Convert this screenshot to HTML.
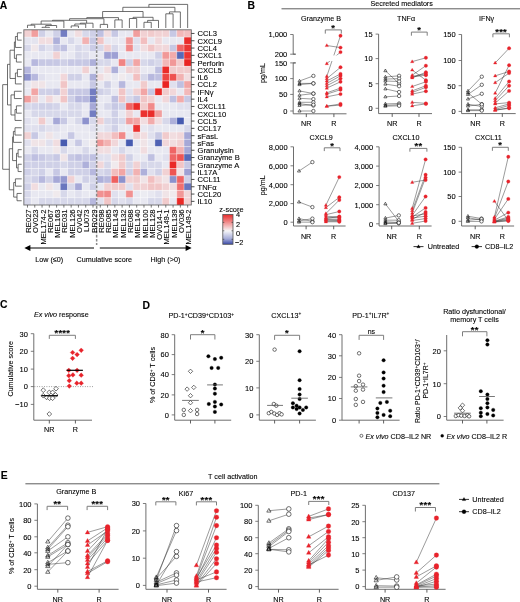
<!DOCTYPE html>
<html><head><meta charset="utf-8"><style>
html,body{margin:0;padding:0;background:#fff;}
svg{display:block;font-family:'Liberation Sans', Arial, Helvetica, sans-serif;}
text{stroke:#000;stroke-width:0.1px;}
</style></head><body>
<svg width="520" height="602" viewBox="0 0 520 602">
<rect width="520" height="602" fill="#fff"/>
<rect x="23.85" y="29.8" width="7.28" height="7.3" fill="#f1d1d3"/>
<rect x="31.13" y="29.8" width="7.28" height="7.3" fill="#f19e9e"/>
<rect x="38.41" y="29.8" width="7.28" height="7.3" fill="#cfd0e7"/>
<rect x="45.69" y="29.8" width="7.28" height="7.3" fill="#e8e8f1"/>
<rect x="52.97" y="29.8" width="7.28" height="7.3" fill="#cfd0e7"/>
<rect x="60.25" y="29.8" width="7.28" height="7.3" fill="#737dc2"/>
<rect x="67.53" y="29.8" width="7.28" height="7.3" fill="#e8e8f1"/>
<rect x="74.81" y="29.8" width="7.28" height="7.3" fill="#f1dde0"/>
<rect x="82.09" y="29.8" width="7.28" height="7.3" fill="#d7d8ea"/>
<rect x="89.37" y="29.8" width="7.28" height="7.3" fill="#cfd0e7"/>
<rect x="96.65" y="29.8" width="7.28" height="7.3" fill="#bfc0e1"/>
<rect x="103.93" y="29.8" width="7.28" height="7.3" fill="#f1dde0"/>
<rect x="111.21" y="29.8" width="7.28" height="7.3" fill="#c7c8e4"/>
<rect x="118.49" y="29.8" width="7.28" height="7.3" fill="#e8e8f1"/>
<rect x="125.77" y="29.8" width="7.28" height="7.3" fill="#e8e8f1"/>
<rect x="133.05" y="29.8" width="7.28" height="7.3" fill="#f19e9e"/>
<rect x="140.33" y="29.8" width="7.28" height="7.3" fill="#f1d1d3"/>
<rect x="147.61" y="29.8" width="7.28" height="7.3" fill="#f1cbcc"/>
<rect x="154.89" y="29.8" width="7.28" height="7.3" fill="#f1d1d3"/>
<rect x="162.17" y="29.8" width="7.28" height="7.3" fill="#f1d1d3"/>
<rect x="169.45" y="29.8" width="7.28" height="7.3" fill="#c7c8e4"/>
<rect x="176.73" y="29.8" width="7.28" height="7.3" fill="#f2b8b9"/>
<rect x="184.01" y="29.8" width="7.28" height="7.3" fill="#f2bebf"/>
<rect x="23.85" y="37.1" width="7.28" height="7.3" fill="#e4e4ef"/>
<rect x="31.13" y="37.1" width="7.28" height="7.3" fill="#e4e4ef"/>
<rect x="38.41" y="37.1" width="7.28" height="7.3" fill="#f1dde0"/>
<rect x="45.69" y="37.1" width="7.28" height="7.3" fill="#f1dde0"/>
<rect x="52.97" y="37.1" width="7.28" height="7.3" fill="#aeb0da"/>
<rect x="60.25" y="37.1" width="7.28" height="7.3" fill="#e8e8f1"/>
<rect x="67.53" y="37.1" width="7.28" height="7.3" fill="#d7d8ea"/>
<rect x="74.81" y="37.1" width="7.28" height="7.3" fill="#e8e8f1"/>
<rect x="82.09" y="37.1" width="7.28" height="7.3" fill="#f2b2b2"/>
<rect x="89.37" y="37.1" width="7.28" height="7.3" fill="#c7c8e4"/>
<rect x="96.65" y="37.1" width="7.28" height="7.3" fill="#f1c5c6"/>
<rect x="103.93" y="37.1" width="7.28" height="7.3" fill="#e8e8f1"/>
<rect x="111.21" y="37.1" width="7.28" height="7.3" fill="#e8e8f1"/>
<rect x="118.49" y="37.1" width="7.28" height="7.3" fill="#e8e8f1"/>
<rect x="125.77" y="37.1" width="7.28" height="7.3" fill="#f19898"/>
<rect x="133.05" y="37.1" width="7.28" height="7.3" fill="#e0e0ee"/>
<rect x="140.33" y="37.1" width="7.28" height="7.3" fill="#f2bebf"/>
<rect x="147.61" y="37.1" width="7.28" height="7.3" fill="#e8e8f1"/>
<rect x="154.89" y="37.1" width="7.28" height="7.3" fill="#f1d7da"/>
<rect x="162.17" y="37.1" width="7.28" height="7.3" fill="#e8e8f1"/>
<rect x="169.45" y="37.1" width="7.28" height="7.3" fill="#e8e8f1"/>
<rect x="176.73" y="37.1" width="7.28" height="7.3" fill="#e8e8f1"/>
<rect x="184.01" y="37.1" width="7.28" height="7.3" fill="#ea2c2a"/>
<rect x="23.85" y="44.4" width="7.28" height="7.3" fill="#d7d8ea"/>
<rect x="31.13" y="44.4" width="7.28" height="7.3" fill="#f0e7ea"/>
<rect x="38.41" y="44.4" width="7.28" height="7.3" fill="#d3d4e9"/>
<rect x="45.69" y="44.4" width="7.28" height="7.3" fill="#e0e0ee"/>
<rect x="52.97" y="44.4" width="7.28" height="7.3" fill="#c7c8e4"/>
<rect x="60.25" y="44.4" width="7.28" height="7.3" fill="#bfc0e1"/>
<rect x="67.53" y="44.4" width="7.28" height="7.3" fill="#e8e8f1"/>
<rect x="74.81" y="44.4" width="7.28" height="7.3" fill="#d7d8ea"/>
<rect x="82.09" y="44.4" width="7.28" height="7.3" fill="#e0e0ee"/>
<rect x="89.37" y="44.4" width="7.28" height="7.3" fill="#cbcce6"/>
<rect x="96.65" y="44.4" width="7.28" height="7.3" fill="#d7d8ea"/>
<rect x="103.93" y="44.4" width="7.28" height="7.3" fill="#f1d1d3"/>
<rect x="111.21" y="44.4" width="7.28" height="7.3" fill="#d7d8ea"/>
<rect x="118.49" y="44.4" width="7.28" height="7.3" fill="#e8e8f1"/>
<rect x="125.77" y="44.4" width="7.28" height="7.3" fill="#f18a8a"/>
<rect x="133.05" y="44.4" width="7.28" height="7.3" fill="#e0e0ee"/>
<rect x="140.33" y="44.4" width="7.28" height="7.3" fill="#f1dde0"/>
<rect x="147.61" y="44.4" width="7.28" height="7.3" fill="#f1c5c6"/>
<rect x="154.89" y="44.4" width="7.28" height="7.3" fill="#f1d7da"/>
<rect x="162.17" y="44.4" width="7.28" height="7.3" fill="#f1d7da"/>
<rect x="169.45" y="44.4" width="7.28" height="7.3" fill="#c7c8e4"/>
<rect x="176.73" y="44.4" width="7.28" height="7.3" fill="#ef6565"/>
<rect x="184.01" y="44.4" width="7.28" height="7.3" fill="#eb3432"/>
<rect x="23.85" y="51.7" width="7.28" height="7.3" fill="#e8e8f1"/>
<rect x="31.13" y="51.7" width="7.28" height="7.3" fill="#e8e8f1"/>
<rect x="38.41" y="51.7" width="7.28" height="7.3" fill="#e8e8f1"/>
<rect x="45.69" y="51.7" width="7.28" height="7.3" fill="#e8e8f1"/>
<rect x="52.97" y="51.7" width="7.28" height="7.3" fill="#f1d1d3"/>
<rect x="60.25" y="51.7" width="7.28" height="7.3" fill="#e8e8f1"/>
<rect x="67.53" y="51.7" width="7.28" height="7.3" fill="#e8e8f1"/>
<rect x="74.81" y="51.7" width="7.28" height="7.3" fill="#d7d8ea"/>
<rect x="82.09" y="51.7" width="7.28" height="7.3" fill="#dcdcec"/>
<rect x="89.37" y="51.7" width="7.28" height="7.3" fill="#e8e8f1"/>
<rect x="96.65" y="51.7" width="7.28" height="7.3" fill="#e8e8f1"/>
<rect x="103.93" y="51.7" width="7.28" height="7.3" fill="#9ea0d4"/>
<rect x="111.21" y="51.7" width="7.28" height="7.3" fill="#9ea0d4"/>
<rect x="118.49" y="51.7" width="7.28" height="7.3" fill="#e8e8f1"/>
<rect x="125.77" y="51.7" width="7.28" height="7.3" fill="#e8e8f1"/>
<rect x="133.05" y="51.7" width="7.28" height="7.3" fill="#e8e8f1"/>
<rect x="140.33" y="51.7" width="7.28" height="7.3" fill="#e8e8f1"/>
<rect x="147.61" y="51.7" width="7.28" height="7.3" fill="#e8e8f1"/>
<rect x="154.89" y="51.7" width="7.28" height="7.3" fill="#cfd0e7"/>
<rect x="162.17" y="51.7" width="7.28" height="7.3" fill="#f19898"/>
<rect x="169.45" y="51.7" width="7.28" height="7.3" fill="#f2abab"/>
<rect x="176.73" y="51.7" width="7.28" height="7.3" fill="#5869b7"/>
<rect x="184.01" y="51.7" width="7.28" height="7.3" fill="#eb3432"/>
<rect x="23.85" y="59" width="7.28" height="7.3" fill="#e8e8f1"/>
<rect x="31.13" y="59" width="7.28" height="7.3" fill="#b7b8de"/>
<rect x="38.41" y="59" width="7.28" height="7.3" fill="#c7c8e4"/>
<rect x="45.69" y="59" width="7.28" height="7.3" fill="#c7c8e4"/>
<rect x="52.97" y="59" width="7.28" height="7.3" fill="#c7c8e4"/>
<rect x="60.25" y="59" width="7.28" height="7.3" fill="#cfd0e7"/>
<rect x="67.53" y="59" width="7.28" height="7.3" fill="#c7c8e4"/>
<rect x="74.81" y="59" width="7.28" height="7.3" fill="#c7c8e4"/>
<rect x="82.09" y="59" width="7.28" height="7.3" fill="#c7c8e4"/>
<rect x="89.37" y="59" width="7.28" height="7.3" fill="#aeb0da"/>
<rect x="96.65" y="59" width="7.28" height="7.3" fill="#d7d8ea"/>
<rect x="103.93" y="59" width="7.28" height="7.3" fill="#d7d8ea"/>
<rect x="111.21" y="59" width="7.28" height="7.3" fill="#e8e8f1"/>
<rect x="118.49" y="59" width="7.28" height="7.3" fill="#f18484"/>
<rect x="125.77" y="59" width="7.28" height="7.3" fill="#cfd0e7"/>
<rect x="133.05" y="59" width="7.28" height="7.3" fill="#f2a5a5"/>
<rect x="140.33" y="59" width="7.28" height="7.3" fill="#d7d8ea"/>
<rect x="147.61" y="59" width="7.28" height="7.3" fill="#cfd0e7"/>
<rect x="154.89" y="59" width="7.28" height="7.3" fill="#d7d8ea"/>
<rect x="162.17" y="59" width="7.28" height="7.3" fill="#f2b8b9"/>
<rect x="169.45" y="59" width="7.28" height="7.3" fill="#f19898"/>
<rect x="176.73" y="59" width="7.28" height="7.3" fill="#f1cbcc"/>
<rect x="184.01" y="59" width="7.28" height="7.3" fill="#e92422"/>
<rect x="23.85" y="66.3" width="7.28" height="7.3" fill="#b7b8de"/>
<rect x="31.13" y="66.3" width="7.28" height="7.3" fill="#e8e8f1"/>
<rect x="38.41" y="66.3" width="7.28" height="7.3" fill="#e8e8f1"/>
<rect x="45.69" y="66.3" width="7.28" height="7.3" fill="#e8e8f1"/>
<rect x="52.97" y="66.3" width="7.28" height="7.3" fill="#e8e8f1"/>
<rect x="60.25" y="66.3" width="7.28" height="7.3" fill="#e8e8f1"/>
<rect x="67.53" y="66.3" width="7.28" height="7.3" fill="#e8e8f1"/>
<rect x="74.81" y="66.3" width="7.28" height="7.3" fill="#e8e8f1"/>
<rect x="82.09" y="66.3" width="7.28" height="7.3" fill="#f1d1d3"/>
<rect x="89.37" y="66.3" width="7.28" height="7.3" fill="#e8e8f1"/>
<rect x="96.65" y="66.3" width="7.28" height="7.3" fill="#e8e8f1"/>
<rect x="103.93" y="66.3" width="7.28" height="7.3" fill="#f1dde0"/>
<rect x="111.21" y="66.3" width="7.28" height="7.3" fill="#aeb0da"/>
<rect x="118.49" y="66.3" width="7.28" height="7.3" fill="#e8e8f1"/>
<rect x="125.77" y="66.3" width="7.28" height="7.3" fill="#f1d1d3"/>
<rect x="133.05" y="66.3" width="7.28" height="7.3" fill="#f1d1d3"/>
<rect x="140.33" y="66.3" width="7.28" height="7.3" fill="#e8e8f1"/>
<rect x="147.61" y="66.3" width="7.28" height="7.3" fill="#e8e8f1"/>
<rect x="154.89" y="66.3" width="7.28" height="7.3" fill="#bfc0e1"/>
<rect x="162.17" y="66.3" width="7.28" height="7.3" fill="#ea2c2a"/>
<rect x="169.45" y="66.3" width="7.28" height="7.3" fill="#f1cbcc"/>
<rect x="176.73" y="66.3" width="7.28" height="7.3" fill="#f1cbcc"/>
<rect x="184.01" y="66.3" width="7.28" height="7.3" fill="#f1cbcc"/>
<rect x="23.85" y="73.6" width="7.28" height="7.3" fill="#8d92cd"/>
<rect x="31.13" y="73.6" width="7.28" height="7.3" fill="#b7b8de"/>
<rect x="38.41" y="73.6" width="7.28" height="7.3" fill="#e0e0ee"/>
<rect x="45.69" y="73.6" width="7.28" height="7.3" fill="#e8e8f1"/>
<rect x="52.97" y="73.6" width="7.28" height="7.3" fill="#e8e8f1"/>
<rect x="60.25" y="73.6" width="7.28" height="7.3" fill="#f1d7da"/>
<rect x="67.53" y="73.6" width="7.28" height="7.3" fill="#cfd0e7"/>
<rect x="74.81" y="73.6" width="7.28" height="7.3" fill="#cfd0e7"/>
<rect x="82.09" y="73.6" width="7.28" height="7.3" fill="#e8e8f1"/>
<rect x="89.37" y="73.6" width="7.28" height="7.3" fill="#aeb0da"/>
<rect x="96.65" y="73.6" width="7.28" height="7.3" fill="#f1dde0"/>
<rect x="103.93" y="73.6" width="7.28" height="7.3" fill="#f0eaed"/>
<rect x="111.21" y="73.6" width="7.28" height="7.3" fill="#e8e8f1"/>
<rect x="118.49" y="73.6" width="7.28" height="7.3" fill="#f0eaed"/>
<rect x="125.77" y="73.6" width="7.28" height="7.3" fill="#e8e8f1"/>
<rect x="133.05" y="73.6" width="7.28" height="7.3" fill="#f2bebf"/>
<rect x="140.33" y="73.6" width="7.28" height="7.3" fill="#d7d8ea"/>
<rect x="147.61" y="73.6" width="7.28" height="7.3" fill="#b7b8de"/>
<rect x="154.89" y="73.6" width="7.28" height="7.3" fill="#bfc0e1"/>
<rect x="162.17" y="73.6" width="7.28" height="7.3" fill="#ed4543"/>
<rect x="169.45" y="73.6" width="7.28" height="7.3" fill="#ee504e"/>
<rect x="176.73" y="73.6" width="7.28" height="7.3" fill="#f2b2b2"/>
<rect x="184.01" y="73.6" width="7.28" height="7.3" fill="#f1dde0"/>
<rect x="23.85" y="80.9" width="7.28" height="7.3" fill="#e8e8f1"/>
<rect x="31.13" y="80.9" width="7.28" height="7.3" fill="#f0e4e7"/>
<rect x="38.41" y="80.9" width="7.28" height="7.3" fill="#f0e4e7"/>
<rect x="45.69" y="80.9" width="7.28" height="7.3" fill="#e8e8f1"/>
<rect x="52.97" y="80.9" width="7.28" height="7.3" fill="#e8e8f1"/>
<rect x="60.25" y="80.9" width="7.28" height="7.3" fill="#f1c5c6"/>
<rect x="67.53" y="80.9" width="7.28" height="7.3" fill="#e8e8f1"/>
<rect x="74.81" y="80.9" width="7.28" height="7.3" fill="#e8e8f1"/>
<rect x="82.09" y="80.9" width="7.28" height="7.3" fill="#e8e8f1"/>
<rect x="89.37" y="80.9" width="7.28" height="7.3" fill="#c7c8e4"/>
<rect x="96.65" y="80.9" width="7.28" height="7.3" fill="#e8e8f1"/>
<rect x="103.93" y="80.9" width="7.28" height="7.3" fill="#cfd0e7"/>
<rect x="111.21" y="80.9" width="7.28" height="7.3" fill="#e8e8f1"/>
<rect x="118.49" y="80.9" width="7.28" height="7.3" fill="#b7b8de"/>
<rect x="125.77" y="80.9" width="7.28" height="7.3" fill="#e8e8f1"/>
<rect x="133.05" y="80.9" width="7.28" height="7.3" fill="#e8e8f1"/>
<rect x="140.33" y="80.9" width="7.28" height="7.3" fill="#f1cbcc"/>
<rect x="147.61" y="80.9" width="7.28" height="7.3" fill="#e8e8f1"/>
<rect x="154.89" y="80.9" width="7.28" height="7.3" fill="#e8e8f1"/>
<rect x="162.17" y="80.9" width="7.28" height="7.3" fill="#e92422"/>
<rect x="169.45" y="80.9" width="7.28" height="7.3" fill="#e0e0ee"/>
<rect x="176.73" y="80.9" width="7.28" height="7.3" fill="#bfc0e1"/>
<rect x="184.01" y="80.9" width="7.28" height="7.3" fill="#f2a5a5"/>
<rect x="23.85" y="88.2" width="7.28" height="7.3" fill="#e8e8f1"/>
<rect x="31.13" y="88.2" width="7.28" height="7.3" fill="#f2a5a5"/>
<rect x="38.41" y="88.2" width="7.28" height="7.3" fill="#cfd0e7"/>
<rect x="45.69" y="88.2" width="7.28" height="7.3" fill="#cfd0e7"/>
<rect x="52.97" y="88.2" width="7.28" height="7.3" fill="#c7c8e4"/>
<rect x="60.25" y="88.2" width="7.28" height="7.3" fill="#f1d1d3"/>
<rect x="67.53" y="88.2" width="7.28" height="7.3" fill="#c7c8e4"/>
<rect x="74.81" y="88.2" width="7.28" height="7.3" fill="#c7c8e4"/>
<rect x="82.09" y="88.2" width="7.28" height="7.3" fill="#c7c8e4"/>
<rect x="89.37" y="88.2" width="7.28" height="7.3" fill="#737dc2"/>
<rect x="96.65" y="88.2" width="7.28" height="7.3" fill="#cfd0e7"/>
<rect x="103.93" y="88.2" width="7.28" height="7.3" fill="#d7d8ea"/>
<rect x="111.21" y="88.2" width="7.28" height="7.3" fill="#e8e8f1"/>
<rect x="118.49" y="88.2" width="7.28" height="7.3" fill="#f1c5c6"/>
<rect x="125.77" y="88.2" width="7.28" height="7.3" fill="#e0e0ee"/>
<rect x="133.05" y="88.2" width="7.28" height="7.3" fill="#f1d1d3"/>
<rect x="140.33" y="88.2" width="7.28" height="7.3" fill="#f2a5a5"/>
<rect x="147.61" y="88.2" width="7.28" height="7.3" fill="#c7c8e4"/>
<rect x="154.89" y="88.2" width="7.28" height="7.3" fill="#ea2c2a"/>
<rect x="162.17" y="88.2" width="7.28" height="7.3" fill="#f1cbcc"/>
<rect x="169.45" y="88.2" width="7.28" height="7.3" fill="#f1d7da"/>
<rect x="176.73" y="88.2" width="7.28" height="7.3" fill="#e8e8f1"/>
<rect x="184.01" y="88.2" width="7.28" height="7.3" fill="#f2b8b9"/>
<rect x="23.85" y="95.5" width="7.28" height="7.3" fill="#f19e9e"/>
<rect x="31.13" y="95.5" width="7.28" height="7.3" fill="#f1cbcc"/>
<rect x="38.41" y="95.5" width="7.28" height="7.3" fill="#e8e8f1"/>
<rect x="45.69" y="95.5" width="7.28" height="7.3" fill="#f1d7da"/>
<rect x="52.97" y="95.5" width="7.28" height="7.3" fill="#f0eaed"/>
<rect x="60.25" y="95.5" width="7.28" height="7.3" fill="#f1c5c6"/>
<rect x="67.53" y="95.5" width="7.28" height="7.3" fill="#cfd0e7"/>
<rect x="74.81" y="95.5" width="7.28" height="7.3" fill="#b7b8de"/>
<rect x="82.09" y="95.5" width="7.28" height="7.3" fill="#b7b8de"/>
<rect x="89.37" y="95.5" width="7.28" height="7.3" fill="#737dc2"/>
<rect x="96.65" y="95.5" width="7.28" height="7.3" fill="#e8e8f1"/>
<rect x="103.93" y="95.5" width="7.28" height="7.3" fill="#e8e8f1"/>
<rect x="111.21" y="95.5" width="7.28" height="7.3" fill="#bfc0e1"/>
<rect x="118.49" y="95.5" width="7.28" height="7.3" fill="#f1c5c6"/>
<rect x="125.77" y="95.5" width="7.28" height="7.3" fill="#d7d8ea"/>
<rect x="133.05" y="95.5" width="7.28" height="7.3" fill="#c7c8e4"/>
<rect x="140.33" y="95.5" width="7.28" height="7.3" fill="#f1c5c6"/>
<rect x="147.61" y="95.5" width="7.28" height="7.3" fill="#f1d1d3"/>
<rect x="154.89" y="95.5" width="7.28" height="7.3" fill="#e8e8f1"/>
<rect x="162.17" y="95.5" width="7.28" height="7.3" fill="#f1d7da"/>
<rect x="169.45" y="95.5" width="7.28" height="7.3" fill="#bfc0e1"/>
<rect x="176.73" y="95.5" width="7.28" height="7.3" fill="#f2abab"/>
<rect x="184.01" y="95.5" width="7.28" height="7.3" fill="#c7c8e4"/>
<rect x="23.85" y="102.8" width="7.28" height="7.3" fill="#d7d8ea"/>
<rect x="31.13" y="102.8" width="7.28" height="7.3" fill="#d3d4e9"/>
<rect x="38.41" y="102.8" width="7.28" height="7.3" fill="#cfd0e7"/>
<rect x="45.69" y="102.8" width="7.28" height="7.3" fill="#cfd0e7"/>
<rect x="52.97" y="102.8" width="7.28" height="7.3" fill="#d3d4e9"/>
<rect x="60.25" y="102.8" width="7.28" height="7.3" fill="#e8e8f1"/>
<rect x="67.53" y="102.8" width="7.28" height="7.3" fill="#d7d8ea"/>
<rect x="74.81" y="102.8" width="7.28" height="7.3" fill="#d7d8ea"/>
<rect x="82.09" y="102.8" width="7.28" height="7.3" fill="#e8e8f1"/>
<rect x="89.37" y="102.8" width="7.28" height="7.3" fill="#a6a8d7"/>
<rect x="96.65" y="102.8" width="7.28" height="7.3" fill="#e8e8f1"/>
<rect x="103.93" y="102.8" width="7.28" height="7.3" fill="#d7d8ea"/>
<rect x="111.21" y="102.8" width="7.28" height="7.3" fill="#c7c8e4"/>
<rect x="118.49" y="102.8" width="7.28" height="7.3" fill="#cfd0e7"/>
<rect x="125.77" y="102.8" width="7.28" height="7.3" fill="#ef6565"/>
<rect x="133.05" y="102.8" width="7.28" height="7.3" fill="#ea2c2a"/>
<rect x="140.33" y="102.8" width="7.28" height="7.3" fill="#f1cbcc"/>
<rect x="147.61" y="102.8" width="7.28" height="7.3" fill="#f18a8a"/>
<rect x="154.89" y="102.8" width="7.28" height="7.3" fill="#e8e8f1"/>
<rect x="162.17" y="102.8" width="7.28" height="7.3" fill="#e8e8f1"/>
<rect x="169.45" y="102.8" width="7.28" height="7.3" fill="#e8e8f1"/>
<rect x="176.73" y="102.8" width="7.28" height="7.3" fill="#e0e0ee"/>
<rect x="184.01" y="102.8" width="7.28" height="7.3" fill="#e0e0ee"/>
<rect x="23.85" y="110.1" width="7.28" height="7.3" fill="#e8e8f1"/>
<rect x="31.13" y="110.1" width="7.28" height="7.3" fill="#d7d8ea"/>
<rect x="38.41" y="110.1" width="7.28" height="7.3" fill="#d7d8ea"/>
<rect x="45.69" y="110.1" width="7.28" height="7.3" fill="#d7d8ea"/>
<rect x="52.97" y="110.1" width="7.28" height="7.3" fill="#d7d8ea"/>
<rect x="60.25" y="110.1" width="7.28" height="7.3" fill="#d7d8ea"/>
<rect x="67.53" y="110.1" width="7.28" height="7.3" fill="#d7d8ea"/>
<rect x="74.81" y="110.1" width="7.28" height="7.3" fill="#d7d8ea"/>
<rect x="82.09" y="110.1" width="7.28" height="7.3" fill="#e8e8f1"/>
<rect x="89.37" y="110.1" width="7.28" height="7.3" fill="#737dc2"/>
<rect x="96.65" y="110.1" width="7.28" height="7.3" fill="#e8e8f1"/>
<rect x="103.93" y="110.1" width="7.28" height="7.3" fill="#e8e8f1"/>
<rect x="111.21" y="110.1" width="7.28" height="7.3" fill="#cfd0e7"/>
<rect x="118.49" y="110.1" width="7.28" height="7.3" fill="#e8e8f1"/>
<rect x="125.77" y="110.1" width="7.28" height="7.3" fill="#f1d1d3"/>
<rect x="133.05" y="110.1" width="7.28" height="7.3" fill="#e8e8f1"/>
<rect x="140.33" y="110.1" width="7.28" height="7.3" fill="#eb3230"/>
<rect x="147.61" y="110.1" width="7.28" height="7.3" fill="#ea2c2a"/>
<rect x="154.89" y="110.1" width="7.28" height="7.3" fill="#f19e9e"/>
<rect x="162.17" y="110.1" width="7.28" height="7.3" fill="#e8e8f1"/>
<rect x="169.45" y="110.1" width="7.28" height="7.3" fill="#e8e8f1"/>
<rect x="176.73" y="110.1" width="7.28" height="7.3" fill="#e8e8f1"/>
<rect x="184.01" y="110.1" width="7.28" height="7.3" fill="#e8e8f1"/>
<rect x="23.85" y="117.4" width="7.28" height="7.3" fill="#e0e0ee"/>
<rect x="31.13" y="117.4" width="7.28" height="7.3" fill="#e8e8f1"/>
<rect x="38.41" y="117.4" width="7.28" height="7.3" fill="#f1cbcc"/>
<rect x="45.69" y="117.4" width="7.28" height="7.3" fill="#e8e8f1"/>
<rect x="52.97" y="117.4" width="7.28" height="7.3" fill="#a6a8d7"/>
<rect x="60.25" y="117.4" width="7.28" height="7.3" fill="#c7c8e4"/>
<rect x="67.53" y="117.4" width="7.28" height="7.3" fill="#e8e8f1"/>
<rect x="74.81" y="117.4" width="7.28" height="7.3" fill="#d7d8ea"/>
<rect x="82.09" y="117.4" width="7.28" height="7.3" fill="#8d92cd"/>
<rect x="89.37" y="117.4" width="7.28" height="7.3" fill="#d7d8ea"/>
<rect x="96.65" y="117.4" width="7.28" height="7.3" fill="#f1d1d3"/>
<rect x="103.93" y="117.4" width="7.28" height="7.3" fill="#d7d8ea"/>
<rect x="111.21" y="117.4" width="7.28" height="7.3" fill="#cfd0e7"/>
<rect x="118.49" y="117.4" width="7.28" height="7.3" fill="#d7d8ea"/>
<rect x="125.77" y="117.4" width="7.28" height="7.3" fill="#f19e9e"/>
<rect x="133.05" y="117.4" width="7.28" height="7.3" fill="#f2a5a5"/>
<rect x="140.33" y="117.4" width="7.28" height="7.3" fill="#f1dde0"/>
<rect x="147.61" y="117.4" width="7.28" height="7.3" fill="#f2abab"/>
<rect x="154.89" y="117.4" width="7.28" height="7.3" fill="#f1dde0"/>
<rect x="162.17" y="117.4" width="7.28" height="7.3" fill="#d7d8ea"/>
<rect x="169.45" y="117.4" width="7.28" height="7.3" fill="#aeb0da"/>
<rect x="176.73" y="117.4" width="7.28" height="7.3" fill="#475bb0"/>
<rect x="184.01" y="117.4" width="7.28" height="7.3" fill="#e8e8f1"/>
<rect x="23.85" y="124.7" width="7.28" height="7.3" fill="#e0e0ee"/>
<rect x="31.13" y="124.7" width="7.28" height="7.3" fill="#e0e0ee"/>
<rect x="38.41" y="124.7" width="7.28" height="7.3" fill="#d7d8ea"/>
<rect x="45.69" y="124.7" width="7.28" height="7.3" fill="#e0e0ee"/>
<rect x="52.97" y="124.7" width="7.28" height="7.3" fill="#e0e0ee"/>
<rect x="60.25" y="124.7" width="7.28" height="7.3" fill="#e8e8f1"/>
<rect x="67.53" y="124.7" width="7.28" height="7.3" fill="#e8e8f1"/>
<rect x="74.81" y="124.7" width="7.28" height="7.3" fill="#e8e8f1"/>
<rect x="82.09" y="124.7" width="7.28" height="7.3" fill="#e8e8f1"/>
<rect x="89.37" y="124.7" width="7.28" height="7.3" fill="#e0e0ee"/>
<rect x="96.65" y="124.7" width="7.28" height="7.3" fill="#e8e8f1"/>
<rect x="103.93" y="124.7" width="7.28" height="7.3" fill="#e0e0ee"/>
<rect x="111.21" y="124.7" width="7.28" height="7.3" fill="#cfd0e7"/>
<rect x="118.49" y="124.7" width="7.28" height="7.3" fill="#e8e8f1"/>
<rect x="125.77" y="124.7" width="7.28" height="7.3" fill="#e8e8f1"/>
<rect x="133.05" y="124.7" width="7.28" height="7.3" fill="#eb3230"/>
<rect x="140.33" y="124.7" width="7.28" height="7.3" fill="#e8e8f1"/>
<rect x="147.61" y="124.7" width="7.28" height="7.3" fill="#e0e0ee"/>
<rect x="154.89" y="124.7" width="7.28" height="7.3" fill="#e8e8f1"/>
<rect x="162.17" y="124.7" width="7.28" height="7.3" fill="#e8e8f1"/>
<rect x="169.45" y="124.7" width="7.28" height="7.3" fill="#e8e8f1"/>
<rect x="176.73" y="124.7" width="7.28" height="7.3" fill="#e8e8f1"/>
<rect x="184.01" y="124.7" width="7.28" height="7.3" fill="#d7d8ea"/>
<rect x="23.85" y="132" width="7.28" height="7.3" fill="#f1d1d3"/>
<rect x="31.13" y="132" width="7.28" height="7.3" fill="#c7c8e4"/>
<rect x="38.41" y="132" width="7.28" height="7.3" fill="#e8e8f1"/>
<rect x="45.69" y="132" width="7.28" height="7.3" fill="#f0e4e7"/>
<rect x="52.97" y="132" width="7.28" height="7.3" fill="#e8e8f1"/>
<rect x="60.25" y="132" width="7.28" height="7.3" fill="#e8e8f1"/>
<rect x="67.53" y="132" width="7.28" height="7.3" fill="#c7c8e4"/>
<rect x="74.81" y="132" width="7.28" height="7.3" fill="#e8e8f1"/>
<rect x="82.09" y="132" width="7.28" height="7.3" fill="#e8e8f1"/>
<rect x="89.37" y="132" width="7.28" height="7.3" fill="#e8e8f1"/>
<rect x="96.65" y="132" width="7.28" height="7.3" fill="#f1d7da"/>
<rect x="103.93" y="132" width="7.28" height="7.3" fill="#f1d7da"/>
<rect x="111.21" y="132" width="7.28" height="7.3" fill="#f2bebf"/>
<rect x="118.49" y="132" width="7.28" height="7.3" fill="#f18a8a"/>
<rect x="125.77" y="132" width="7.28" height="7.3" fill="#e8e8f1"/>
<rect x="133.05" y="132" width="7.28" height="7.3" fill="#f1d1d3"/>
<rect x="140.33" y="132" width="7.28" height="7.3" fill="#f1dde0"/>
<rect x="147.61" y="132" width="7.28" height="7.3" fill="#e0e0ee"/>
<rect x="154.89" y="132" width="7.28" height="7.3" fill="#c7c8e4"/>
<rect x="162.17" y="132" width="7.28" height="7.3" fill="#f1cbcc"/>
<rect x="169.45" y="132" width="7.28" height="7.3" fill="#f1dde0"/>
<rect x="176.73" y="132" width="7.28" height="7.3" fill="#f1d7da"/>
<rect x="184.01" y="132" width="7.28" height="7.3" fill="#a6a8d7"/>
<rect x="23.85" y="139.3" width="7.28" height="7.3" fill="#e0e0ee"/>
<rect x="31.13" y="139.3" width="7.28" height="7.3" fill="#f0e4e7"/>
<rect x="38.41" y="139.3" width="7.28" height="7.3" fill="#f0e4e7"/>
<rect x="45.69" y="139.3" width="7.28" height="7.3" fill="#e0e0ee"/>
<rect x="52.97" y="139.3" width="7.28" height="7.3" fill="#f1dde0"/>
<rect x="60.25" y="139.3" width="7.28" height="7.3" fill="#475bb0"/>
<rect x="67.53" y="139.3" width="7.28" height="7.3" fill="#e8e8f1"/>
<rect x="74.81" y="139.3" width="7.28" height="7.3" fill="#c7c8e4"/>
<rect x="82.09" y="139.3" width="7.28" height="7.3" fill="#e8e8f1"/>
<rect x="89.37" y="139.3" width="7.28" height="7.3" fill="#f0eaed"/>
<rect x="96.65" y="139.3" width="7.28" height="7.3" fill="#f19898"/>
<rect x="103.93" y="139.3" width="7.28" height="7.3" fill="#f2b2b2"/>
<rect x="111.21" y="139.3" width="7.28" height="7.3" fill="#f1d7da"/>
<rect x="118.49" y="139.3" width="7.28" height="7.3" fill="#e8e8f1"/>
<rect x="125.77" y="139.3" width="7.28" height="7.3" fill="#475bb0"/>
<rect x="133.05" y="139.3" width="7.28" height="7.3" fill="#e8e8f1"/>
<rect x="140.33" y="139.3" width="7.28" height="7.3" fill="#f0e4e7"/>
<rect x="147.61" y="139.3" width="7.28" height="7.3" fill="#e8e8f1"/>
<rect x="154.89" y="139.3" width="7.28" height="7.3" fill="#5062b3"/>
<rect x="162.17" y="139.3" width="7.28" height="7.3" fill="#f1d7da"/>
<rect x="169.45" y="139.3" width="7.28" height="7.3" fill="#f1dde0"/>
<rect x="176.73" y="139.3" width="7.28" height="7.3" fill="#f1d1d3"/>
<rect x="184.01" y="139.3" width="7.28" height="7.3" fill="#a6a8d7"/>
<rect x="23.85" y="146.6" width="7.28" height="7.3" fill="#e8e8f1"/>
<rect x="31.13" y="146.6" width="7.28" height="7.3" fill="#d7d8ea"/>
<rect x="38.41" y="146.6" width="7.28" height="7.3" fill="#e8e8f1"/>
<rect x="45.69" y="146.6" width="7.28" height="7.3" fill="#e8e8f1"/>
<rect x="52.97" y="146.6" width="7.28" height="7.3" fill="#f0e7ea"/>
<rect x="60.25" y="146.6" width="7.28" height="7.3" fill="#d7d8ea"/>
<rect x="67.53" y="146.6" width="7.28" height="7.3" fill="#e8e8f1"/>
<rect x="74.81" y="146.6" width="7.28" height="7.3" fill="#e8e8f1"/>
<rect x="82.09" y="146.6" width="7.28" height="7.3" fill="#d7d8ea"/>
<rect x="89.37" y="146.6" width="7.28" height="7.3" fill="#e8e8f1"/>
<rect x="96.65" y="146.6" width="7.28" height="7.3" fill="#f1dde0"/>
<rect x="103.93" y="146.6" width="7.28" height="7.3" fill="#f1dde0"/>
<rect x="111.21" y="146.6" width="7.28" height="7.3" fill="#e8e8f1"/>
<rect x="118.49" y="146.6" width="7.28" height="7.3" fill="#d7d8ea"/>
<rect x="125.77" y="146.6" width="7.28" height="7.3" fill="#e8e8f1"/>
<rect x="133.05" y="146.6" width="7.28" height="7.3" fill="#e8e8f1"/>
<rect x="140.33" y="146.6" width="7.28" height="7.3" fill="#f1dde0"/>
<rect x="147.61" y="146.6" width="7.28" height="7.3" fill="#e8e8f1"/>
<rect x="154.89" y="146.6" width="7.28" height="7.3" fill="#e8e8f1"/>
<rect x="162.17" y="146.6" width="7.28" height="7.3" fill="#e8e8f1"/>
<rect x="169.45" y="146.6" width="7.28" height="7.3" fill="#ef6565"/>
<rect x="176.73" y="146.6" width="7.28" height="7.3" fill="#f2b2b2"/>
<rect x="184.01" y="146.6" width="7.28" height="7.3" fill="#a6a8d7"/>
<rect x="23.85" y="153.9" width="7.28" height="7.3" fill="#cfd0e7"/>
<rect x="31.13" y="153.9" width="7.28" height="7.3" fill="#bfc0e1"/>
<rect x="38.41" y="153.9" width="7.28" height="7.3" fill="#c7c8e4"/>
<rect x="45.69" y="153.9" width="7.28" height="7.3" fill="#cfd0e7"/>
<rect x="52.97" y="153.9" width="7.28" height="7.3" fill="#c7c8e4"/>
<rect x="60.25" y="153.9" width="7.28" height="7.3" fill="#f0e4e7"/>
<rect x="67.53" y="153.9" width="7.28" height="7.3" fill="#c7c8e4"/>
<rect x="74.81" y="153.9" width="7.28" height="7.3" fill="#bfc0e1"/>
<rect x="82.09" y="153.9" width="7.28" height="7.3" fill="#c7c8e4"/>
<rect x="89.37" y="153.9" width="7.28" height="7.3" fill="#bfc0e1"/>
<rect x="96.65" y="153.9" width="7.28" height="7.3" fill="#e0e0ee"/>
<rect x="103.93" y="153.9" width="7.28" height="7.3" fill="#e0e0ee"/>
<rect x="111.21" y="153.9" width="7.28" height="7.3" fill="#f1dde0"/>
<rect x="118.49" y="153.9" width="7.28" height="7.3" fill="#f1cbcc"/>
<rect x="125.77" y="153.9" width="7.28" height="7.3" fill="#cfd0e7"/>
<rect x="133.05" y="153.9" width="7.28" height="7.3" fill="#e8e8f1"/>
<rect x="140.33" y="153.9" width="7.28" height="7.3" fill="#e8e8f1"/>
<rect x="147.61" y="153.9" width="7.28" height="7.3" fill="#bfc0e1"/>
<rect x="154.89" y="153.9" width="7.28" height="7.3" fill="#e8e8f1"/>
<rect x="162.17" y="153.9" width="7.28" height="7.3" fill="#e0e0ee"/>
<rect x="169.45" y="153.9" width="7.28" height="7.3" fill="#ef6565"/>
<rect x="176.73" y="153.9" width="7.28" height="7.3" fill="#ee5554"/>
<rect x="184.01" y="153.9" width="7.28" height="7.3" fill="#5869b7"/>
<rect x="23.85" y="161.2" width="7.28" height="7.3" fill="#cfd0e7"/>
<rect x="31.13" y="161.2" width="7.28" height="7.3" fill="#cfd0e7"/>
<rect x="38.41" y="161.2" width="7.28" height="7.3" fill="#cfd0e7"/>
<rect x="45.69" y="161.2" width="7.28" height="7.3" fill="#cfd0e7"/>
<rect x="52.97" y="161.2" width="7.28" height="7.3" fill="#cfd0e7"/>
<rect x="60.25" y="161.2" width="7.28" height="7.3" fill="#d7d8ea"/>
<rect x="67.53" y="161.2" width="7.28" height="7.3" fill="#cfd0e7"/>
<rect x="74.81" y="161.2" width="7.28" height="7.3" fill="#cfd0e7"/>
<rect x="82.09" y="161.2" width="7.28" height="7.3" fill="#aeb0da"/>
<rect x="89.37" y="161.2" width="7.28" height="7.3" fill="#cfd0e7"/>
<rect x="96.65" y="161.2" width="7.28" height="7.3" fill="#f1d7da"/>
<rect x="103.93" y="161.2" width="7.28" height="7.3" fill="#d7d8ea"/>
<rect x="111.21" y="161.2" width="7.28" height="7.3" fill="#f0eaed"/>
<rect x="118.49" y="161.2" width="7.28" height="7.3" fill="#f1cbcc"/>
<rect x="125.77" y="161.2" width="7.28" height="7.3" fill="#d7d8ea"/>
<rect x="133.05" y="161.2" width="7.28" height="7.3" fill="#f1d1d3"/>
<rect x="140.33" y="161.2" width="7.28" height="7.3" fill="#d7d8ea"/>
<rect x="147.61" y="161.2" width="7.28" height="7.3" fill="#d7d8ea"/>
<rect x="154.89" y="161.2" width="7.28" height="7.3" fill="#d7d8ea"/>
<rect x="162.17" y="161.2" width="7.28" height="7.3" fill="#e8e8f1"/>
<rect x="169.45" y="161.2" width="7.28" height="7.3" fill="#ea2927"/>
<rect x="176.73" y="161.2" width="7.28" height="7.3" fill="#f1c5c6"/>
<rect x="184.01" y="161.2" width="7.28" height="7.3" fill="#c7c8e4"/>
<rect x="23.85" y="168.5" width="7.28" height="7.3" fill="#cfd0e7"/>
<rect x="31.13" y="168.5" width="7.28" height="7.3" fill="#d7d8ea"/>
<rect x="38.41" y="168.5" width="7.28" height="7.3" fill="#cfd0e7"/>
<rect x="45.69" y="168.5" width="7.28" height="7.3" fill="#e8e8f1"/>
<rect x="52.97" y="168.5" width="7.28" height="7.3" fill="#c7c8e4"/>
<rect x="60.25" y="168.5" width="7.28" height="7.3" fill="#e8e8f1"/>
<rect x="67.53" y="168.5" width="7.28" height="7.3" fill="#cfd0e7"/>
<rect x="74.81" y="168.5" width="7.28" height="7.3" fill="#cfd0e7"/>
<rect x="82.09" y="168.5" width="7.28" height="7.3" fill="#cfd0e7"/>
<rect x="89.37" y="168.5" width="7.28" height="7.3" fill="#b7b8de"/>
<rect x="96.65" y="168.5" width="7.28" height="7.3" fill="#d7d8ea"/>
<rect x="103.93" y="168.5" width="7.28" height="7.3" fill="#cfd0e7"/>
<rect x="111.21" y="168.5" width="7.28" height="7.3" fill="#f2bebf"/>
<rect x="118.49" y="168.5" width="7.28" height="7.3" fill="#f2a5a5"/>
<rect x="125.77" y="168.5" width="7.28" height="7.3" fill="#cfd0e7"/>
<rect x="133.05" y="168.5" width="7.28" height="7.3" fill="#f2b2b2"/>
<rect x="140.33" y="168.5" width="7.28" height="7.3" fill="#aeb0da"/>
<rect x="147.61" y="168.5" width="7.28" height="7.3" fill="#e0e0ee"/>
<rect x="154.89" y="168.5" width="7.28" height="7.3" fill="#cfd0e7"/>
<rect x="162.17" y="168.5" width="7.28" height="7.3" fill="#f1d1d3"/>
<rect x="169.45" y="168.5" width="7.28" height="7.3" fill="#ee5554"/>
<rect x="176.73" y="168.5" width="7.28" height="7.3" fill="#f0e4e7"/>
<rect x="184.01" y="168.5" width="7.28" height="7.3" fill="#9ea0d4"/>
<rect x="23.85" y="175.8" width="7.28" height="7.3" fill="#d7d8ea"/>
<rect x="31.13" y="175.8" width="7.28" height="7.3" fill="#cfd0e7"/>
<rect x="38.41" y="175.8" width="7.28" height="7.3" fill="#b7b8de"/>
<rect x="45.69" y="175.8" width="7.28" height="7.3" fill="#cfd0e7"/>
<rect x="52.97" y="175.8" width="7.28" height="7.3" fill="#a6a8d7"/>
<rect x="60.25" y="175.8" width="7.28" height="7.3" fill="#9599d0"/>
<rect x="67.53" y="175.8" width="7.28" height="7.3" fill="#f1d1d3"/>
<rect x="74.81" y="175.8" width="7.28" height="7.3" fill="#e8e8f1"/>
<rect x="82.09" y="175.8" width="7.28" height="7.3" fill="#cfd0e7"/>
<rect x="89.37" y="175.8" width="7.28" height="7.3" fill="#d7d8ea"/>
<rect x="96.65" y="175.8" width="7.28" height="7.3" fill="#aeb0da"/>
<rect x="103.93" y="175.8" width="7.28" height="7.3" fill="#b7b8de"/>
<rect x="111.21" y="175.8" width="7.28" height="7.3" fill="#ef605f"/>
<rect x="118.49" y="175.8" width="7.28" height="7.3" fill="#8d92cd"/>
<rect x="125.77" y="175.8" width="7.28" height="7.3" fill="#f1d1d3"/>
<rect x="133.05" y="175.8" width="7.28" height="7.3" fill="#f1cbcc"/>
<rect x="140.33" y="175.8" width="7.28" height="7.3" fill="#f0e4e7"/>
<rect x="147.61" y="175.8" width="7.28" height="7.3" fill="#f2bebf"/>
<rect x="154.89" y="175.8" width="7.28" height="7.3" fill="#f1d7da"/>
<rect x="162.17" y="175.8" width="7.28" height="7.3" fill="#f0e4e7"/>
<rect x="169.45" y="175.8" width="7.28" height="7.3" fill="#8d92cd"/>
<rect x="176.73" y="175.8" width="7.28" height="7.3" fill="#ef6565"/>
<rect x="184.01" y="175.8" width="7.28" height="7.3" fill="#cfd0e7"/>
<rect x="23.85" y="183.1" width="7.28" height="7.3" fill="#cfd0e7"/>
<rect x="31.13" y="183.1" width="7.28" height="7.3" fill="#f1dde0"/>
<rect x="38.41" y="183.1" width="7.28" height="7.3" fill="#e8e8f1"/>
<rect x="45.69" y="183.1" width="7.28" height="7.3" fill="#f0e4e7"/>
<rect x="52.97" y="183.1" width="7.28" height="7.3" fill="#e8e8f1"/>
<rect x="60.25" y="183.1" width="7.28" height="7.3" fill="#6a76be"/>
<rect x="67.53" y="183.1" width="7.28" height="7.3" fill="#d7d8ea"/>
<rect x="74.81" y="183.1" width="7.28" height="7.3" fill="#a6a8d7"/>
<rect x="82.09" y="183.1" width="7.28" height="7.3" fill="#e8e8f1"/>
<rect x="89.37" y="183.1" width="7.28" height="7.3" fill="#cfd0e7"/>
<rect x="96.65" y="183.1" width="7.28" height="7.3" fill="#e8e8f1"/>
<rect x="103.93" y="183.1" width="7.28" height="7.3" fill="#f1d1d3"/>
<rect x="111.21" y="183.1" width="7.28" height="7.3" fill="#f1cbcc"/>
<rect x="118.49" y="183.1" width="7.28" height="7.3" fill="#f1cbcc"/>
<rect x="125.77" y="183.1" width="7.28" height="7.3" fill="#e0e0ee"/>
<rect x="133.05" y="183.1" width="7.28" height="7.3" fill="#f1d1d3"/>
<rect x="140.33" y="183.1" width="7.28" height="7.3" fill="#f1d1d3"/>
<rect x="147.61" y="183.1" width="7.28" height="7.3" fill="#f1c5c6"/>
<rect x="154.89" y="183.1" width="7.28" height="7.3" fill="#f1c5c6"/>
<rect x="162.17" y="183.1" width="7.28" height="7.3" fill="#f1d1d3"/>
<rect x="169.45" y="183.1" width="7.28" height="7.3" fill="#f1dde0"/>
<rect x="176.73" y="183.1" width="7.28" height="7.3" fill="#f07070"/>
<rect x="184.01" y="183.1" width="7.28" height="7.3" fill="#6a76be"/>
<rect x="23.85" y="190.4" width="7.28" height="7.3" fill="#d7d8ea"/>
<rect x="31.13" y="190.4" width="7.28" height="7.3" fill="#e8e8f1"/>
<rect x="38.41" y="190.4" width="7.28" height="7.3" fill="#e8e8f1"/>
<rect x="45.69" y="190.4" width="7.28" height="7.3" fill="#e8e8f1"/>
<rect x="52.97" y="190.4" width="7.28" height="7.3" fill="#f0eaed"/>
<rect x="60.25" y="190.4" width="7.28" height="7.3" fill="#d7d8ea"/>
<rect x="67.53" y="190.4" width="7.28" height="7.3" fill="#e8e8f1"/>
<rect x="74.81" y="190.4" width="7.28" height="7.3" fill="#e0e0ee"/>
<rect x="82.09" y="190.4" width="7.28" height="7.3" fill="#e8e8f1"/>
<rect x="89.37" y="190.4" width="7.28" height="7.3" fill="#e8e8f1"/>
<rect x="96.65" y="190.4" width="7.28" height="7.3" fill="#f19191"/>
<rect x="103.93" y="190.4" width="7.28" height="7.3" fill="#f18a8a"/>
<rect x="111.21" y="190.4" width="7.28" height="7.3" fill="#e0e0ee"/>
<rect x="118.49" y="190.4" width="7.28" height="7.3" fill="#e8e8f1"/>
<rect x="125.77" y="190.4" width="7.28" height="7.3" fill="#f19191"/>
<rect x="133.05" y="190.4" width="7.28" height="7.3" fill="#e8e8f1"/>
<rect x="140.33" y="190.4" width="7.28" height="7.3" fill="#ececf2"/>
<rect x="147.61" y="190.4" width="7.28" height="7.3" fill="#e8e8f1"/>
<rect x="154.89" y="190.4" width="7.28" height="7.3" fill="#e0e0ee"/>
<rect x="162.17" y="190.4" width="7.28" height="7.3" fill="#f0e4e7"/>
<rect x="169.45" y="190.4" width="7.28" height="7.3" fill="#f0eaed"/>
<rect x="176.73" y="190.4" width="7.28" height="7.3" fill="#f19898"/>
<rect x="184.01" y="190.4" width="7.28" height="7.3" fill="#f1d7da"/>
<rect x="23.85" y="197.7" width="7.28" height="7.3" fill="#d7d8ea"/>
<rect x="31.13" y="197.7" width="7.28" height="7.3" fill="#e8e8f1"/>
<rect x="38.41" y="197.7" width="7.28" height="7.3" fill="#d7d8ea"/>
<rect x="45.69" y="197.7" width="7.28" height="7.3" fill="#d7d8ea"/>
<rect x="52.97" y="197.7" width="7.28" height="7.3" fill="#d7d8ea"/>
<rect x="60.25" y="197.7" width="7.28" height="7.3" fill="#d7d8ea"/>
<rect x="67.53" y="197.7" width="7.28" height="7.3" fill="#d7d8ea"/>
<rect x="74.81" y="197.7" width="7.28" height="7.3" fill="#d7d8ea"/>
<rect x="82.09" y="197.7" width="7.28" height="7.3" fill="#d7d8ea"/>
<rect x="89.37" y="197.7" width="7.28" height="7.3" fill="#b7b8de"/>
<rect x="96.65" y="197.7" width="7.28" height="7.3" fill="#e0e0ee"/>
<rect x="103.93" y="197.7" width="7.28" height="7.3" fill="#f1c5c6"/>
<rect x="111.21" y="197.7" width="7.28" height="7.3" fill="#d7d8ea"/>
<rect x="118.49" y="197.7" width="7.28" height="7.3" fill="#e0e0ee"/>
<rect x="125.77" y="197.7" width="7.28" height="7.3" fill="#d7d8ea"/>
<rect x="133.05" y="197.7" width="7.28" height="7.3" fill="#e8e8f1"/>
<rect x="140.33" y="197.7" width="7.28" height="7.3" fill="#e8e8f1"/>
<rect x="147.61" y="197.7" width="7.28" height="7.3" fill="#d7d8ea"/>
<rect x="154.89" y="197.7" width="7.28" height="7.3" fill="#d7d8ea"/>
<rect x="162.17" y="197.7" width="7.28" height="7.3" fill="#f1cbcc"/>
<rect x="169.45" y="197.7" width="7.28" height="7.3" fill="#e8e8f1"/>
<rect x="176.73" y="197.7" width="7.28" height="7.3" fill="#ea2927"/>
<rect x="184.01" y="197.7" width="7.28" height="7.3" fill="#f1d1d3"/>
<line x1="31.13" y1="29.8" x2="31.13" y2="205" stroke="#ffffff" stroke-width="0.55" stroke-opacity="0.7"/>
<line x1="38.41" y1="29.8" x2="38.41" y2="205" stroke="#ffffff" stroke-width="0.55" stroke-opacity="0.7"/>
<line x1="45.69" y1="29.8" x2="45.69" y2="205" stroke="#ffffff" stroke-width="0.55" stroke-opacity="0.7"/>
<line x1="52.97" y1="29.8" x2="52.97" y2="205" stroke="#ffffff" stroke-width="0.55" stroke-opacity="0.7"/>
<line x1="60.25" y1="29.8" x2="60.25" y2="205" stroke="#ffffff" stroke-width="0.55" stroke-opacity="0.7"/>
<line x1="67.53" y1="29.8" x2="67.53" y2="205" stroke="#ffffff" stroke-width="0.55" stroke-opacity="0.7"/>
<line x1="74.81" y1="29.8" x2="74.81" y2="205" stroke="#ffffff" stroke-width="0.55" stroke-opacity="0.7"/>
<line x1="82.09" y1="29.8" x2="82.09" y2="205" stroke="#ffffff" stroke-width="0.55" stroke-opacity="0.7"/>
<line x1="89.37" y1="29.8" x2="89.37" y2="205" stroke="#ffffff" stroke-width="0.55" stroke-opacity="0.7"/>
<line x1="96.65" y1="29.8" x2="96.65" y2="205" stroke="#ffffff" stroke-width="0.55" stroke-opacity="0.7"/>
<line x1="103.93" y1="29.8" x2="103.93" y2="205" stroke="#ffffff" stroke-width="0.55" stroke-opacity="0.7"/>
<line x1="111.21" y1="29.8" x2="111.21" y2="205" stroke="#ffffff" stroke-width="0.55" stroke-opacity="0.7"/>
<line x1="118.49" y1="29.8" x2="118.49" y2="205" stroke="#ffffff" stroke-width="0.55" stroke-opacity="0.7"/>
<line x1="125.77" y1="29.8" x2="125.77" y2="205" stroke="#ffffff" stroke-width="0.55" stroke-opacity="0.7"/>
<line x1="133.05" y1="29.8" x2="133.05" y2="205" stroke="#ffffff" stroke-width="0.55" stroke-opacity="0.7"/>
<line x1="140.33" y1="29.8" x2="140.33" y2="205" stroke="#ffffff" stroke-width="0.55" stroke-opacity="0.7"/>
<line x1="147.61" y1="29.8" x2="147.61" y2="205" stroke="#ffffff" stroke-width="0.55" stroke-opacity="0.7"/>
<line x1="154.89" y1="29.8" x2="154.89" y2="205" stroke="#ffffff" stroke-width="0.55" stroke-opacity="0.7"/>
<line x1="162.17" y1="29.8" x2="162.17" y2="205" stroke="#ffffff" stroke-width="0.55" stroke-opacity="0.7"/>
<line x1="169.45" y1="29.8" x2="169.45" y2="205" stroke="#ffffff" stroke-width="0.55" stroke-opacity="0.7"/>
<line x1="176.73" y1="29.8" x2="176.73" y2="205" stroke="#ffffff" stroke-width="0.55" stroke-opacity="0.7"/>
<line x1="184.01" y1="29.8" x2="184.01" y2="205" stroke="#ffffff" stroke-width="0.55" stroke-opacity="0.7"/>
<line x1="23.85" y1="37.1" x2="191.29" y2="37.1" stroke="#ffffff" stroke-width="0.55" stroke-opacity="0.7"/>
<line x1="23.85" y1="44.4" x2="191.29" y2="44.4" stroke="#ffffff" stroke-width="0.55" stroke-opacity="0.7"/>
<line x1="23.85" y1="51.7" x2="191.29" y2="51.7" stroke="#ffffff" stroke-width="0.55" stroke-opacity="0.7"/>
<line x1="23.85" y1="59" x2="191.29" y2="59" stroke="#ffffff" stroke-width="0.55" stroke-opacity="0.7"/>
<line x1="23.85" y1="66.3" x2="191.29" y2="66.3" stroke="#ffffff" stroke-width="0.55" stroke-opacity="0.7"/>
<line x1="23.85" y1="73.6" x2="191.29" y2="73.6" stroke="#ffffff" stroke-width="0.55" stroke-opacity="0.7"/>
<line x1="23.85" y1="80.9" x2="191.29" y2="80.9" stroke="#ffffff" stroke-width="0.55" stroke-opacity="0.7"/>
<line x1="23.85" y1="88.2" x2="191.29" y2="88.2" stroke="#ffffff" stroke-width="0.55" stroke-opacity="0.7"/>
<line x1="23.85" y1="95.5" x2="191.29" y2="95.5" stroke="#ffffff" stroke-width="0.55" stroke-opacity="0.7"/>
<line x1="23.85" y1="102.8" x2="191.29" y2="102.8" stroke="#ffffff" stroke-width="0.55" stroke-opacity="0.7"/>
<line x1="23.85" y1="110.1" x2="191.29" y2="110.1" stroke="#ffffff" stroke-width="0.55" stroke-opacity="0.7"/>
<line x1="23.85" y1="117.4" x2="191.29" y2="117.4" stroke="#ffffff" stroke-width="0.55" stroke-opacity="0.7"/>
<line x1="23.85" y1="124.7" x2="191.29" y2="124.7" stroke="#ffffff" stroke-width="0.55" stroke-opacity="0.7"/>
<line x1="23.85" y1="132" x2="191.29" y2="132" stroke="#ffffff" stroke-width="0.55" stroke-opacity="0.7"/>
<line x1="23.85" y1="139.3" x2="191.29" y2="139.3" stroke="#ffffff" stroke-width="0.55" stroke-opacity="0.7"/>
<line x1="23.85" y1="146.6" x2="191.29" y2="146.6" stroke="#ffffff" stroke-width="0.55" stroke-opacity="0.7"/>
<line x1="23.85" y1="153.9" x2="191.29" y2="153.9" stroke="#ffffff" stroke-width="0.55" stroke-opacity="0.7"/>
<line x1="23.85" y1="161.2" x2="191.29" y2="161.2" stroke="#ffffff" stroke-width="0.55" stroke-opacity="0.7"/>
<line x1="23.85" y1="168.5" x2="191.29" y2="168.5" stroke="#ffffff" stroke-width="0.55" stroke-opacity="0.7"/>
<line x1="23.85" y1="175.8" x2="191.29" y2="175.8" stroke="#ffffff" stroke-width="0.55" stroke-opacity="0.7"/>
<line x1="23.85" y1="183.1" x2="191.29" y2="183.1" stroke="#ffffff" stroke-width="0.55" stroke-opacity="0.7"/>
<line x1="23.85" y1="190.4" x2="191.29" y2="190.4" stroke="#ffffff" stroke-width="0.55" stroke-opacity="0.7"/>
<line x1="23.85" y1="197.7" x2="191.29" y2="197.7" stroke="#ffffff" stroke-width="0.55" stroke-opacity="0.7"/>
<rect x="23.85" y="29.8" width="167.44" height="175.2" fill="none" stroke="#6a6a6a" stroke-width="0.9"/>
<line x1="96.65" y1="29.8" x2="96.65" y2="245" stroke="#8a8a8a" stroke-width="1.5" stroke-dasharray="2.6,1.5"/>
<line x1="191.29" y1="33.45" x2="194.49" y2="33.45" stroke="#222" stroke-width="0.8"/>
<text transform="translate(197.49,36.35) scale(0.9434,1)" font-size="8.06" text-anchor="start" fill="#000">CCL3</text>
<line x1="191.29" y1="40.75" x2="194.49" y2="40.75" stroke="#222" stroke-width="0.8"/>
<text transform="translate(197.49,43.65) scale(0.9434,1)" font-size="8.06" text-anchor="start" fill="#000">CXCL9</text>
<line x1="191.29" y1="48.05" x2="194.49" y2="48.05" stroke="#222" stroke-width="0.8"/>
<text transform="translate(197.49,50.95) scale(0.9434,1)" font-size="8.06" text-anchor="start" fill="#000">CCL4</text>
<line x1="191.29" y1="55.35" x2="194.49" y2="55.35" stroke="#222" stroke-width="0.8"/>
<text transform="translate(197.49,58.25) scale(0.9434,1)" font-size="8.06" text-anchor="start" fill="#000">CXCL1</text>
<line x1="191.29" y1="62.65" x2="194.49" y2="62.65" stroke="#222" stroke-width="0.8"/>
<text transform="translate(197.49,65.55) scale(0.9434,1)" font-size="8.06" text-anchor="start" fill="#000">Perforin</text>
<line x1="191.29" y1="69.95" x2="194.49" y2="69.95" stroke="#222" stroke-width="0.8"/>
<text transform="translate(197.49,72.85) scale(0.9434,1)" font-size="8.06" text-anchor="start" fill="#000">CXCL5</text>
<line x1="191.29" y1="77.25" x2="194.49" y2="77.25" stroke="#222" stroke-width="0.8"/>
<text transform="translate(197.49,80.15) scale(0.9434,1)" font-size="8.06" text-anchor="start" fill="#000">IL6</text>
<line x1="191.29" y1="84.55" x2="194.49" y2="84.55" stroke="#222" stroke-width="0.8"/>
<text transform="translate(197.49,87.45) scale(0.9434,1)" font-size="8.06" text-anchor="start" fill="#000">CCL2</text>
<line x1="191.29" y1="91.85" x2="194.49" y2="91.85" stroke="#222" stroke-width="0.8"/>
<text transform="translate(197.49,94.75) scale(0.9434,1)" font-size="8.06" text-anchor="start" fill="#000">IFNγ</text>
<line x1="191.29" y1="99.15" x2="194.49" y2="99.15" stroke="#222" stroke-width="0.8"/>
<text transform="translate(197.49,102.05) scale(0.9434,1)" font-size="8.06" text-anchor="start" fill="#000">IL4</text>
<line x1="191.29" y1="106.45" x2="194.49" y2="106.45" stroke="#222" stroke-width="0.8"/>
<text transform="translate(197.49,109.35) scale(0.9434,1)" font-size="8.06" text-anchor="start" fill="#000">CXCL11</text>
<line x1="191.29" y1="113.75" x2="194.49" y2="113.75" stroke="#222" stroke-width="0.8"/>
<text transform="translate(197.49,116.65) scale(0.9434,1)" font-size="8.06" text-anchor="start" fill="#000">CXCL10</text>
<line x1="191.29" y1="121.05" x2="194.49" y2="121.05" stroke="#222" stroke-width="0.8"/>
<text transform="translate(197.49,123.95) scale(0.9434,1)" font-size="8.06" text-anchor="start" fill="#000">CCL5</text>
<line x1="191.29" y1="128.35" x2="194.49" y2="128.35" stroke="#222" stroke-width="0.8"/>
<text transform="translate(197.49,131.25) scale(0.9434,1)" font-size="8.06" text-anchor="start" fill="#000">CCL17</text>
<line x1="191.29" y1="135.65" x2="194.49" y2="135.65" stroke="#222" stroke-width="0.8"/>
<text transform="translate(197.49,138.55) scale(0.9434,1)" font-size="8.06" text-anchor="start" fill="#000">sFasL</text>
<line x1="191.29" y1="142.95" x2="194.49" y2="142.95" stroke="#222" stroke-width="0.8"/>
<text transform="translate(197.49,145.85) scale(0.9434,1)" font-size="8.06" text-anchor="start" fill="#000">sFas</text>
<line x1="191.29" y1="150.25" x2="194.49" y2="150.25" stroke="#222" stroke-width="0.8"/>
<text transform="translate(197.49,153.15) scale(0.9434,1)" font-size="8.06" text-anchor="start" fill="#000">Granulysin</text>
<line x1="191.29" y1="157.55" x2="194.49" y2="157.55" stroke="#222" stroke-width="0.8"/>
<text transform="translate(197.49,160.45) scale(0.9434,1)" font-size="8.06" text-anchor="start" fill="#000">Granzyme B</text>
<line x1="191.29" y1="164.85" x2="194.49" y2="164.85" stroke="#222" stroke-width="0.8"/>
<text transform="translate(197.49,167.75) scale(0.9434,1)" font-size="8.06" text-anchor="start" fill="#000">Granzyme A</text>
<line x1="191.29" y1="172.15" x2="194.49" y2="172.15" stroke="#222" stroke-width="0.8"/>
<text transform="translate(197.49,175.05) scale(0.9434,1)" font-size="8.06" text-anchor="start" fill="#000">IL17A</text>
<line x1="191.29" y1="179.45" x2="194.49" y2="179.45" stroke="#222" stroke-width="0.8"/>
<text transform="translate(197.49,182.35) scale(0.9434,1)" font-size="8.06" text-anchor="start" fill="#000">CCL11</text>
<line x1="191.29" y1="186.75" x2="194.49" y2="186.75" stroke="#222" stroke-width="0.8"/>
<text transform="translate(197.49,189.65) scale(0.9434,1)" font-size="8.06" text-anchor="start" fill="#000">TNFα</text>
<line x1="191.29" y1="194.05" x2="194.49" y2="194.05" stroke="#222" stroke-width="0.8"/>
<text transform="translate(197.49,196.95) scale(0.9434,1)" font-size="8.06" text-anchor="start" fill="#000">CCL20</text>
<line x1="191.29" y1="201.35" x2="194.49" y2="201.35" stroke="#222" stroke-width="0.8"/>
<text transform="translate(197.49,204.25) scale(0.9434,1)" font-size="8.06" text-anchor="start" fill="#000">IL10</text>
<line x1="27.49" y1="205" x2="27.49" y2="207.6" stroke="#444" stroke-width="0.7"/>
<text transform="translate(28.19,209.4) rotate(-90) scale(0.9434,1)" x="0" y="2.9" font-size="8.06" text-anchor="end" fill="#000">RE027</text>
<line x1="34.77" y1="205" x2="34.77" y2="207.6" stroke="#444" stroke-width="0.7"/>
<text transform="translate(35.47,209.4) rotate(-90) scale(0.9434,1)" x="0" y="2.9" font-size="8.06" text-anchor="end" fill="#000">OV023</text>
<line x1="42.05" y1="205" x2="42.05" y2="207.6" stroke="#444" stroke-width="0.7"/>
<text transform="translate(42.75,209.4) rotate(-90) scale(0.9434,1)" x="0" y="2.9" font-size="8.06" text-anchor="end" fill="#000">MEL174-2</text>
<line x1="49.33" y1="205" x2="49.33" y2="207.6" stroke="#444" stroke-width="0.7"/>
<text transform="translate(50.03,209.4) rotate(-90) scale(0.9434,1)" x="0" y="2.9" font-size="8.06" text-anchor="end" fill="#000">RE067</text>
<line x1="56.61" y1="205" x2="56.61" y2="207.6" stroke="#444" stroke-width="0.7"/>
<text transform="translate(57.31,209.4) rotate(-90) scale(0.9434,1)" x="0" y="2.9" font-size="8.06" text-anchor="end" fill="#000">MEL163</text>
<line x1="63.89" y1="205" x2="63.89" y2="207.6" stroke="#444" stroke-width="0.7"/>
<text transform="translate(64.59,209.4) rotate(-90) scale(0.9434,1)" x="0" y="2.9" font-size="8.06" text-anchor="end" fill="#000">RE031</text>
<line x1="71.17" y1="205" x2="71.17" y2="207.6" stroke="#444" stroke-width="0.7"/>
<text transform="translate(71.87,209.4) rotate(-90) scale(0.9434,1)" x="0" y="2.9" font-size="8.06" text-anchor="end" fill="#000">MEL126</text>
<line x1="78.45" y1="205" x2="78.45" y2="207.6" stroke="#444" stroke-width="0.7"/>
<text transform="translate(79.15,209.4) rotate(-90) scale(0.9434,1)" x="0" y="2.9" font-size="8.06" text-anchor="end" fill="#000">OV042</text>
<line x1="85.73" y1="205" x2="85.73" y2="207.6" stroke="#444" stroke-width="0.7"/>
<text transform="translate(86.43,209.4) rotate(-90) scale(0.9434,1)" x="0" y="2.9" font-size="8.06" text-anchor="end" fill="#000">LU073</text>
<line x1="93.01" y1="205" x2="93.01" y2="207.6" stroke="#444" stroke-width="0.7"/>
<text transform="translate(93.71,209.4) rotate(-90) scale(0.9434,1)" x="0" y="2.9" font-size="8.06" text-anchor="end" fill="#000">BR029</text>
<line x1="100.29" y1="205" x2="100.29" y2="207.6" stroke="#444" stroke-width="0.7"/>
<text transform="translate(100.99,209.4) rotate(-90) scale(0.9434,1)" x="0" y="2.9" font-size="8.06" text-anchor="end" fill="#000">RE098</text>
<line x1="107.57" y1="205" x2="107.57" y2="207.6" stroke="#444" stroke-width="0.7"/>
<text transform="translate(108.27,209.4) rotate(-90) scale(0.9434,1)" x="0" y="2.9" font-size="8.06" text-anchor="end" fill="#000">RE085</text>
<line x1="114.85" y1="205" x2="114.85" y2="207.6" stroke="#444" stroke-width="0.7"/>
<text transform="translate(115.55,209.4) rotate(-90) scale(0.9434,1)" x="0" y="2.9" font-size="8.06" text-anchor="end" fill="#000">MEL143</text>
<line x1="122.13" y1="205" x2="122.13" y2="207.6" stroke="#444" stroke-width="0.7"/>
<text transform="translate(122.83,209.4) rotate(-90) scale(0.9434,1)" x="0" y="2.9" font-size="8.06" text-anchor="end" fill="#000">MEL132</text>
<line x1="129.41" y1="205" x2="129.41" y2="207.6" stroke="#444" stroke-width="0.7"/>
<text transform="translate(130.11,209.4) rotate(-90) scale(0.9434,1)" x="0" y="2.9" font-size="8.06" text-anchor="end" fill="#000">RE088</text>
<line x1="136.69" y1="205" x2="136.69" y2="207.6" stroke="#444" stroke-width="0.7"/>
<text transform="translate(137.39,209.4) rotate(-90) scale(0.9434,1)" x="0" y="2.9" font-size="8.06" text-anchor="end" fill="#000">MEL140</text>
<line x1="143.97" y1="205" x2="143.97" y2="207.6" stroke="#444" stroke-width="0.7"/>
<text transform="translate(144.67,209.4) rotate(-90) scale(0.9434,1)" x="0" y="2.9" font-size="8.06" text-anchor="end" fill="#000">MEL100</text>
<line x1="151.25" y1="205" x2="151.25" y2="207.6" stroke="#444" stroke-width="0.7"/>
<text transform="translate(151.95,209.4) rotate(-90) scale(0.9434,1)" x="0" y="2.9" font-size="8.06" text-anchor="end" fill="#000">MEL128</text>
<line x1="158.53" y1="205" x2="158.53" y2="207.6" stroke="#444" stroke-width="0.7"/>
<text transform="translate(159.23,209.4) rotate(-90) scale(0.9434,1)" x="0" y="2.9" font-size="8.06" text-anchor="end" fill="#000">OV014-1</text>
<line x1="165.81" y1="205" x2="165.81" y2="207.6" stroke="#444" stroke-width="0.7"/>
<text transform="translate(166.51,209.4) rotate(-90) scale(0.9434,1)" x="0" y="2.9" font-size="8.06" text-anchor="end" fill="#000">MEL149-1</text>
<line x1="173.09" y1="205" x2="173.09" y2="207.6" stroke="#444" stroke-width="0.7"/>
<text transform="translate(173.79,209.4) rotate(-90) scale(0.9434,1)" x="0" y="2.9" font-size="8.06" text-anchor="end" fill="#000">MEL139</text>
<line x1="180.37" y1="205" x2="180.37" y2="207.6" stroke="#444" stroke-width="0.7"/>
<text transform="translate(181.07,209.4) rotate(-90) scale(0.9434,1)" x="0" y="2.9" font-size="8.06" text-anchor="end" fill="#000">OV036</text>
<line x1="187.65" y1="205" x2="187.65" y2="207.6" stroke="#444" stroke-width="0.7"/>
<text transform="translate(188.35,209.4) rotate(-90) scale(0.9434,1)" x="0" y="2.9" font-size="8.06" text-anchor="end" fill="#000">MEL149-2</text>
<polyline points="27.49,28 27.49,25.2 34.77,25.2 34.77,28" fill="none" stroke="#4a4a4a" stroke-width="0.8"/>
<polyline points="42.05,28 42.05,27.3 49.33,27.3 49.33,28" fill="none" stroke="#4a4a4a" stroke-width="0.8"/>
<polyline points="45.69,27.3 45.69,25.5 56.61,25.5 56.61,28" fill="none" stroke="#4a4a4a" stroke-width="0.8"/>
<polyline points="31.13,25.2 31.13,24.2 51.15,24.2 51.15,25.5" fill="none" stroke="#4a4a4a" stroke-width="0.8"/>
<polyline points="41.14,24.2 41.14,21 63.89,21 63.89,28" fill="none" stroke="#4a4a4a" stroke-width="0.8"/>
<polyline points="71.17,28 71.17,25.9 78.45,25.9 78.45,28" fill="none" stroke="#4a4a4a" stroke-width="0.8"/>
<polyline points="74.81,25.9 74.81,24 85.73,24 85.73,28" fill="none" stroke="#4a4a4a" stroke-width="0.8"/>
<polyline points="80.27,24 80.27,23.2 93.01,23.2 93.01,28" fill="none" stroke="#4a4a4a" stroke-width="0.8"/>
<polyline points="52.52,21 52.52,20.3 86.64,20.3 86.64,23.2" fill="none" stroke="#4a4a4a" stroke-width="0.8"/>
<polyline points="100.29,28 100.29,24.4 107.57,24.4 107.57,28" fill="none" stroke="#4a4a4a" stroke-width="0.8"/>
<polyline points="69.58,20.3 69.58,18.7 103.93,18.7 103.93,24.4" fill="none" stroke="#4a4a4a" stroke-width="0.8"/>
<polyline points="114.85,28 114.85,19.9 122.13,19.9 122.13,28" fill="none" stroke="#4a4a4a" stroke-width="0.8"/>
<polyline points="86.75,18.7 86.75,17.6 118.49,17.6 118.49,19.9" fill="none" stroke="#4a4a4a" stroke-width="0.8"/>
<polyline points="129.41,28 129.41,18.5 136.69,18.5 136.69,28" fill="none" stroke="#4a4a4a" stroke-width="0.8"/>
<polyline points="143.97,28 143.97,22.3 151.25,22.3 151.25,28" fill="none" stroke="#4a4a4a" stroke-width="0.8"/>
<polyline points="147.61,22.3 147.61,20.4 158.53,20.4 158.53,28" fill="none" stroke="#4a4a4a" stroke-width="0.8"/>
<polyline points="133.05,18.5 133.05,17.3 153.07,17.3 153.07,20.4" fill="none" stroke="#4a4a4a" stroke-width="0.8"/>
<polyline points="102.62,17.6 102.62,11.5 143.06,11.5 143.06,17.3" fill="none" stroke="#4a4a4a" stroke-width="0.8"/>
<polyline points="165.81,28 165.81,13.8 173.09,13.8 173.09,28" fill="none" stroke="#4a4a4a" stroke-width="0.8"/>
<polyline points="169.45,13.8 169.45,11.9 180.37,11.9 180.37,28" fill="none" stroke="#4a4a4a" stroke-width="0.8"/>
<polyline points="122.84,11.5 122.84,7.3 174.91,7.3 174.91,11.9" fill="none" stroke="#4a4a4a" stroke-width="0.8"/>
<polyline points="148.88,7.3 148.88,4.4 187.65,4.4 187.65,28" fill="none" stroke="#4a4a4a" stroke-width="0.8"/>
<polyline points="21.7,32.85 17.4,32.85 17.4,40.15 21.7,40.15" fill="none" stroke="#4a4a4a" stroke-width="0.8"/>
<polyline points="17.4,36.5 15.4,36.5 15.4,47.45 21.7,47.45" fill="none" stroke="#4a4a4a" stroke-width="0.8"/>
<polyline points="21.7,54.75 16.4,54.75 16.4,62.05 21.7,62.05" fill="none" stroke="#4a4a4a" stroke-width="0.8"/>
<polyline points="15.4,41.97 14.4,41.97 14.4,58.4 16.4,58.4" fill="none" stroke="#4a4a4a" stroke-width="0.8"/>
<polyline points="21.7,69.35 17.4,69.35 17.4,76.65 21.7,76.65" fill="none" stroke="#4a4a4a" stroke-width="0.8"/>
<polyline points="17.4,73 15.4,73 15.4,83.95 21.7,83.95" fill="none" stroke="#4a4a4a" stroke-width="0.8"/>
<polyline points="14.4,50.19 10,50.19 10,78.47 15.4,78.47" fill="none" stroke="#4a4a4a" stroke-width="0.8"/>
<polyline points="21.7,91.25 14.4,91.25 14.4,98.55 21.7,98.55" fill="none" stroke="#4a4a4a" stroke-width="0.8"/>
<polyline points="21.7,105.85 16.4,105.85 16.4,113.15 21.7,113.15" fill="none" stroke="#4a4a4a" stroke-width="0.8"/>
<polyline points="16.4,109.5 15,109.5 15,120.45 21.7,120.45" fill="none" stroke="#4a4a4a" stroke-width="0.8"/>
<polyline points="14.4,94.9 11,94.9 11,114.97 15,114.97" fill="none" stroke="#4a4a4a" stroke-width="0.8"/>
<polyline points="10,64.33 7.5,64.33 7.5,104.94 11,104.94" fill="none" stroke="#4a4a4a" stroke-width="0.8"/>
<polyline points="21.7,127.75 15,127.75 15,135.05 21.7,135.05" fill="none" stroke="#4a4a4a" stroke-width="0.8"/>
<polyline points="15,131.4 13.4,131.4 13.4,142.35 21.7,142.35" fill="none" stroke="#4a4a4a" stroke-width="0.8"/>
<polyline points="21.7,149.65 18.1,149.65 18.1,156.95 21.7,156.95" fill="none" stroke="#4a4a4a" stroke-width="0.8"/>
<polyline points="21.7,164.25 18.1,164.25 18.1,171.55 21.7,171.55" fill="none" stroke="#4a4a4a" stroke-width="0.8"/>
<polyline points="18.1,153.3 16.5,153.3 16.5,167.9 18.1,167.9" fill="none" stroke="#4a4a4a" stroke-width="0.8"/>
<polyline points="13.4,136.88 12.6,136.88 12.6,160.6 16.5,160.6" fill="none" stroke="#4a4a4a" stroke-width="0.8"/>
<polyline points="21.7,178.85 15.4,178.85 15.4,186.15 21.7,186.15" fill="none" stroke="#4a4a4a" stroke-width="0.8"/>
<polyline points="21.7,193.45 17,193.45 17,200.75 21.7,200.75" fill="none" stroke="#4a4a4a" stroke-width="0.8"/>
<polyline points="15.4,182.5 13.7,182.5 13.7,197.1 17,197.1" fill="none" stroke="#4a4a4a" stroke-width="0.8"/>
<polyline points="12.6,148.74 9.3,148.74 9.3,189.8 13.7,189.8" fill="none" stroke="#4a4a4a" stroke-width="0.8"/>
<polyline points="7.5,84.63 2.7,84.63 2.7,169.27 9.3,169.27" fill="none" stroke="#4a4a4a" stroke-width="0.8"/>
<line x1="28.5" y1="248" x2="94" y2="248" stroke="#000" stroke-width="1.0"/>
<line x1="99.8" y1="248" x2="187.5" y2="248" stroke="#000" stroke-width="1.0"/>
<polygon points="24.4,248 30.4,245.1 30.4,250.9" fill="#000"/>
<polygon points="191.6,248 185.6,245.1 185.6,250.9" fill="#000"/>
<text transform="translate(49.2,262.05) scale(0.9434,1)" font-size="7.63" text-anchor="middle" fill="#000">Low (≤0)</text>
<text transform="translate(104.3,262.05) scale(0.9434,1)" font-size="7.63" text-anchor="middle" fill="#000">Cumulative score</text>
<text transform="translate(165.4,262.05) scale(0.9434,1)" font-size="7.63" text-anchor="middle" fill="#000">High (&gt;0)</text>
<defs><linearGradient id="cb" x1="0" y1="0" x2="0" y2="1"><stop offset="0" stop-color="#e82a2a"/><stop offset="0.3" stop-color="#f29a9a"/><stop offset="0.55" stop-color="#f6f6f8"/><stop offset="0.82" stop-color="#a3aad8"/><stop offset="1" stop-color="#3a4aa8"/></linearGradient></defs>
<rect x="222.8" y="214.4" width="10.2" height="29.9" fill="url(#cb)" stroke="#555" stroke-width="0.8"/>
<line x1="222.8" y1="222.4" x2="224.3" y2="222.4" stroke="#333" stroke-width="0.6"/>
<line x1="231.5" y1="222.4" x2="233" y2="222.4" stroke="#333" stroke-width="0.6"/>
<line x1="222.8" y1="230.8" x2="224.3" y2="230.8" stroke="#333" stroke-width="0.6"/>
<line x1="231.5" y1="230.8" x2="233" y2="230.8" stroke="#333" stroke-width="0.6"/>
<line x1="222.8" y1="239.3" x2="224.3" y2="239.3" stroke="#333" stroke-width="0.6"/>
<line x1="231.5" y1="239.3" x2="233" y2="239.3" stroke="#333" stroke-width="0.6"/>
<text transform="translate(236,217.32) scale(0.9434,1)" font-size="7.84" text-anchor="start" fill="#000">4</text>
<text transform="translate(236,226.52) scale(0.9434,1)" font-size="7.84" text-anchor="start" fill="#000">2</text>
<text transform="translate(236,235.52) scale(0.9434,1)" font-size="7.84" text-anchor="start" fill="#000">0</text>
<text transform="translate(235,244.82) scale(0.9434,1)" font-size="7.84" text-anchor="start" fill="#000">−2</text>
<text transform="translate(231.4,211.52) scale(0.9434,1)" font-size="7.84" text-anchor="middle" fill="#000">z-score</text>
<text transform="translate(-0.3,9.17) scale(0.9434,1)" font-size="11.02" text-anchor="start" font-weight="bold" fill="#000">A</text>
<text transform="translate(247.5,8.97) scale(0.9434,1)" font-size="11.02" text-anchor="start" font-weight="bold" fill="#000">B</text>
<text transform="translate(0,307.77) scale(0.9434,1)" font-size="11.02" text-anchor="start" font-weight="bold" fill="#000">C</text>
<text transform="translate(142.5,308.57) scale(0.9434,1)" font-size="11.02" text-anchor="start" font-weight="bold" fill="#000">D</text>
<text transform="translate(0.8,478.67) scale(0.9434,1)" font-size="11.02" text-anchor="start" font-weight="bold" fill="#000">E</text>
<line x1="281.5" y1="8.8" x2="520" y2="8.8" stroke="#333" stroke-width="0.8"/>
<text transform="translate(401.7,6.05) scale(0.9434,1)" font-size="7.63" text-anchor="middle" fill="#000">Secreted mediators</text>
<text transform="translate(321,21.45) scale(0.9434,1)" font-size="7.63" text-anchor="middle" fill="#000">Granzyme B</text>
<text transform="translate(406.1,21.45) scale(0.9434,1)" font-size="7.63" text-anchor="middle" fill="#000">TNFα</text>
<text transform="translate(486.6,21.45) scale(0.9434,1)" font-size="7.63" text-anchor="middle" fill="#000">IFNγ</text>
<text transform="translate(321.2,140.35) scale(0.9434,1)" font-size="7.63" text-anchor="middle" fill="#000">CXCL9</text>
<text transform="translate(406,140.35) scale(0.9434,1)" font-size="7.63" text-anchor="middle" fill="#000">CXCL10</text>
<text transform="translate(488.4,140.35) scale(0.9434,1)" font-size="7.63" text-anchor="middle" fill="#000">CXCL11</text>
<text transform="translate(261.8,73) rotate(-90) scale(0.9434,1)" x="0" y="2.75" font-size="7.63" text-anchor="middle" fill="#000">pg/mL</text>
<text transform="translate(261.8,185.3) rotate(-90) scale(0.9434,1)" x="0" y="2.75" font-size="7.63" text-anchor="middle" fill="#000">pg/mL</text>
<line x1="293.2" y1="34.5" x2="293.2" y2="54.2" stroke="#5e5e5e" stroke-width="0.9"/>
<line x1="293.2" y1="54.2" x2="295.7" y2="54.2" stroke="#5e5e5e" stroke-width="0.9"/>
<line x1="293.2" y1="62.9" x2="295.7" y2="62.9" stroke="#5e5e5e" stroke-width="0.9"/>
<line x1="293.2" y1="62.9" x2="293.2" y2="113.8" stroke="#5e5e5e" stroke-width="0.9"/>
<line x1="293.2" y1="113.8" x2="346.5" y2="113.8" stroke="#5e5e5e" stroke-width="0.9"/>
<line x1="290.2" y1="34.5" x2="293.2" y2="34.5" stroke="#5e5e5e" stroke-width="0.8"/>
<text transform="translate(287.3,37.36) scale(0.9434,1)" font-size="7.95" text-anchor="end" fill="#000">1,000</text>
<line x1="290.2" y1="54.2" x2="293.2" y2="54.2" stroke="#5e5e5e" stroke-width="0.8"/>
<text transform="translate(287.3,57.06) scale(0.9434,1)" font-size="7.95" text-anchor="end" fill="#000">200</text>
<line x1="290.2" y1="62.9" x2="293.2" y2="62.9" stroke="#5e5e5e" stroke-width="0.8"/>
<text transform="translate(287.3,65.76) scale(0.9434,1)" font-size="7.95" text-anchor="end" fill="#000">150</text>
<line x1="290.2" y1="78.6" x2="293.2" y2="78.6" stroke="#5e5e5e" stroke-width="0.8"/>
<text transform="translate(287.3,81.46) scale(0.9434,1)" font-size="7.95" text-anchor="end" fill="#000">100</text>
<line x1="290.2" y1="94.4" x2="293.2" y2="94.4" stroke="#5e5e5e" stroke-width="0.8"/>
<text transform="translate(287.3,97.26) scale(0.9434,1)" font-size="7.95" text-anchor="end" fill="#000">50</text>
<line x1="290.2" y1="111" x2="293.2" y2="111" stroke="#5e5e5e" stroke-width="0.8"/>
<text transform="translate(287.3,113.86) scale(0.9434,1)" font-size="7.95" text-anchor="end" fill="#000">0</text>
<line x1="306.3" y1="113.8" x2="306.3" y2="117.1" stroke="#444" stroke-width="0.85"/>
<text transform="translate(306.3,126.35) scale(0.9434,1)" font-size="7.63" text-anchor="middle" fill="#000">NR</text>
<line x1="333.9" y1="113.8" x2="333.9" y2="117.1" stroke="#444" stroke-width="0.85"/>
<text transform="translate(333.9,126.35) scale(0.9434,1)" font-size="7.63" text-anchor="middle" fill="#000">R</text>
<line x1="299.5" y1="81" x2="313.4" y2="75.9" stroke="#222" stroke-width="0.45"/>
<line x1="299.5" y1="83.4" x2="313.4" y2="83.4" stroke="#222" stroke-width="0.45"/>
<line x1="299.5" y1="84.6" x2="313.4" y2="83.4" stroke="#222" stroke-width="0.45"/>
<line x1="299.5" y1="90.9" x2="313.4" y2="93.6" stroke="#222" stroke-width="0.45"/>
<line x1="299.5" y1="95.2" x2="313.4" y2="93.6" stroke="#222" stroke-width="0.45"/>
<line x1="299.5" y1="98.3" x2="313.4" y2="99.1" stroke="#222" stroke-width="0.45"/>
<line x1="299.5" y1="102.3" x2="313.4" y2="102.3" stroke="#222" stroke-width="0.45"/>
<line x1="299.5" y1="103.6" x2="313.4" y2="105.6" stroke="#222" stroke-width="0.45"/>
<line x1="299.5" y1="105.4" x2="313.4" y2="104.7" stroke="#222" stroke-width="0.45"/>
<line x1="299.5" y1="111" x2="313.4" y2="111" stroke="#222" stroke-width="0.45"/>
<polygon points="299.5,79.31 297.94,82.03 301.06,82.03" fill="none" stroke="#000" stroke-width="0.55"/>
<circle cx="313.4" cy="75.9" r="1.7" fill="#fff" stroke="#000" stroke-width="0.55"/>
<polygon points="299.5,81.71 297.94,84.43 301.06,84.43" fill="none" stroke="#000" stroke-width="0.55"/>
<circle cx="313.4" cy="83.4" r="1.7" fill="#fff" stroke="#000" stroke-width="0.55"/>
<polygon points="299.5,82.91 297.94,85.63 301.06,85.63" fill="none" stroke="#000" stroke-width="0.55"/>
<circle cx="313.4" cy="83.4" r="1.7" fill="#fff" stroke="#000" stroke-width="0.55"/>
<polygon points="299.5,89.21 297.94,91.93 301.06,91.93" fill="none" stroke="#000" stroke-width="0.55"/>
<circle cx="313.4" cy="93.6" r="1.7" fill="#fff" stroke="#000" stroke-width="0.55"/>
<polygon points="299.5,93.51 297.94,96.23 301.06,96.23" fill="none" stroke="#000" stroke-width="0.55"/>
<circle cx="313.4" cy="93.6" r="1.7" fill="#fff" stroke="#000" stroke-width="0.55"/>
<polygon points="299.5,96.61 297.94,99.33 301.06,99.33" fill="none" stroke="#000" stroke-width="0.55"/>
<circle cx="313.4" cy="99.1" r="1.7" fill="#fff" stroke="#000" stroke-width="0.55"/>
<polygon points="299.5,100.61 297.94,103.33 301.06,103.33" fill="none" stroke="#000" stroke-width="0.55"/>
<circle cx="313.4" cy="102.3" r="1.7" fill="#fff" stroke="#000" stroke-width="0.55"/>
<polygon points="299.5,101.91 297.94,104.63 301.06,104.63" fill="none" stroke="#000" stroke-width="0.55"/>
<circle cx="313.4" cy="105.6" r="1.7" fill="#fff" stroke="#000" stroke-width="0.55"/>
<polygon points="299.5,103.71 297.94,106.43 301.06,106.43" fill="none" stroke="#000" stroke-width="0.55"/>
<circle cx="313.4" cy="104.7" r="1.7" fill="#fff" stroke="#000" stroke-width="0.55"/>
<polygon points="299.5,109.31 297.94,112.03 301.06,112.03" fill="none" stroke="#000" stroke-width="0.55"/>
<circle cx="313.4" cy="111" r="1.7" fill="#fff" stroke="#000" stroke-width="0.55"/>
<line x1="326.8" y1="45.5" x2="340.5" y2="47.6" stroke="#222" stroke-width="0.45"/>
<line x1="326.8" y1="63.6" x2="340.5" y2="52.1" stroke="#222" stroke-width="0.45"/>
<line x1="326.8" y1="76.3" x2="340.5" y2="35.7" stroke="#222" stroke-width="0.45"/>
<line x1="326.8" y1="78.6" x2="340.5" y2="67.3" stroke="#222" stroke-width="0.45"/>
<line x1="326.8" y1="81" x2="340.5" y2="73.9" stroke="#222" stroke-width="0.45"/>
<line x1="326.8" y1="83.4" x2="340.5" y2="75.8" stroke="#222" stroke-width="0.45"/>
<line x1="326.8" y1="85.7" x2="340.5" y2="78.6" stroke="#222" stroke-width="0.45"/>
<line x1="326.8" y1="88.1" x2="340.5" y2="81.8" stroke="#222" stroke-width="0.45"/>
<line x1="326.8" y1="92.8" x2="340.5" y2="88.1" stroke="#222" stroke-width="0.45"/>
<line x1="326.8" y1="94.1" x2="340.5" y2="89.7" stroke="#222" stroke-width="0.45"/>
<line x1="326.8" y1="96.8" x2="340.5" y2="94.1" stroke="#222" stroke-width="0.45"/>
<line x1="326.8" y1="106.2" x2="340.5" y2="103.9" stroke="#222" stroke-width="0.45"/>
<line x1="326.8" y1="106.2" x2="340.5" y2="105.1" stroke="#222" stroke-width="0.45"/>
<polygon points="326.8,43.7 325.13,46.6 328.47,46.6" fill="#e8232b" stroke="#e8232b" stroke-width="0.3"/>
<circle cx="340.5" cy="47.6" r="1.7" fill="#e8232b" stroke="#e8232b" stroke-width="0.3"/>
<polygon points="326.8,61.8 325.13,64.7 328.47,64.7" fill="#e8232b" stroke="#e8232b" stroke-width="0.3"/>
<circle cx="340.5" cy="52.1" r="1.7" fill="#e8232b" stroke="#e8232b" stroke-width="0.3"/>
<polygon points="326.8,74.5 325.13,77.4 328.47,77.4" fill="#e8232b" stroke="#e8232b" stroke-width="0.3"/>
<circle cx="340.5" cy="35.7" r="1.7" fill="#e8232b" stroke="#e8232b" stroke-width="0.3"/>
<polygon points="326.8,76.8 325.13,79.7 328.47,79.7" fill="#e8232b" stroke="#e8232b" stroke-width="0.3"/>
<circle cx="340.5" cy="67.3" r="1.7" fill="#e8232b" stroke="#e8232b" stroke-width="0.3"/>
<polygon points="326.8,79.2 325.13,82.1 328.47,82.1" fill="#e8232b" stroke="#e8232b" stroke-width="0.3"/>
<circle cx="340.5" cy="73.9" r="1.7" fill="#e8232b" stroke="#e8232b" stroke-width="0.3"/>
<polygon points="326.8,81.6 325.13,84.5 328.47,84.5" fill="#e8232b" stroke="#e8232b" stroke-width="0.3"/>
<circle cx="340.5" cy="75.8" r="1.7" fill="#e8232b" stroke="#e8232b" stroke-width="0.3"/>
<polygon points="326.8,83.9 325.13,86.8 328.47,86.8" fill="#e8232b" stroke="#e8232b" stroke-width="0.3"/>
<circle cx="340.5" cy="78.6" r="1.7" fill="#e8232b" stroke="#e8232b" stroke-width="0.3"/>
<polygon points="326.8,86.3 325.13,89.2 328.47,89.2" fill="#e8232b" stroke="#e8232b" stroke-width="0.3"/>
<circle cx="340.5" cy="81.8" r="1.7" fill="#e8232b" stroke="#e8232b" stroke-width="0.3"/>
<polygon points="326.8,91 325.13,93.9 328.47,93.9" fill="#e8232b" stroke="#e8232b" stroke-width="0.3"/>
<circle cx="340.5" cy="88.1" r="1.7" fill="#e8232b" stroke="#e8232b" stroke-width="0.3"/>
<polygon points="326.8,92.3 325.13,95.2 328.47,95.2" fill="#e8232b" stroke="#e8232b" stroke-width="0.3"/>
<circle cx="340.5" cy="89.7" r="1.7" fill="#e8232b" stroke="#e8232b" stroke-width="0.3"/>
<polygon points="326.8,95 325.13,97.9 328.47,97.9" fill="#e8232b" stroke="#e8232b" stroke-width="0.3"/>
<circle cx="340.5" cy="94.1" r="1.7" fill="#e8232b" stroke="#e8232b" stroke-width="0.3"/>
<polygon points="326.8,104.4 325.13,107.3 328.47,107.3" fill="#e8232b" stroke="#e8232b" stroke-width="0.3"/>
<circle cx="340.5" cy="103.9" r="1.7" fill="#e8232b" stroke="#e8232b" stroke-width="0.3"/>
<polygon points="326.8,104.4 325.13,107.3 328.47,107.3" fill="#e8232b" stroke="#e8232b" stroke-width="0.3"/>
<circle cx="340.5" cy="105.1" r="1.7" fill="#e8232b" stroke="#e8232b" stroke-width="0.3"/>
<rect x="296" y="55.4" width="50" height="5.6" fill="#fff"/>
<line x1="293.2" y1="54.2" x2="295.7" y2="54.2" stroke="#5e5e5e" stroke-width="0.9"/>
<line x1="293.2" y1="62.9" x2="295.7" y2="62.9" stroke="#5e5e5e" stroke-width="0.9"/>
<polyline points="325.3,33.6 325.3,29.9 341.3,29.9 341.3,33.6" fill="none" stroke="#777" stroke-width="0.95"/>
<text x="333.3" y="30.9" font-size="9.4" font-weight="bold" text-anchor="middle" letter-spacing="0.3">*</text>
<line x1="378.6" y1="34.1" x2="378.6" y2="113.6" stroke="#5e5e5e" stroke-width="0.9"/>
<line x1="378.6" y1="113.6" x2="432" y2="113.6" stroke="#5e5e5e" stroke-width="0.9"/>
<line x1="375.6" y1="34.1" x2="378.6" y2="34.1" stroke="#5e5e5e" stroke-width="0.8"/>
<text transform="translate(372.7,36.96) scale(0.9434,1)" font-size="7.95" text-anchor="end" fill="#000">15</text>
<line x1="375.6" y1="58.6" x2="378.6" y2="58.6" stroke="#5e5e5e" stroke-width="0.8"/>
<text transform="translate(372.7,61.46) scale(0.9434,1)" font-size="7.95" text-anchor="end" fill="#000">10</text>
<line x1="375.6" y1="83.7" x2="378.6" y2="83.7" stroke="#5e5e5e" stroke-width="0.8"/>
<text transform="translate(372.7,86.56) scale(0.9434,1)" font-size="7.95" text-anchor="end" fill="#000">5</text>
<line x1="375.6" y1="108.3" x2="378.6" y2="108.3" stroke="#5e5e5e" stroke-width="0.8"/>
<text transform="translate(372.7,111.16) scale(0.9434,1)" font-size="7.95" text-anchor="end" fill="#000">0</text>
<line x1="392.2" y1="113.6" x2="392.2" y2="116.9" stroke="#444" stroke-width="0.85"/>
<text transform="translate(392.2,126.35) scale(0.9434,1)" font-size="7.63" text-anchor="middle" fill="#000">NR</text>
<line x1="419" y1="113.6" x2="419" y2="116.9" stroke="#444" stroke-width="0.85"/>
<text transform="translate(419,126.35) scale(0.9434,1)" font-size="7.63" text-anchor="middle" fill="#000">R</text>
<line x1="385.4" y1="70.7" x2="399.1" y2="83.7" stroke="#222" stroke-width="0.45"/>
<line x1="385.4" y1="77" x2="399.1" y2="75.8" stroke="#222" stroke-width="0.45"/>
<line x1="385.4" y1="79.1" x2="399.1" y2="78.6" stroke="#222" stroke-width="0.45"/>
<line x1="385.4" y1="81" x2="399.1" y2="81.5" stroke="#222" stroke-width="0.45"/>
<line x1="385.4" y1="84.1" x2="399.1" y2="86.2" stroke="#222" stroke-width="0.45"/>
<line x1="385.4" y1="88.9" x2="399.1" y2="92" stroke="#222" stroke-width="0.45"/>
<line x1="385.4" y1="96.8" x2="399.1" y2="96" stroke="#222" stroke-width="0.45"/>
<line x1="385.4" y1="103.9" x2="399.1" y2="103.5" stroke="#222" stroke-width="0.45"/>
<line x1="385.4" y1="105.4" x2="399.1" y2="104.7" stroke="#222" stroke-width="0.45"/>
<line x1="385.4" y1="106.2" x2="399.1" y2="105.8" stroke="#222" stroke-width="0.45"/>
<polygon points="385.4,69.01 383.84,71.73 386.96,71.73" fill="none" stroke="#000" stroke-width="0.55"/>
<circle cx="399.1" cy="83.7" r="1.7" fill="#fff" stroke="#000" stroke-width="0.55"/>
<polygon points="385.4,75.31 383.84,78.03 386.96,78.03" fill="none" stroke="#000" stroke-width="0.55"/>
<circle cx="399.1" cy="75.8" r="1.7" fill="#fff" stroke="#000" stroke-width="0.55"/>
<polygon points="385.4,77.41 383.84,80.13 386.96,80.13" fill="none" stroke="#000" stroke-width="0.55"/>
<circle cx="399.1" cy="78.6" r="1.7" fill="#fff" stroke="#000" stroke-width="0.55"/>
<polygon points="385.4,79.31 383.84,82.03 386.96,82.03" fill="none" stroke="#000" stroke-width="0.55"/>
<circle cx="399.1" cy="81.5" r="1.7" fill="#fff" stroke="#000" stroke-width="0.55"/>
<polygon points="385.4,82.41 383.84,85.13 386.96,85.13" fill="none" stroke="#000" stroke-width="0.55"/>
<circle cx="399.1" cy="86.2" r="1.7" fill="#fff" stroke="#000" stroke-width="0.55"/>
<polygon points="385.4,87.21 383.84,89.93 386.96,89.93" fill="none" stroke="#000" stroke-width="0.55"/>
<circle cx="399.1" cy="92" r="1.7" fill="#fff" stroke="#000" stroke-width="0.55"/>
<polygon points="385.4,95.11 383.84,97.83 386.96,97.83" fill="none" stroke="#000" stroke-width="0.55"/>
<circle cx="399.1" cy="96" r="1.7" fill="#fff" stroke="#000" stroke-width="0.55"/>
<polygon points="385.4,102.21 383.84,104.93 386.96,104.93" fill="none" stroke="#000" stroke-width="0.55"/>
<circle cx="399.1" cy="103.5" r="1.7" fill="#fff" stroke="#000" stroke-width="0.55"/>
<polygon points="385.4,103.71 383.84,106.43 386.96,106.43" fill="none" stroke="#000" stroke-width="0.55"/>
<circle cx="399.1" cy="104.7" r="1.7" fill="#fff" stroke="#000" stroke-width="0.55"/>
<polygon points="385.4,104.51 383.84,107.23 386.96,107.23" fill="none" stroke="#000" stroke-width="0.55"/>
<circle cx="399.1" cy="105.8" r="1.7" fill="#fff" stroke="#000" stroke-width="0.55"/>
<line x1="412.2" y1="61.6" x2="425.9" y2="57.8" stroke="#222" stroke-width="0.45"/>
<line x1="412.2" y1="70" x2="425.9" y2="80.2" stroke="#222" stroke-width="0.45"/>
<line x1="412.2" y1="75.2" x2="425.9" y2="65.7" stroke="#222" stroke-width="0.45"/>
<line x1="412.2" y1="76.3" x2="425.9" y2="73.9" stroke="#222" stroke-width="0.45"/>
<line x1="412.2" y1="77.8" x2="425.9" y2="72.3" stroke="#222" stroke-width="0.45"/>
<line x1="412.2" y1="77" x2="425.9" y2="75.2" stroke="#222" stroke-width="0.45"/>
<line x1="412.2" y1="86.5" x2="425.9" y2="81.8" stroke="#222" stroke-width="0.45"/>
<line x1="412.2" y1="90.9" x2="425.9" y2="85.7" stroke="#222" stroke-width="0.45"/>
<line x1="412.2" y1="92.5" x2="425.9" y2="87.3" stroke="#222" stroke-width="0.45"/>
<line x1="412.2" y1="94.1" x2="425.9" y2="91.2" stroke="#222" stroke-width="0.45"/>
<line x1="412.2" y1="102.3" x2="425.9" y2="103.4" stroke="#222" stroke-width="0.45"/>
<line x1="412.2" y1="105.8" x2="425.9" y2="103.9" stroke="#222" stroke-width="0.45"/>
<polygon points="412.2,59.8 410.53,62.7 413.87,62.7" fill="#e8232b" stroke="#e8232b" stroke-width="0.3"/>
<circle cx="425.9" cy="57.8" r="1.7" fill="#e8232b" stroke="#e8232b" stroke-width="0.3"/>
<polygon points="412.2,68.2 410.53,71.1 413.87,71.1" fill="#e8232b" stroke="#e8232b" stroke-width="0.3"/>
<circle cx="425.9" cy="80.2" r="1.7" fill="#e8232b" stroke="#e8232b" stroke-width="0.3"/>
<polygon points="412.2,73.4 410.53,76.3 413.87,76.3" fill="#e8232b" stroke="#e8232b" stroke-width="0.3"/>
<circle cx="425.9" cy="65.7" r="1.7" fill="#e8232b" stroke="#e8232b" stroke-width="0.3"/>
<polygon points="412.2,74.5 410.53,77.4 413.87,77.4" fill="#e8232b" stroke="#e8232b" stroke-width="0.3"/>
<circle cx="425.9" cy="73.9" r="1.7" fill="#e8232b" stroke="#e8232b" stroke-width="0.3"/>
<polygon points="412.2,76 410.53,78.9 413.87,78.9" fill="#e8232b" stroke="#e8232b" stroke-width="0.3"/>
<circle cx="425.9" cy="72.3" r="1.7" fill="#e8232b" stroke="#e8232b" stroke-width="0.3"/>
<polygon points="412.2,75.2 410.53,78.1 413.87,78.1" fill="#e8232b" stroke="#e8232b" stroke-width="0.3"/>
<circle cx="425.9" cy="75.2" r="1.7" fill="#e8232b" stroke="#e8232b" stroke-width="0.3"/>
<polygon points="412.2,84.7 410.53,87.6 413.87,87.6" fill="#e8232b" stroke="#e8232b" stroke-width="0.3"/>
<circle cx="425.9" cy="81.8" r="1.7" fill="#e8232b" stroke="#e8232b" stroke-width="0.3"/>
<polygon points="412.2,89.1 410.53,92 413.87,92" fill="#e8232b" stroke="#e8232b" stroke-width="0.3"/>
<circle cx="425.9" cy="85.7" r="1.7" fill="#e8232b" stroke="#e8232b" stroke-width="0.3"/>
<polygon points="412.2,90.7 410.53,93.6 413.87,93.6" fill="#e8232b" stroke="#e8232b" stroke-width="0.3"/>
<circle cx="425.9" cy="87.3" r="1.7" fill="#e8232b" stroke="#e8232b" stroke-width="0.3"/>
<polygon points="412.2,92.3 410.53,95.2 413.87,95.2" fill="#e8232b" stroke="#e8232b" stroke-width="0.3"/>
<circle cx="425.9" cy="91.2" r="1.7" fill="#e8232b" stroke="#e8232b" stroke-width="0.3"/>
<polygon points="412.2,100.5 410.53,103.4 413.87,103.4" fill="#e8232b" stroke="#e8232b" stroke-width="0.3"/>
<circle cx="425.9" cy="103.4" r="1.7" fill="#e8232b" stroke="#e8232b" stroke-width="0.3"/>
<polygon points="412.2,104 410.53,106.9 413.87,106.9" fill="#e8232b" stroke="#e8232b" stroke-width="0.3"/>
<circle cx="425.9" cy="103.9" r="1.7" fill="#e8232b" stroke="#e8232b" stroke-width="0.3"/>
<polyline points="411.4,35.7 411.4,32.1 427.2,32.1 427.2,35.7" fill="none" stroke="#777" stroke-width="0.95"/>
<text x="419.3" y="33.1" font-size="9.4" font-weight="bold" text-anchor="middle" letter-spacing="0.3">*</text>
<line x1="461.6" y1="34.5" x2="461.6" y2="113.6" stroke="#5e5e5e" stroke-width="0.9"/>
<line x1="461.6" y1="113.6" x2="515.7" y2="113.6" stroke="#5e5e5e" stroke-width="0.9"/>
<line x1="458.6" y1="34.5" x2="461.6" y2="34.5" stroke="#5e5e5e" stroke-width="0.8"/>
<text transform="translate(455.7,37.36) scale(0.9434,1)" font-size="7.95" text-anchor="end" fill="#000">150</text>
<line x1="458.6" y1="60.5" x2="461.6" y2="60.5" stroke="#5e5e5e" stroke-width="0.8"/>
<text transform="translate(455.7,63.36) scale(0.9434,1)" font-size="7.95" text-anchor="end" fill="#000">100</text>
<line x1="458.6" y1="85.7" x2="461.6" y2="85.7" stroke="#5e5e5e" stroke-width="0.8"/>
<text transform="translate(455.7,88.56) scale(0.9434,1)" font-size="7.95" text-anchor="end" fill="#000">50</text>
<line x1="458.6" y1="111.4" x2="461.6" y2="111.4" stroke="#5e5e5e" stroke-width="0.8"/>
<text transform="translate(455.7,114.26) scale(0.9434,1)" font-size="7.95" text-anchor="end" fill="#000">0</text>
<line x1="475.5" y1="113.6" x2="475.5" y2="116.9" stroke="#444" stroke-width="0.85"/>
<text transform="translate(475.5,126.35) scale(0.9434,1)" font-size="7.63" text-anchor="middle" fill="#000">NR</text>
<line x1="502.3" y1="113.6" x2="502.3" y2="116.9" stroke="#444" stroke-width="0.85"/>
<text transform="translate(502.3,126.35) scale(0.9434,1)" font-size="7.63" text-anchor="middle" fill="#000">R</text>
<line x1="468" y1="91" x2="481.8" y2="76.7" stroke="#222" stroke-width="0.45"/>
<line x1="468" y1="94.4" x2="481.8" y2="84.8" stroke="#222" stroke-width="0.45"/>
<line x1="468" y1="92.8" x2="481.8" y2="104.2" stroke="#222" stroke-width="0.45"/>
<line x1="468" y1="99" x2="481.8" y2="93.8" stroke="#222" stroke-width="0.45"/>
<line x1="468" y1="104.2" x2="481.8" y2="106.5" stroke="#222" stroke-width="0.45"/>
<line x1="468" y1="106" x2="481.8" y2="104.4" stroke="#222" stroke-width="0.45"/>
<line x1="468" y1="109.8" x2="481.8" y2="109.8" stroke="#222" stroke-width="0.45"/>
<line x1="468" y1="110.6" x2="481.8" y2="110.6" stroke="#222" stroke-width="0.45"/>
<polygon points="468,89.31 466.44,92.03 469.56,92.03" fill="none" stroke="#000" stroke-width="0.55"/>
<circle cx="481.8" cy="76.7" r="1.7" fill="#fff" stroke="#000" stroke-width="0.55"/>
<polygon points="468,92.71 466.44,95.43 469.56,95.43" fill="none" stroke="#000" stroke-width="0.55"/>
<circle cx="481.8" cy="84.8" r="1.7" fill="#fff" stroke="#000" stroke-width="0.55"/>
<polygon points="468,91.11 466.44,93.83 469.56,93.83" fill="none" stroke="#000" stroke-width="0.55"/>
<circle cx="481.8" cy="104.2" r="1.7" fill="#fff" stroke="#000" stroke-width="0.55"/>
<polygon points="468,97.31 466.44,100.03 469.56,100.03" fill="none" stroke="#000" stroke-width="0.55"/>
<circle cx="481.8" cy="93.8" r="1.7" fill="#fff" stroke="#000" stroke-width="0.55"/>
<polygon points="468,102.51 466.44,105.23 469.56,105.23" fill="none" stroke="#000" stroke-width="0.55"/>
<circle cx="481.8" cy="106.5" r="1.7" fill="#fff" stroke="#000" stroke-width="0.55"/>
<polygon points="468,104.31 466.44,107.03 469.56,107.03" fill="none" stroke="#000" stroke-width="0.55"/>
<circle cx="481.8" cy="104.4" r="1.7" fill="#fff" stroke="#000" stroke-width="0.55"/>
<polygon points="468,108.11 466.44,110.83 469.56,110.83" fill="none" stroke="#000" stroke-width="0.55"/>
<circle cx="481.8" cy="109.8" r="1.7" fill="#fff" stroke="#000" stroke-width="0.55"/>
<polygon points="468,108.91 466.44,111.63 469.56,111.63" fill="none" stroke="#000" stroke-width="0.55"/>
<circle cx="481.8" cy="110.6" r="1.7" fill="#fff" stroke="#000" stroke-width="0.55"/>
<line x1="495.2" y1="62.9" x2="509.1" y2="48.3" stroke="#222" stroke-width="0.45"/>
<line x1="495.2" y1="75.8" x2="509.1" y2="71.5" stroke="#222" stroke-width="0.45"/>
<line x1="495.2" y1="82.6" x2="509.1" y2="73.1" stroke="#222" stroke-width="0.45"/>
<line x1="495.2" y1="93.1" x2="509.1" y2="65.2" stroke="#222" stroke-width="0.45"/>
<line x1="495.2" y1="98.3" x2="509.1" y2="81.5" stroke="#222" stroke-width="0.45"/>
<line x1="495.2" y1="100.7" x2="509.1" y2="85.7" stroke="#222" stroke-width="0.45"/>
<line x1="495.2" y1="103.1" x2="509.1" y2="90.9" stroke="#222" stroke-width="0.45"/>
<line x1="495.2" y1="103.9" x2="509.1" y2="102.6" stroke="#222" stroke-width="0.45"/>
<line x1="495.2" y1="107.8" x2="509.1" y2="103.9" stroke="#222" stroke-width="0.45"/>
<line x1="495.2" y1="109.4" x2="509.1" y2="105.4" stroke="#222" stroke-width="0.45"/>
<line x1="495.2" y1="110.2" x2="509.1" y2="107.8" stroke="#222" stroke-width="0.45"/>
<line x1="495.2" y1="110.2" x2="509.1" y2="108.3" stroke="#222" stroke-width="0.45"/>
<polygon points="495.2,61.1 493.53,64 496.87,64" fill="#e8232b" stroke="#e8232b" stroke-width="0.3"/>
<circle cx="509.1" cy="48.3" r="1.7" fill="#e8232b" stroke="#e8232b" stroke-width="0.3"/>
<polygon points="495.2,74 493.53,76.9 496.87,76.9" fill="#e8232b" stroke="#e8232b" stroke-width="0.3"/>
<circle cx="509.1" cy="71.5" r="1.7" fill="#e8232b" stroke="#e8232b" stroke-width="0.3"/>
<polygon points="495.2,80.8 493.53,83.7 496.87,83.7" fill="#e8232b" stroke="#e8232b" stroke-width="0.3"/>
<circle cx="509.1" cy="73.1" r="1.7" fill="#e8232b" stroke="#e8232b" stroke-width="0.3"/>
<polygon points="495.2,91.3 493.53,94.2 496.87,94.2" fill="#e8232b" stroke="#e8232b" stroke-width="0.3"/>
<circle cx="509.1" cy="65.2" r="1.7" fill="#e8232b" stroke="#e8232b" stroke-width="0.3"/>
<polygon points="495.2,96.5 493.53,99.4 496.87,99.4" fill="#e8232b" stroke="#e8232b" stroke-width="0.3"/>
<circle cx="509.1" cy="81.5" r="1.7" fill="#e8232b" stroke="#e8232b" stroke-width="0.3"/>
<polygon points="495.2,98.9 493.53,101.8 496.87,101.8" fill="#e8232b" stroke="#e8232b" stroke-width="0.3"/>
<circle cx="509.1" cy="85.7" r="1.7" fill="#e8232b" stroke="#e8232b" stroke-width="0.3"/>
<polygon points="495.2,101.3 493.53,104.2 496.87,104.2" fill="#e8232b" stroke="#e8232b" stroke-width="0.3"/>
<circle cx="509.1" cy="90.9" r="1.7" fill="#e8232b" stroke="#e8232b" stroke-width="0.3"/>
<polygon points="495.2,102.1 493.53,105 496.87,105" fill="#e8232b" stroke="#e8232b" stroke-width="0.3"/>
<circle cx="509.1" cy="102.6" r="1.7" fill="#e8232b" stroke="#e8232b" stroke-width="0.3"/>
<polygon points="495.2,106 493.53,108.9 496.87,108.9" fill="#e8232b" stroke="#e8232b" stroke-width="0.3"/>
<circle cx="509.1" cy="103.9" r="1.7" fill="#e8232b" stroke="#e8232b" stroke-width="0.3"/>
<polygon points="495.2,107.6 493.53,110.5 496.87,110.5" fill="#e8232b" stroke="#e8232b" stroke-width="0.3"/>
<circle cx="509.1" cy="105.4" r="1.7" fill="#e8232b" stroke="#e8232b" stroke-width="0.3"/>
<polygon points="495.2,108.4 493.53,111.3 496.87,111.3" fill="#e8232b" stroke="#e8232b" stroke-width="0.3"/>
<circle cx="509.1" cy="107.8" r="1.7" fill="#e8232b" stroke="#e8232b" stroke-width="0.3"/>
<polygon points="495.2,108.4 493.53,111.3 496.87,111.3" fill="#e8232b" stroke="#e8232b" stroke-width="0.3"/>
<circle cx="509.1" cy="108.3" r="1.7" fill="#e8232b" stroke="#e8232b" stroke-width="0.3"/>
<polyline points="492.9,37.3 492.9,33.8 509.4,33.8 509.4,37.3" fill="none" stroke="#777" stroke-width="0.95"/>
<text x="501.15" y="34.8" font-size="9.4" font-weight="bold" text-anchor="middle" letter-spacing="0.3">***</text>
<line x1="293.5" y1="146.8" x2="293.5" y2="226" stroke="#5e5e5e" stroke-width="0.9"/>
<line x1="293.5" y1="226" x2="345.6" y2="226" stroke="#5e5e5e" stroke-width="0.9"/>
<line x1="290.5" y1="146.8" x2="293.5" y2="146.8" stroke="#5e5e5e" stroke-width="0.8"/>
<text transform="translate(287.6,149.66) scale(0.9434,1)" font-size="7.95" text-anchor="end" fill="#000">8,000</text>
<line x1="290.5" y1="165.8" x2="293.5" y2="165.8" stroke="#5e5e5e" stroke-width="0.8"/>
<text transform="translate(287.6,168.66) scale(0.9434,1)" font-size="7.95" text-anchor="end" fill="#000">6,000</text>
<line x1="290.5" y1="184.7" x2="293.5" y2="184.7" stroke="#5e5e5e" stroke-width="0.8"/>
<text transform="translate(287.6,187.56) scale(0.9434,1)" font-size="7.95" text-anchor="end" fill="#000">4,000</text>
<line x1="290.5" y1="203.6" x2="293.5" y2="203.6" stroke="#5e5e5e" stroke-width="0.8"/>
<text transform="translate(287.6,206.46) scale(0.9434,1)" font-size="7.95" text-anchor="end" fill="#000">2,000</text>
<line x1="290.5" y1="222.2" x2="293.5" y2="222.2" stroke="#5e5e5e" stroke-width="0.8"/>
<text transform="translate(287.6,225.06) scale(0.9434,1)" font-size="7.95" text-anchor="end" fill="#000">0</text>
<line x1="306.1" y1="226" x2="306.1" y2="229.3" stroke="#444" stroke-width="0.85"/>
<text transform="translate(306.1,238.55) scale(0.9434,1)" font-size="7.63" text-anchor="middle" fill="#000">NR</text>
<line x1="333.7" y1="226" x2="333.7" y2="229.3" stroke="#444" stroke-width="0.85"/>
<text transform="translate(333.7,238.55) scale(0.9434,1)" font-size="7.63" text-anchor="middle" fill="#000">R</text>
<line x1="299" y1="171" x2="312.4" y2="162.1" stroke="#222" stroke-width="0.45"/>
<line x1="299" y1="202" x2="312.4" y2="207.1" stroke="#222" stroke-width="0.45"/>
<line x1="299" y1="218.6" x2="312.4" y2="221.4" stroke="#222" stroke-width="0.45"/>
<line x1="299" y1="221" x2="312.4" y2="218.6" stroke="#222" stroke-width="0.45"/>
<line x1="299" y1="222.1" x2="312.4" y2="222.2" stroke="#222" stroke-width="0.45"/>
<polygon points="299,169.31 297.44,172.03 300.56,172.03" fill="none" stroke="#000" stroke-width="0.55"/>
<circle cx="312.4" cy="162.1" r="1.7" fill="#fff" stroke="#000" stroke-width="0.55"/>
<polygon points="299,200.31 297.44,203.03 300.56,203.03" fill="none" stroke="#000" stroke-width="0.55"/>
<circle cx="312.4" cy="207.1" r="1.7" fill="#fff" stroke="#000" stroke-width="0.55"/>
<polygon points="299,216.91 297.44,219.63 300.56,219.63" fill="none" stroke="#000" stroke-width="0.55"/>
<circle cx="312.4" cy="221.4" r="1.7" fill="#fff" stroke="#000" stroke-width="0.55"/>
<polygon points="299,219.31 297.44,222.03 300.56,222.03" fill="none" stroke="#000" stroke-width="0.55"/>
<circle cx="312.4" cy="218.6" r="1.7" fill="#fff" stroke="#000" stroke-width="0.55"/>
<polygon points="299,220.41 297.44,223.13 300.56,223.13" fill="none" stroke="#000" stroke-width="0.55"/>
<circle cx="312.4" cy="222.2" r="1.7" fill="#fff" stroke="#000" stroke-width="0.55"/>
<line x1="325.9" y1="205.2" x2="339.3" y2="177.1" stroke="#222" stroke-width="0.45"/>
<line x1="325.9" y1="207.6" x2="339.3" y2="197.3" stroke="#222" stroke-width="0.45"/>
<line x1="325.9" y1="213.5" x2="339.3" y2="200" stroke="#222" stroke-width="0.45"/>
<line x1="325.9" y1="214.7" x2="339.3" y2="211.5" stroke="#222" stroke-width="0.45"/>
<line x1="325.9" y1="216.2" x2="339.3" y2="217" stroke="#222" stroke-width="0.45"/>
<line x1="325.9" y1="217.8" x2="339.3" y2="217.8" stroke="#222" stroke-width="0.45"/>
<line x1="325.9" y1="219.4" x2="339.3" y2="219.4" stroke="#222" stroke-width="0.45"/>
<line x1="325.9" y1="221" x2="339.3" y2="221" stroke="#222" stroke-width="0.45"/>
<line x1="325.9" y1="221.8" x2="339.3" y2="221.8" stroke="#222" stroke-width="0.45"/>
<line x1="325.9" y1="218.5" x2="339.3" y2="216.5" stroke="#222" stroke-width="0.45"/>
<line x1="325.9" y1="220" x2="339.3" y2="220.5" stroke="#222" stroke-width="0.45"/>
<polygon points="325.9,203.4 324.23,206.3 327.57,206.3" fill="#e8232b" stroke="#e8232b" stroke-width="0.3"/>
<circle cx="339.3" cy="177.1" r="1.7" fill="#e8232b" stroke="#e8232b" stroke-width="0.3"/>
<polygon points="325.9,205.8 324.23,208.7 327.57,208.7" fill="#e8232b" stroke="#e8232b" stroke-width="0.3"/>
<circle cx="339.3" cy="197.3" r="1.7" fill="#e8232b" stroke="#e8232b" stroke-width="0.3"/>
<polygon points="325.9,211.7 324.23,214.6 327.57,214.6" fill="#e8232b" stroke="#e8232b" stroke-width="0.3"/>
<circle cx="339.3" cy="200" r="1.7" fill="#e8232b" stroke="#e8232b" stroke-width="0.3"/>
<polygon points="325.9,212.9 324.23,215.8 327.57,215.8" fill="#e8232b" stroke="#e8232b" stroke-width="0.3"/>
<circle cx="339.3" cy="211.5" r="1.7" fill="#e8232b" stroke="#e8232b" stroke-width="0.3"/>
<polygon points="325.9,214.4 324.23,217.3 327.57,217.3" fill="#e8232b" stroke="#e8232b" stroke-width="0.3"/>
<circle cx="339.3" cy="217" r="1.7" fill="#e8232b" stroke="#e8232b" stroke-width="0.3"/>
<polygon points="325.9,216 324.23,218.9 327.57,218.9" fill="#e8232b" stroke="#e8232b" stroke-width="0.3"/>
<circle cx="339.3" cy="217.8" r="1.7" fill="#e8232b" stroke="#e8232b" stroke-width="0.3"/>
<polygon points="325.9,217.6 324.23,220.5 327.57,220.5" fill="#e8232b" stroke="#e8232b" stroke-width="0.3"/>
<circle cx="339.3" cy="219.4" r="1.7" fill="#e8232b" stroke="#e8232b" stroke-width="0.3"/>
<polygon points="325.9,219.2 324.23,222.1 327.57,222.1" fill="#e8232b" stroke="#e8232b" stroke-width="0.3"/>
<circle cx="339.3" cy="221" r="1.7" fill="#e8232b" stroke="#e8232b" stroke-width="0.3"/>
<polygon points="325.9,220 324.23,222.9 327.57,222.9" fill="#e8232b" stroke="#e8232b" stroke-width="0.3"/>
<circle cx="339.3" cy="221.8" r="1.7" fill="#e8232b" stroke="#e8232b" stroke-width="0.3"/>
<polygon points="325.9,216.7 324.23,219.6 327.57,219.6" fill="#e8232b" stroke="#e8232b" stroke-width="0.3"/>
<circle cx="339.3" cy="216.5" r="1.7" fill="#e8232b" stroke="#e8232b" stroke-width="0.3"/>
<polygon points="325.9,218.2 324.23,221.1 327.57,221.1" fill="#e8232b" stroke="#e8232b" stroke-width="0.3"/>
<circle cx="339.3" cy="220.5" r="1.7" fill="#e8232b" stroke="#e8232b" stroke-width="0.3"/>
<polyline points="324.3,151.1 324.3,147.8 340,147.8 340,151.1" fill="none" stroke="#777" stroke-width="0.95"/>
<text x="332.15" y="148.8" font-size="9.4" font-weight="bold" text-anchor="middle" letter-spacing="0.3">*</text>
<line x1="379.1" y1="146.8" x2="379.1" y2="226" stroke="#5e5e5e" stroke-width="0.9"/>
<line x1="379.1" y1="226" x2="431.6" y2="226" stroke="#5e5e5e" stroke-width="0.9"/>
<line x1="376.1" y1="146.8" x2="379.1" y2="146.8" stroke="#5e5e5e" stroke-width="0.8"/>
<text transform="translate(373.2,149.66) scale(0.9434,1)" font-size="7.95" text-anchor="end" fill="#000">4,000</text>
<line x1="376.1" y1="166.1" x2="379.1" y2="166.1" stroke="#5e5e5e" stroke-width="0.8"/>
<text transform="translate(373.2,168.96) scale(0.9434,1)" font-size="7.95" text-anchor="end" fill="#000">3,000</text>
<line x1="376.1" y1="185.5" x2="379.1" y2="185.5" stroke="#5e5e5e" stroke-width="0.8"/>
<text transform="translate(373.2,188.36) scale(0.9434,1)" font-size="7.95" text-anchor="end" fill="#000">2,000</text>
<line x1="376.1" y1="204.7" x2="379.1" y2="204.7" stroke="#5e5e5e" stroke-width="0.8"/>
<text transform="translate(373.2,207.56) scale(0.9434,1)" font-size="7.95" text-anchor="end" fill="#000">1,000</text>
<line x1="376.1" y1="223.8" x2="379.1" y2="223.8" stroke="#5e5e5e" stroke-width="0.8"/>
<text transform="translate(373.2,226.66) scale(0.9434,1)" font-size="7.95" text-anchor="end" fill="#000">0</text>
<line x1="391.7" y1="226" x2="391.7" y2="229.3" stroke="#444" stroke-width="0.85"/>
<text transform="translate(391.7,238.55) scale(0.9434,1)" font-size="7.63" text-anchor="middle" fill="#000">NR</text>
<line x1="419.3" y1="226" x2="419.3" y2="229.3" stroke="#444" stroke-width="0.85"/>
<text transform="translate(419.3,238.55) scale(0.9434,1)" font-size="7.63" text-anchor="middle" fill="#000">R</text>
<line x1="385.4" y1="203.9" x2="398.8" y2="221.4" stroke="#222" stroke-width="0.45"/>
<line x1="385.4" y1="218.1" x2="398.8" y2="215.4" stroke="#222" stroke-width="0.45"/>
<line x1="385.4" y1="220.2" x2="398.8" y2="220.2" stroke="#222" stroke-width="0.45"/>
<line x1="385.4" y1="221.8" x2="398.8" y2="222.5" stroke="#222" stroke-width="0.45"/>
<line x1="385.4" y1="223" x2="398.8" y2="223.3" stroke="#222" stroke-width="0.45"/>
<line x1="385.4" y1="223.6" x2="398.8" y2="222.8" stroke="#222" stroke-width="0.45"/>
<polygon points="385.4,202.21 383.84,204.93 386.96,204.93" fill="none" stroke="#000" stroke-width="0.55"/>
<circle cx="398.8" cy="221.4" r="1.7" fill="#fff" stroke="#000" stroke-width="0.55"/>
<polygon points="385.4,216.41 383.84,219.13 386.96,219.13" fill="none" stroke="#000" stroke-width="0.55"/>
<circle cx="398.8" cy="215.4" r="1.7" fill="#fff" stroke="#000" stroke-width="0.55"/>
<polygon points="385.4,218.51 383.84,221.23 386.96,221.23" fill="none" stroke="#000" stroke-width="0.55"/>
<circle cx="398.8" cy="220.2" r="1.7" fill="#fff" stroke="#000" stroke-width="0.55"/>
<polygon points="385.4,220.11 383.84,222.83 386.96,222.83" fill="none" stroke="#000" stroke-width="0.55"/>
<circle cx="398.8" cy="222.5" r="1.7" fill="#fff" stroke="#000" stroke-width="0.55"/>
<polygon points="385.4,221.31 383.84,224.03 386.96,224.03" fill="none" stroke="#000" stroke-width="0.55"/>
<circle cx="398.8" cy="223.3" r="1.7" fill="#fff" stroke="#000" stroke-width="0.55"/>
<polygon points="385.4,221.91 383.84,224.63 386.96,224.63" fill="none" stroke="#000" stroke-width="0.55"/>
<circle cx="398.8" cy="222.8" r="1.7" fill="#fff" stroke="#000" stroke-width="0.55"/>
<line x1="412.2" y1="182.3" x2="425.6" y2="180" stroke="#222" stroke-width="0.45"/>
<line x1="412.2" y1="208.3" x2="425.6" y2="159.4" stroke="#222" stroke-width="0.45"/>
<line x1="412.2" y1="210.7" x2="425.6" y2="174.7" stroke="#222" stroke-width="0.45"/>
<line x1="412.2" y1="213.1" x2="425.6" y2="177.6" stroke="#222" stroke-width="0.45"/>
<line x1="412.2" y1="215.4" x2="425.6" y2="196.5" stroke="#222" stroke-width="0.45"/>
<line x1="412.2" y1="217" x2="425.6" y2="207.9" stroke="#222" stroke-width="0.45"/>
<line x1="412.2" y1="219.4" x2="425.6" y2="212" stroke="#222" stroke-width="0.45"/>
<line x1="412.2" y1="223.3" x2="425.6" y2="221" stroke="#222" stroke-width="0.45"/>
<line x1="412.2" y1="216" x2="425.6" y2="213.9" stroke="#222" stroke-width="0.45"/>
<line x1="412.2" y1="218" x2="425.6" y2="216.2" stroke="#222" stroke-width="0.45"/>
<line x1="412.2" y1="220.5" x2="425.6" y2="218.6" stroke="#222" stroke-width="0.45"/>
<polygon points="412.2,180.5 410.53,183.4 413.87,183.4" fill="#e8232b" stroke="#e8232b" stroke-width="0.3"/>
<circle cx="425.6" cy="180" r="1.7" fill="#e8232b" stroke="#e8232b" stroke-width="0.3"/>
<polygon points="412.2,206.5 410.53,209.4 413.87,209.4" fill="#e8232b" stroke="#e8232b" stroke-width="0.3"/>
<circle cx="425.6" cy="159.4" r="1.7" fill="#e8232b" stroke="#e8232b" stroke-width="0.3"/>
<polygon points="412.2,208.9 410.53,211.8 413.87,211.8" fill="#e8232b" stroke="#e8232b" stroke-width="0.3"/>
<circle cx="425.6" cy="174.7" r="1.7" fill="#e8232b" stroke="#e8232b" stroke-width="0.3"/>
<polygon points="412.2,211.3 410.53,214.2 413.87,214.2" fill="#e8232b" stroke="#e8232b" stroke-width="0.3"/>
<circle cx="425.6" cy="177.6" r="1.7" fill="#e8232b" stroke="#e8232b" stroke-width="0.3"/>
<polygon points="412.2,213.6 410.53,216.5 413.87,216.5" fill="#e8232b" stroke="#e8232b" stroke-width="0.3"/>
<circle cx="425.6" cy="196.5" r="1.7" fill="#e8232b" stroke="#e8232b" stroke-width="0.3"/>
<polygon points="412.2,215.2 410.53,218.1 413.87,218.1" fill="#e8232b" stroke="#e8232b" stroke-width="0.3"/>
<circle cx="425.6" cy="207.9" r="1.7" fill="#e8232b" stroke="#e8232b" stroke-width="0.3"/>
<polygon points="412.2,217.6 410.53,220.5 413.87,220.5" fill="#e8232b" stroke="#e8232b" stroke-width="0.3"/>
<circle cx="425.6" cy="212" r="1.7" fill="#e8232b" stroke="#e8232b" stroke-width="0.3"/>
<polygon points="412.2,221.5 410.53,224.4 413.87,224.4" fill="#e8232b" stroke="#e8232b" stroke-width="0.3"/>
<circle cx="425.6" cy="221" r="1.7" fill="#e8232b" stroke="#e8232b" stroke-width="0.3"/>
<polygon points="412.2,214.2 410.53,217.1 413.87,217.1" fill="#e8232b" stroke="#e8232b" stroke-width="0.3"/>
<circle cx="425.6" cy="213.9" r="1.7" fill="#e8232b" stroke="#e8232b" stroke-width="0.3"/>
<polygon points="412.2,216.2 410.53,219.1 413.87,219.1" fill="#e8232b" stroke="#e8232b" stroke-width="0.3"/>
<circle cx="425.6" cy="216.2" r="1.7" fill="#e8232b" stroke="#e8232b" stroke-width="0.3"/>
<polygon points="412.2,218.7 410.53,221.6 413.87,221.6" fill="#e8232b" stroke="#e8232b" stroke-width="0.3"/>
<circle cx="425.6" cy="218.6" r="1.7" fill="#e8232b" stroke="#e8232b" stroke-width="0.3"/>
<polyline points="409.9,151.7 409.9,148.4 426.9,148.4 426.9,151.7" fill="none" stroke="#777" stroke-width="0.95"/>
<text x="418.4" y="149.4" font-size="9.4" font-weight="bold" text-anchor="middle" letter-spacing="0.3">**</text>
<line x1="461.6" y1="147.3" x2="461.6" y2="226" stroke="#5e5e5e" stroke-width="0.9"/>
<line x1="461.6" y1="226" x2="514.1" y2="226" stroke="#5e5e5e" stroke-width="0.9"/>
<line x1="458.6" y1="147.3" x2="461.6" y2="147.3" stroke="#5e5e5e" stroke-width="0.8"/>
<text transform="translate(455.7,150.16) scale(0.9434,1)" font-size="7.95" text-anchor="end" fill="#000">150</text>
<line x1="458.6" y1="172.1" x2="461.6" y2="172.1" stroke="#5e5e5e" stroke-width="0.8"/>
<text transform="translate(455.7,174.96) scale(0.9434,1)" font-size="7.95" text-anchor="end" fill="#000">100</text>
<line x1="458.6" y1="196.5" x2="461.6" y2="196.5" stroke="#5e5e5e" stroke-width="0.8"/>
<text transform="translate(455.7,199.36) scale(0.9434,1)" font-size="7.95" text-anchor="end" fill="#000">50</text>
<line x1="458.6" y1="221.3" x2="461.6" y2="221.3" stroke="#5e5e5e" stroke-width="0.8"/>
<text transform="translate(455.7,224.16) scale(0.9434,1)" font-size="7.95" text-anchor="end" fill="#000">0</text>
<line x1="475.2" y1="226" x2="475.2" y2="229.3" stroke="#444" stroke-width="0.85"/>
<text transform="translate(475.2,238.55) scale(0.9434,1)" font-size="7.63" text-anchor="middle" fill="#000">NR</text>
<line x1="502.3" y1="226" x2="502.3" y2="229.3" stroke="#444" stroke-width="0.85"/>
<text transform="translate(502.3,238.55) scale(0.9434,1)" font-size="7.63" text-anchor="middle" fill="#000">R</text>
<line x1="467.9" y1="216.2" x2="481.5" y2="218.6" stroke="#222" stroke-width="0.45"/>
<line x1="467.9" y1="217.8" x2="481.5" y2="220" stroke="#222" stroke-width="0.45"/>
<line x1="467.9" y1="220.2" x2="481.5" y2="219" stroke="#222" stroke-width="0.45"/>
<line x1="467.9" y1="221.4" x2="481.5" y2="221.4" stroke="#222" stroke-width="0.45"/>
<polygon points="467.9,214.51 466.34,217.23 469.46,217.23" fill="none" stroke="#000" stroke-width="0.55"/>
<circle cx="481.5" cy="218.6" r="1.7" fill="#fff" stroke="#000" stroke-width="0.55"/>
<polygon points="467.9,216.11 466.34,218.83 469.46,218.83" fill="none" stroke="#000" stroke-width="0.55"/>
<circle cx="481.5" cy="220" r="1.7" fill="#fff" stroke="#000" stroke-width="0.55"/>
<polygon points="467.9,218.51 466.34,221.23 469.46,221.23" fill="none" stroke="#000" stroke-width="0.55"/>
<circle cx="481.5" cy="219" r="1.7" fill="#fff" stroke="#000" stroke-width="0.55"/>
<polygon points="467.9,219.71 466.34,222.43 469.46,222.43" fill="none" stroke="#000" stroke-width="0.55"/>
<circle cx="481.5" cy="221.4" r="1.7" fill="#fff" stroke="#000" stroke-width="0.55"/>
<line x1="494.4" y1="201.2" x2="508.3" y2="220.5" stroke="#222" stroke-width="0.45"/>
<line x1="494.4" y1="217" x2="508.3" y2="156.8" stroke="#222" stroke-width="0.45"/>
<line x1="494.4" y1="218.2" x2="508.3" y2="181.5" stroke="#222" stroke-width="0.45"/>
<line x1="494.4" y1="219.3" x2="508.3" y2="198.9" stroke="#222" stroke-width="0.45"/>
<line x1="494.4" y1="220.2" x2="508.3" y2="212.6" stroke="#222" stroke-width="0.45"/>
<line x1="494.4" y1="221" x2="508.3" y2="217" stroke="#222" stroke-width="0.45"/>
<line x1="494.4" y1="221.4" x2="508.3" y2="218.2" stroke="#222" stroke-width="0.45"/>
<line x1="494.4" y1="221.6" x2="508.3" y2="219.3" stroke="#222" stroke-width="0.45"/>
<line x1="494.4" y1="221.8" x2="508.3" y2="220.2" stroke="#222" stroke-width="0.45"/>
<line x1="494.4" y1="222" x2="508.3" y2="221" stroke="#222" stroke-width="0.45"/>
<polygon points="494.4,199.4 492.73,202.3 496.07,202.3" fill="#e8232b" stroke="#e8232b" stroke-width="0.3"/>
<circle cx="508.3" cy="220.5" r="1.7" fill="#e8232b" stroke="#e8232b" stroke-width="0.3"/>
<polygon points="494.4,215.2 492.73,218.1 496.07,218.1" fill="#e8232b" stroke="#e8232b" stroke-width="0.3"/>
<circle cx="508.3" cy="156.8" r="1.7" fill="#e8232b" stroke="#e8232b" stroke-width="0.3"/>
<polygon points="494.4,216.4 492.73,219.3 496.07,219.3" fill="#e8232b" stroke="#e8232b" stroke-width="0.3"/>
<circle cx="508.3" cy="181.5" r="1.7" fill="#e8232b" stroke="#e8232b" stroke-width="0.3"/>
<polygon points="494.4,217.5 492.73,220.4 496.07,220.4" fill="#e8232b" stroke="#e8232b" stroke-width="0.3"/>
<circle cx="508.3" cy="198.9" r="1.7" fill="#e8232b" stroke="#e8232b" stroke-width="0.3"/>
<polygon points="494.4,218.4 492.73,221.3 496.07,221.3" fill="#e8232b" stroke="#e8232b" stroke-width="0.3"/>
<circle cx="508.3" cy="212.6" r="1.7" fill="#e8232b" stroke="#e8232b" stroke-width="0.3"/>
<polygon points="494.4,219.2 492.73,222.1 496.07,222.1" fill="#e8232b" stroke="#e8232b" stroke-width="0.3"/>
<circle cx="508.3" cy="217" r="1.7" fill="#e8232b" stroke="#e8232b" stroke-width="0.3"/>
<polygon points="494.4,219.6 492.73,222.5 496.07,222.5" fill="#e8232b" stroke="#e8232b" stroke-width="0.3"/>
<circle cx="508.3" cy="218.2" r="1.7" fill="#e8232b" stroke="#e8232b" stroke-width="0.3"/>
<polygon points="494.4,219.8 492.73,222.7 496.07,222.7" fill="#e8232b" stroke="#e8232b" stroke-width="0.3"/>
<circle cx="508.3" cy="219.3" r="1.7" fill="#e8232b" stroke="#e8232b" stroke-width="0.3"/>
<polygon points="494.4,220 492.73,222.9 496.07,222.9" fill="#e8232b" stroke="#e8232b" stroke-width="0.3"/>
<circle cx="508.3" cy="220.2" r="1.7" fill="#e8232b" stroke="#e8232b" stroke-width="0.3"/>
<polygon points="494.4,220.2 492.73,223.1 496.07,223.1" fill="#e8232b" stroke="#e8232b" stroke-width="0.3"/>
<circle cx="508.3" cy="221" r="1.7" fill="#e8232b" stroke="#e8232b" stroke-width="0.3"/>
<polyline points="492.4,150.8 492.4,147.3 508.3,147.3 508.3,150.8" fill="none" stroke="#777" stroke-width="0.95"/>
<text x="500.35" y="148.3" font-size="9.4" font-weight="bold" text-anchor="middle" letter-spacing="0.3">*</text>
<line x1="413.5" y1="246.6" x2="423.5" y2="246.6" stroke="#000" stroke-width="0.8"/>
<polygon points="418.5,244.77 416.8,247.72 420.2,247.72" fill="#000" stroke="#000" stroke-width="0.3"/>
<text transform="translate(427.8,249.35) scale(0.9434,1)" font-size="7.63" text-anchor="start" fill="#000">Untreated</text>
<line x1="471.6" y1="246.6" x2="482" y2="246.6" stroke="#000" stroke-width="0.8"/>
<circle cx="476.8" cy="246.6" r="1.9" fill="#000" stroke="#000" stroke-width="0.3"/>
<text transform="translate(485,249.35) scale(0.9434,1)" font-size="7.63" text-anchor="start" fill="#000">CD8–IL2</text>
<text transform="translate(61.3,316.55) scale(0.9434,1)" font-size="7.63" text-anchor="middle" fill="#000"><tspan font-style="italic">Ex vivo</tspan> response</text>
<text transform="translate(10.3,368.8) rotate(-90) scale(0.9434,1)" x="0" y="2.75" font-size="7.63" text-anchor="middle" fill="#000">Cumulative score</text>
<line x1="33.8" y1="333.7" x2="33.8" y2="420.2" stroke="#5e5e5e" stroke-width="0.9"/>
<line x1="33.8" y1="420.2" x2="92" y2="420.2" stroke="#5e5e5e" stroke-width="0.9"/>
<line x1="30.8" y1="333.7" x2="33.8" y2="333.7" stroke="#5e5e5e" stroke-width="0.8"/>
<text transform="translate(27.9,336.56) scale(0.9434,1)" font-size="7.95" text-anchor="end" fill="#000">30</text>
<line x1="30.8" y1="351.3" x2="33.8" y2="351.3" stroke="#5e5e5e" stroke-width="0.8"/>
<text transform="translate(27.9,354.16) scale(0.9434,1)" font-size="7.95" text-anchor="end" fill="#000">20</text>
<line x1="30.8" y1="369.1" x2="33.8" y2="369.1" stroke="#5e5e5e" stroke-width="0.8"/>
<text transform="translate(27.9,371.96) scale(0.9434,1)" font-size="7.95" text-anchor="end" fill="#000">10</text>
<line x1="30.8" y1="386.6" x2="33.8" y2="386.6" stroke="#5e5e5e" stroke-width="0.8"/>
<text transform="translate(27.9,389.46) scale(0.9434,1)" font-size="7.95" text-anchor="end" fill="#000">0</text>
<line x1="30.8" y1="404.4" x2="33.8" y2="404.4" stroke="#5e5e5e" stroke-width="0.8"/>
<text transform="translate(27.9,407.26) scale(0.9434,1)" font-size="7.95" text-anchor="end" fill="#000">−10</text>
<line x1="49.3" y1="420.2" x2="49.3" y2="423.5" stroke="#444" stroke-width="0.85"/>
<text transform="translate(49.3,431.95) scale(0.9434,1)" font-size="7.63" text-anchor="middle" fill="#000">NR</text>
<line x1="75.4" y1="420.2" x2="75.4" y2="423.5" stroke="#444" stroke-width="0.85"/>
<text transform="translate(75.4,431.95) scale(0.9434,1)" font-size="7.63" text-anchor="middle" fill="#000">R</text>
<line x1="34.5" y1="386.6" x2="93" y2="386.6" stroke="#555" stroke-width="0.7" stroke-dasharray="0.8,1.6"/>
<polygon points="43.3,387.85 45.65,390.2 43.3,392.55 40.95,390.2" fill="#fff" stroke="#000" stroke-width="0.55"/>
<polygon points="49.3,390.05 51.65,392.4 49.3,394.75 46.95,392.4" fill="#fff" stroke="#000" stroke-width="0.55"/>
<polygon points="52.6,390.05 54.95,392.4 52.6,394.75 50.25,392.4" fill="#fff" stroke="#000" stroke-width="0.55"/>
<polygon points="56,386.35 58.35,388.7 56,391.05 53.65,388.7" fill="#fff" stroke="#000" stroke-width="0.55"/>
<polygon points="46.6,395.05 48.95,397.4 46.6,399.75 44.25,397.4" fill="#fff" stroke="#000" stroke-width="0.55"/>
<polygon points="49.6,395.85 51.95,398.2 49.6,400.55 47.25,398.2" fill="#fff" stroke="#000" stroke-width="0.55"/>
<polygon points="52.6,395.85 54.95,398.2 52.6,400.55 50.25,398.2" fill="#fff" stroke="#000" stroke-width="0.55"/>
<polygon points="55.5,392.55 57.85,394.9 55.5,397.25 53.15,394.9" fill="#fff" stroke="#000" stroke-width="0.55"/>
<polygon points="43.3,393.35 45.65,395.7 43.3,398.05 40.95,395.7" fill="#fff" stroke="#000" stroke-width="0.55"/>
<polygon points="49.3,411.65 51.65,414 49.3,416.35 46.95,414" fill="#fff" stroke="#000" stroke-width="0.55"/>
<line x1="41.3" y1="395.7" x2="58" y2="395.7" stroke="#000" stroke-width="1.2"/>
<polygon points="72.6,350.15 74.95,352.5 72.6,354.85 70.25,352.5" fill="#e8232b" stroke="#e8232b" stroke-width="0.3"/>
<polygon points="77.1,352.25 79.45,354.6 77.1,356.95 74.75,354.6" fill="#e8232b" stroke="#e8232b" stroke-width="0.3"/>
<polygon points="81.2,347.95 83.55,350.3 81.2,352.65 78.85,350.3" fill="#e8232b" stroke="#e8232b" stroke-width="0.3"/>
<polygon points="72.6,355.95 74.95,358.3 72.6,360.65 70.25,358.3" fill="#e8232b" stroke="#e8232b" stroke-width="0.3"/>
<polygon points="77.1,367.95 79.45,370.3 77.1,372.65 74.75,370.3" fill="#e8232b" stroke="#e8232b" stroke-width="0.3"/>
<polygon points="68.8,373.35 71.15,375.7 68.8,378.05 66.45,375.7" fill="#e8232b" stroke="#e8232b" stroke-width="0.3"/>
<polygon points="72.9,372.55 75.25,374.9 72.9,377.25 70.55,374.9" fill="#e8232b" stroke="#e8232b" stroke-width="0.3"/>
<polygon points="81.2,372.85 83.55,375.2 81.2,377.55 78.85,375.2" fill="#e8232b" stroke="#e8232b" stroke-width="0.3"/>
<polygon points="69.3,378.35 71.65,380.7 69.3,383.05 66.95,380.7" fill="#e8232b" stroke="#e8232b" stroke-width="0.3"/>
<polygon points="76.8,380.85 79.15,383.2 76.8,385.55 74.45,383.2" fill="#e8232b" stroke="#e8232b" stroke-width="0.3"/>
<polygon points="81.2,380.85 83.55,383.2 81.2,385.55 78.85,383.2" fill="#e8232b" stroke="#e8232b" stroke-width="0.3"/>
<polygon points="69.3,383.75 71.65,386.1 69.3,388.45 66.95,386.1" fill="#e8232b" stroke="#e8232b" stroke-width="0.3"/>
<polygon points="68.8,367.95 71.15,370.3 68.8,372.65 66.45,370.3" fill="#e8232b" stroke="#e8232b" stroke-width="0.3"/>
<line x1="66.6" y1="370.3" x2="82.9" y2="370.3" stroke="#000" stroke-width="1.2"/>
<polyline points="49.3,338.9 49.3,335.3 75.4,335.3 75.4,338.9" fill="none" stroke="#777" stroke-width="0.95"/>
<text x="62.35" y="336.3" font-size="9.4" font-weight="bold" text-anchor="middle" letter-spacing="0.3">****</text>
<text transform="translate(152,375) rotate(-90) scale(0.9434,1)" x="0" y="2.75" font-size="7.63" text-anchor="middle" fill="#000">% of CD8<tspan baseline-shift="2.3" font-size="5.0">+</tspan> T cells</text>
<text transform="translate(201.2,317.75) scale(0.9434,1)" font-size="7.63" text-anchor="middle" fill="#000">PD-1<tspan baseline-shift="2.3" font-size="5.0">+</tspan>CD39<tspan baseline-shift="2.3" font-size="5.0">+</tspan>CD103<tspan baseline-shift="2.3" font-size="5.0">+</tspan></text>
<text transform="translate(286.2,317.55) scale(0.9434,1)" font-size="7.63" text-anchor="middle" fill="#000">CXCL13<tspan baseline-shift="2.3" font-size="5.0">+</tspan></text>
<text transform="translate(370.8,317.55) scale(0.9434,1)" font-size="7.63" text-anchor="middle" fill="#000">PD-1<tspan baseline-shift="2.3" font-size="5.0">+</tspan>IL7R<tspan baseline-shift="2.3" font-size="5.0">+</tspan></text>
<text transform="translate(474.5,314.15) scale(0.9434,1)" font-size="7.63" text-anchor="middle" fill="#000">Ratio dysfunctional/</text>
<text transform="translate(474.5,322.15) scale(0.9434,1)" font-size="7.63" text-anchor="middle" fill="#000">memory T cells</text>
<text transform="translate(417.2,381.3) rotate(-90) scale(0.9434,1)" x="0" y="2.65" font-size="7.37" text-anchor="middle" fill="#000">Ratio PD-1<tspan baseline-shift="2.3" font-size="5.0">+</tspan>CD39<tspan baseline-shift="2.3" font-size="5.0">+</tspan>CD103<tspan baseline-shift="2.3" font-size="5.0">+</tspan>/</text>
<text transform="translate(425.5,380.6) rotate(-90) scale(0.9434,1)" x="0" y="2.65" font-size="7.37" text-anchor="middle" fill="#000">PD-1<tspan baseline-shift="2.3" font-size="5.0">+</tspan>IL7R<tspan baseline-shift="2.3" font-size="5.0">+</tspan></text>
<line x1="174.7" y1="334.7" x2="174.7" y2="420.2" stroke="#5e5e5e" stroke-width="0.9"/>
<line x1="174.7" y1="420.2" x2="231.2" y2="420.2" stroke="#5e5e5e" stroke-width="0.9"/>
<line x1="171.7" y1="334.7" x2="174.7" y2="334.7" stroke="#5e5e5e" stroke-width="0.8"/>
<text transform="translate(168.8,337.56) scale(0.9434,1)" font-size="7.95" text-anchor="end" fill="#000">80</text>
<line x1="171.7" y1="354.6" x2="174.7" y2="354.6" stroke="#5e5e5e" stroke-width="0.8"/>
<text transform="translate(168.8,357.46) scale(0.9434,1)" font-size="7.95" text-anchor="end" fill="#000">60</text>
<line x1="171.7" y1="374.6" x2="174.7" y2="374.6" stroke="#5e5e5e" stroke-width="0.8"/>
<text transform="translate(168.8,377.46) scale(0.9434,1)" font-size="7.95" text-anchor="end" fill="#000">40</text>
<line x1="171.7" y1="394.9" x2="174.7" y2="394.9" stroke="#5e5e5e" stroke-width="0.8"/>
<text transform="translate(168.8,397.76) scale(0.9434,1)" font-size="7.95" text-anchor="end" fill="#000">20</text>
<line x1="171.7" y1="414.9" x2="174.7" y2="414.9" stroke="#5e5e5e" stroke-width="0.8"/>
<text transform="translate(168.8,417.76) scale(0.9434,1)" font-size="7.95" text-anchor="end" fill="#000">0</text>
<line x1="190.5" y1="420.2" x2="190.5" y2="423.5" stroke="#444" stroke-width="0.85"/>
<line x1="214.9" y1="420.2" x2="214.9" y2="423.5" stroke="#444" stroke-width="0.85"/>
<polygon points="190.5,369.1 192.7,371.3 190.5,373.5 188.3,371.3" fill="#fff" stroke="#000" stroke-width="0.55"/>
<polygon points="187.1,386.9 189.3,389.1 187.1,391.3 184.9,389.1" fill="#fff" stroke="#000" stroke-width="0.55"/>
<polygon points="193.8,385.2 196,387.4 193.8,389.6 191.6,387.4" fill="#fff" stroke="#000" stroke-width="0.55"/>
<polygon points="190.5,393.5 192.7,395.7 190.5,397.9 188.3,395.7" fill="#fff" stroke="#000" stroke-width="0.55"/>
<polygon points="190.5,400.5 192.7,402.7 190.5,404.9 188.3,402.7" fill="#fff" stroke="#000" stroke-width="0.55"/>
<polygon points="190.5,408.5 192.7,410.7 190.5,412.9 188.3,410.7" fill="#fff" stroke="#000" stroke-width="0.55"/>
<circle cx="183.8" cy="409.9" r="1.75" fill="#fff" stroke="#000" stroke-width="0.55"/>
<circle cx="183.8" cy="414.9" r="1.75" fill="#fff" stroke="#000" stroke-width="0.55"/>
<circle cx="197.1" cy="409.9" r="1.75" fill="#fff" stroke="#000" stroke-width="0.55"/>
<circle cx="197.1" cy="414" r="1.75" fill="#fff" stroke="#000" stroke-width="0.55"/>
<line x1="182.1" y1="400.4" x2="198.8" y2="400.4" stroke="#555" stroke-width="0.8"/>
<circle cx="208.4" cy="356.3" r="1.75" fill="#000" stroke="#000" stroke-width="0.3"/>
<circle cx="214.9" cy="359.1" r="1.75" fill="#000" stroke="#000" stroke-width="0.3"/>
<circle cx="221.2" cy="357.8" r="1.75" fill="#000" stroke="#000" stroke-width="0.3"/>
<circle cx="211.6" cy="367.9" r="1.75" fill="#000" stroke="#000" stroke-width="0.3"/>
<circle cx="218.2" cy="367.9" r="1.75" fill="#000" stroke="#000" stroke-width="0.3"/>
<circle cx="214.9" cy="384.6" r="1.75" fill="#000" stroke="#000" stroke-width="0.3"/>
<circle cx="214.9" cy="388.6" r="1.75" fill="#000" stroke="#000" stroke-width="0.3"/>
<circle cx="214.9" cy="393.7" r="1.75" fill="#000" stroke="#000" stroke-width="0.3"/>
<circle cx="208.8" cy="404" r="1.75" fill="#000" stroke="#000" stroke-width="0.3"/>
<circle cx="214.9" cy="401.9" r="1.75" fill="#000" stroke="#000" stroke-width="0.3"/>
<circle cx="221.2" cy="404.5" r="1.75" fill="#000" stroke="#000" stroke-width="0.3"/>
<circle cx="214.9" cy="406.5" r="1.75" fill="#000" stroke="#000" stroke-width="0.3"/>
<circle cx="214.9" cy="411.9" r="1.75" fill="#000" stroke="#000" stroke-width="0.3"/>
<line x1="207.1" y1="384.9" x2="222.9" y2="384.9" stroke="#555" stroke-width="0.8"/>
<polyline points="190.5,339.5 190.5,334.7 214.9,334.7 214.9,339.5" fill="none" stroke="#777" stroke-width="0.95"/>
<text x="202.7" y="335.7" font-size="9.4" font-weight="bold" text-anchor="middle" letter-spacing="0.3">*</text>
<line x1="259.3" y1="334.7" x2="259.3" y2="420.2" stroke="#5e5e5e" stroke-width="0.9"/>
<line x1="259.3" y1="420.2" x2="315.9" y2="420.2" stroke="#5e5e5e" stroke-width="0.9"/>
<line x1="256.3" y1="334.7" x2="259.3" y2="334.7" stroke="#5e5e5e" stroke-width="0.8"/>
<text transform="translate(253.4,337.56) scale(0.9434,1)" font-size="7.95" text-anchor="end" fill="#000">30</text>
<line x1="256.3" y1="361.3" x2="259.3" y2="361.3" stroke="#5e5e5e" stroke-width="0.8"/>
<text transform="translate(253.4,364.16) scale(0.9434,1)" font-size="7.95" text-anchor="end" fill="#000">20</text>
<line x1="256.3" y1="387.9" x2="259.3" y2="387.9" stroke="#5e5e5e" stroke-width="0.8"/>
<text transform="translate(253.4,390.76) scale(0.9434,1)" font-size="7.95" text-anchor="end" fill="#000">10</text>
<line x1="256.3" y1="414.9" x2="259.3" y2="414.9" stroke="#5e5e5e" stroke-width="0.8"/>
<text transform="translate(253.4,417.76) scale(0.9434,1)" font-size="7.95" text-anchor="end" fill="#000">0</text>
<line x1="274.6" y1="420.2" x2="274.6" y2="423.5" stroke="#444" stroke-width="0.85"/>
<line x1="299.6" y1="420.2" x2="299.6" y2="423.5" stroke="#444" stroke-width="0.85"/>
<circle cx="274.6" cy="349.6" r="1.75" fill="#fff" stroke="#000" stroke-width="0.55"/>
<circle cx="273.8" cy="404" r="1.75" fill="#fff" stroke="#000" stroke-width="0.55"/>
<circle cx="276.3" cy="405.7" r="1.75" fill="#fff" stroke="#000" stroke-width="0.55"/>
<circle cx="268.8" cy="413.2" r="1.75" fill="#fff" stroke="#000" stroke-width="0.55"/>
<circle cx="271.3" cy="411.9" r="1.75" fill="#fff" stroke="#000" stroke-width="0.55"/>
<circle cx="274.3" cy="413.5" r="1.75" fill="#fff" stroke="#000" stroke-width="0.55"/>
<circle cx="277.1" cy="414.9" r="1.75" fill="#fff" stroke="#000" stroke-width="0.55"/>
<circle cx="279.6" cy="413.2" r="1.75" fill="#fff" stroke="#000" stroke-width="0.55"/>
<circle cx="281.6" cy="414.4" r="1.75" fill="#fff" stroke="#000" stroke-width="0.55"/>
<line x1="267.1" y1="405.4" x2="283" y2="405.4" stroke="#555" stroke-width="0.8"/>
<circle cx="299.6" cy="351.3" r="1.75" fill="#000" stroke="#000" stroke-width="0.3"/>
<circle cx="299.6" cy="380.2" r="1.75" fill="#000" stroke="#000" stroke-width="0.3"/>
<circle cx="299.6" cy="389.1" r="1.75" fill="#000" stroke="#000" stroke-width="0.3"/>
<circle cx="299.6" cy="394.6" r="1.75" fill="#000" stroke="#000" stroke-width="0.3"/>
<circle cx="299.6" cy="399" r="1.75" fill="#000" stroke="#000" stroke-width="0.3"/>
<circle cx="292.9" cy="403.2" r="1.75" fill="#000" stroke="#000" stroke-width="0.3"/>
<circle cx="296.6" cy="405.7" r="1.75" fill="#000" stroke="#000" stroke-width="0.3"/>
<circle cx="292.9" cy="407.4" r="1.75" fill="#000" stroke="#000" stroke-width="0.3"/>
<circle cx="296.6" cy="409" r="1.75" fill="#000" stroke="#000" stroke-width="0.3"/>
<circle cx="302.9" cy="409.9" r="1.75" fill="#000" stroke="#000" stroke-width="0.3"/>
<circle cx="306.2" cy="407.4" r="1.75" fill="#000" stroke="#000" stroke-width="0.3"/>
<circle cx="299.6" cy="407.4" r="1.75" fill="#000" stroke="#000" stroke-width="0.3"/>
<circle cx="299.6" cy="413.5" r="1.75" fill="#000" stroke="#000" stroke-width="0.3"/>
<line x1="291.3" y1="398.2" x2="307.9" y2="398.2" stroke="#555" stroke-width="0.8"/>
<polyline points="274.6,339.9 274.6,335.3 299.6,335.3 299.6,339.9" fill="none" stroke="#777" stroke-width="0.95"/>
<text x="287.1" y="336.3" font-size="9.4" font-weight="bold" text-anchor="middle" letter-spacing="0.3">*</text>
<line x1="342" y1="334.7" x2="342" y2="420.2" stroke="#5e5e5e" stroke-width="0.9"/>
<line x1="342" y1="420.2" x2="399.6" y2="420.2" stroke="#5e5e5e" stroke-width="0.9"/>
<line x1="339" y1="334.7" x2="342" y2="334.7" stroke="#5e5e5e" stroke-width="0.8"/>
<text transform="translate(336.1,337.56) scale(0.9434,1)" font-size="7.95" text-anchor="end" fill="#000">40</text>
<line x1="339" y1="355.8" x2="342" y2="355.8" stroke="#5e5e5e" stroke-width="0.8"/>
<text transform="translate(336.1,358.66) scale(0.9434,1)" font-size="7.95" text-anchor="end" fill="#000">30</text>
<line x1="339" y1="377.4" x2="342" y2="377.4" stroke="#5e5e5e" stroke-width="0.8"/>
<text transform="translate(336.1,380.26) scale(0.9434,1)" font-size="7.95" text-anchor="end" fill="#000">20</text>
<line x1="339" y1="398.5" x2="342" y2="398.5" stroke="#5e5e5e" stroke-width="0.8"/>
<text transform="translate(336.1,401.36) scale(0.9434,1)" font-size="7.95" text-anchor="end" fill="#000">10</text>
<line x1="339" y1="420.2" x2="342" y2="420.2" stroke="#5e5e5e" stroke-width="0.8"/>
<text transform="translate(336.1,423.06) scale(0.9434,1)" font-size="7.95" text-anchor="end" fill="#000">0</text>
<line x1="359.1" y1="420.2" x2="359.1" y2="423.5" stroke="#444" stroke-width="0.85"/>
<line x1="383.6" y1="420.2" x2="383.6" y2="423.5" stroke="#444" stroke-width="0.85"/>
<circle cx="359.1" cy="353.3" r="1.75" fill="#fff" stroke="#000" stroke-width="0.55"/>
<circle cx="359.1" cy="375.7" r="1.75" fill="#fff" stroke="#000" stroke-width="0.55"/>
<circle cx="359.1" cy="381.1" r="1.75" fill="#fff" stroke="#000" stroke-width="0.55"/>
<circle cx="355.8" cy="386.2" r="1.75" fill="#fff" stroke="#000" stroke-width="0.55"/>
<circle cx="363" cy="384.6" r="1.75" fill="#fff" stroke="#000" stroke-width="0.55"/>
<circle cx="355.8" cy="390.7" r="1.75" fill="#fff" stroke="#000" stroke-width="0.55"/>
<circle cx="363" cy="389.6" r="1.75" fill="#fff" stroke="#000" stroke-width="0.55"/>
<circle cx="355.8" cy="399" r="1.75" fill="#fff" stroke="#000" stroke-width="0.55"/>
<circle cx="363" cy="401.9" r="1.75" fill="#fff" stroke="#000" stroke-width="0.55"/>
<circle cx="355.8" cy="404.9" r="1.75" fill="#fff" stroke="#000" stroke-width="0.55"/>
<line x1="350.8" y1="386.9" x2="367.4" y2="386.9" stroke="#555" stroke-width="0.8"/>
<circle cx="383.6" cy="360.3" r="1.75" fill="#000" stroke="#000" stroke-width="0.3"/>
<circle cx="383.6" cy="372.4" r="1.75" fill="#000" stroke="#000" stroke-width="0.3"/>
<circle cx="383.6" cy="378.6" r="1.75" fill="#000" stroke="#000" stroke-width="0.3"/>
<circle cx="383.6" cy="385.7" r="1.75" fill="#000" stroke="#000" stroke-width="0.3"/>
<circle cx="383.6" cy="392.1" r="1.75" fill="#000" stroke="#000" stroke-width="0.3"/>
<circle cx="380.3" cy="402.9" r="1.75" fill="#000" stroke="#000" stroke-width="0.3"/>
<circle cx="386.9" cy="401.9" r="1.75" fill="#000" stroke="#000" stroke-width="0.3"/>
<circle cx="377.4" cy="408.5" r="1.75" fill="#000" stroke="#000" stroke-width="0.3"/>
<circle cx="390.2" cy="410.7" r="1.75" fill="#000" stroke="#000" stroke-width="0.3"/>
<circle cx="377.4" cy="412.9" r="1.75" fill="#000" stroke="#000" stroke-width="0.3"/>
<circle cx="383.6" cy="414.9" r="1.75" fill="#000" stroke="#000" stroke-width="0.3"/>
<circle cx="390.2" cy="416.2" r="1.75" fill="#000" stroke="#000" stroke-width="0.3"/>
<circle cx="377.4" cy="417.3" r="1.75" fill="#000" stroke="#000" stroke-width="0.3"/>
<line x1="375.8" y1="397.9" x2="392.4" y2="397.9" stroke="#555" stroke-width="0.8"/>
<polyline points="359.1,339.9 359.1,335.3 383.6,335.3 383.6,339.9" fill="none" stroke="#777" stroke-width="0.95"/>
<text transform="translate(371.35,334.37) scale(0.9434,1)" font-size="7.42" text-anchor="middle" fill="#000">ns</text>
<line x1="446.7" y1="335" x2="446.7" y2="420.2" stroke="#5e5e5e" stroke-width="0.9"/>
<line x1="446.7" y1="420.2" x2="503.6" y2="420.2" stroke="#5e5e5e" stroke-width="0.9"/>
<line x1="443.7" y1="350.8" x2="446.7" y2="350.8" stroke="#5e5e5e" stroke-width="0.8"/>
<text transform="translate(440.8,353.66) scale(0.9434,1)" font-size="7.95" text-anchor="end" fill="#000">20</text>
<line x1="443.7" y1="383.7" x2="446.7" y2="383.7" stroke="#5e5e5e" stroke-width="0.8"/>
<text transform="translate(440.8,386.56) scale(0.9434,1)" font-size="7.95" text-anchor="end" fill="#000">10</text>
<line x1="443.7" y1="416.5" x2="446.7" y2="416.5" stroke="#5e5e5e" stroke-width="0.8"/>
<text transform="translate(440.8,419.36) scale(0.9434,1)" font-size="7.95" text-anchor="end" fill="#000">0</text>
<line x1="462.5" y1="420.2" x2="462.5" y2="423.5" stroke="#444" stroke-width="0.85"/>
<line x1="486.9" y1="420.2" x2="486.9" y2="423.5" stroke="#444" stroke-width="0.85"/>
<polygon points="462.5,403 464.7,405.2 462.5,407.4 460.3,405.2" fill="#fff" stroke="#000" stroke-width="0.55"/>
<polygon points="460.3,405.7 462.5,407.9 460.3,410.1 458.1,407.9" fill="#fff" stroke="#000" stroke-width="0.55"/>
<polygon points="462.5,408.5 464.7,410.7 462.5,412.9 460.3,410.7" fill="#fff" stroke="#000" stroke-width="0.55"/>
<circle cx="455.8" cy="416" r="1.75" fill="#fff" stroke="#000" stroke-width="0.55"/>
<circle cx="458.6" cy="415.2" r="1.75" fill="#fff" stroke="#000" stroke-width="0.55"/>
<circle cx="461.3" cy="415.7" r="1.75" fill="#fff" stroke="#000" stroke-width="0.55"/>
<circle cx="464.6" cy="416" r="1.75" fill="#fff" stroke="#000" stroke-width="0.55"/>
<circle cx="467.5" cy="415.2" r="1.75" fill="#fff" stroke="#000" stroke-width="0.55"/>
<circle cx="469.1" cy="416.3" r="1.75" fill="#fff" stroke="#000" stroke-width="0.55"/>
<line x1="454.1" y1="413.2" x2="470.8" y2="413.2" stroke="#555" stroke-width="0.8"/>
<circle cx="487.4" cy="340.3" r="1.75" fill="#000" stroke="#000" stroke-width="0.3"/>
<circle cx="487.4" cy="344.6" r="1.75" fill="#000" stroke="#000" stroke-width="0.3"/>
<circle cx="480.8" cy="391.2" r="1.75" fill="#000" stroke="#000" stroke-width="0.3"/>
<circle cx="487.4" cy="394.6" r="1.75" fill="#000" stroke="#000" stroke-width="0.3"/>
<circle cx="487.4" cy="399" r="1.75" fill="#000" stroke="#000" stroke-width="0.3"/>
<circle cx="487.4" cy="403.2" r="1.75" fill="#000" stroke="#000" stroke-width="0.3"/>
<circle cx="487.4" cy="407.4" r="1.75" fill="#000" stroke="#000" stroke-width="0.3"/>
<circle cx="480.8" cy="408.2" r="1.75" fill="#000" stroke="#000" stroke-width="0.3"/>
<circle cx="493.2" cy="409.9" r="1.75" fill="#000" stroke="#000" stroke-width="0.3"/>
<circle cx="480.8" cy="412.7" r="1.75" fill="#000" stroke="#000" stroke-width="0.3"/>
<circle cx="487.4" cy="414" r="1.75" fill="#000" stroke="#000" stroke-width="0.3"/>
<circle cx="480.8" cy="416.2" r="1.75" fill="#000" stroke="#000" stroke-width="0.3"/>
<circle cx="493.2" cy="415.4" r="1.75" fill="#000" stroke="#000" stroke-width="0.3"/>
<line x1="479.1" y1="396.5" x2="494.9" y2="396.5" stroke="#555" stroke-width="0.8"/>
<polyline points="462.5,336.3 462.5,331.7 486.9,331.7 486.9,336.3" fill="none" stroke="#777" stroke-width="0.95"/>
<text x="474.7" y="332.7" font-size="9.4" font-weight="bold" text-anchor="middle" letter-spacing="0.3">**</text>
<circle cx="361.4" cy="435.8" r="1.5" fill="#fff" stroke="#000" stroke-width="0.55"/>
<text transform="translate(365.4,438.55) scale(0.9434,1)" font-size="7.63" text-anchor="start" fill="#000"><tspan font-style="italic">Ex vivo</tspan> CD8–IL2 NR</text>
<circle cx="442.2" cy="435.8" r="1.5" fill="#000" stroke="#000" stroke-width="0.3"/>
<text transform="translate(446.4,438.55) scale(0.9434,1)" font-size="7.63" text-anchor="start" fill="#000"><tspan font-style="italic">Ex vivo</tspan> CD8–IL2 R</text>
<line x1="25.4" y1="483.8" x2="439.4" y2="483.8" stroke="#333" stroke-width="0.8"/>
<text transform="translate(232.8,479.35) scale(0.9434,1)" font-size="7.63" text-anchor="middle" fill="#000">T cell activation</text>
<text transform="translate(76.2,494.05) scale(0.9434,1)" font-size="7.63" text-anchor="middle" fill="#000">Granzyme B</text>
<text transform="translate(186,495.75) scale(0.9434,1)" font-size="7.63" text-anchor="middle" fill="#000">Ki67</text>
<text transform="translate(298.7,495.75) scale(0.9434,1)" font-size="7.63" text-anchor="middle" fill="#000">PD-1</text>
<text transform="translate(403.7,495.75) scale(0.9434,1)" font-size="7.63" text-anchor="middle" fill="#000">CD137</text>
<text transform="translate(10.8,546) rotate(-90) scale(0.9434,1)" x="0" y="2.75" font-size="7.63" text-anchor="middle" fill="#000">% of CD8<tspan baseline-shift="2.3" font-size="5.0">+</tspan> T cells</text>
<line x1="37.4" y1="503.9" x2="37.4" y2="589.3" stroke="#5e5e5e" stroke-width="0.9"/>
<line x1="37.4" y1="589.3" x2="118.6" y2="589.3" stroke="#5e5e5e" stroke-width="0.9"/>
<line x1="34.4" y1="503.9" x2="37.4" y2="503.9" stroke="#5e5e5e" stroke-width="0.8"/>
<text transform="translate(31.5,506.76) scale(0.9434,1)" font-size="7.95" text-anchor="end" fill="#000">100</text>
<line x1="34.4" y1="520.3" x2="37.4" y2="520.3" stroke="#5e5e5e" stroke-width="0.8"/>
<text transform="translate(31.5,523.16) scale(0.9434,1)" font-size="7.95" text-anchor="end" fill="#000">80</text>
<line x1="34.4" y1="536.8" x2="37.4" y2="536.8" stroke="#5e5e5e" stroke-width="0.8"/>
<text transform="translate(31.5,539.66) scale(0.9434,1)" font-size="7.95" text-anchor="end" fill="#000">60</text>
<line x1="34.4" y1="552.8" x2="37.4" y2="552.8" stroke="#5e5e5e" stroke-width="0.8"/>
<text transform="translate(31.5,555.66) scale(0.9434,1)" font-size="7.95" text-anchor="end" fill="#000">40</text>
<line x1="34.4" y1="569.7" x2="37.4" y2="569.7" stroke="#5e5e5e" stroke-width="0.8"/>
<text transform="translate(31.5,572.56) scale(0.9434,1)" font-size="7.95" text-anchor="end" fill="#000">20</text>
<line x1="34.4" y1="586.2" x2="37.4" y2="586.2" stroke="#5e5e5e" stroke-width="0.8"/>
<text transform="translate(31.5,589.06) scale(0.9434,1)" font-size="7.95" text-anchor="end" fill="#000">0</text>
<line x1="57.8" y1="589.3" x2="57.8" y2="592.6" stroke="#444" stroke-width="0.85"/>
<text transform="translate(57.8,601.75) scale(0.9434,1)" font-size="7.63" text-anchor="middle" fill="#000">NR</text>
<line x1="99.1" y1="589.3" x2="99.1" y2="592.6" stroke="#444" stroke-width="0.85"/>
<text transform="translate(99.1,601.75) scale(0.9434,1)" font-size="7.63" text-anchor="middle" fill="#000">R</text>
<line x1="47.8" y1="541.6" x2="67.9" y2="518.1" stroke="#222" stroke-width="0.45"/>
<line x1="47.8" y1="547.5" x2="67.9" y2="525.2" stroke="#222" stroke-width="0.45"/>
<line x1="47.8" y1="549.3" x2="67.9" y2="526.7" stroke="#222" stroke-width="0.45"/>
<line x1="47.8" y1="551" x2="67.9" y2="536.8" stroke="#222" stroke-width="0.45"/>
<line x1="47.8" y1="555.5" x2="67.9" y2="542.7" stroke="#222" stroke-width="0.45"/>
<line x1="47.8" y1="556.9" x2="67.9" y2="544.5" stroke="#222" stroke-width="0.45"/>
<line x1="47.8" y1="562.6" x2="67.9" y2="551" stroke="#222" stroke-width="0.45"/>
<line x1="47.8" y1="564.4" x2="67.9" y2="562.6" stroke="#222" stroke-width="0.45"/>
<line x1="47.8" y1="566.2" x2="67.9" y2="544.5" stroke="#222" stroke-width="0.45"/>
<line x1="47.8" y1="571.9" x2="67.9" y2="551" stroke="#222" stroke-width="0.45"/>
<polygon points="47.8,539.32 45.68,543 49.92,543" fill="none" stroke="#000" stroke-width="0.55"/>
<circle cx="67.9" cy="518.1" r="2.3" fill="#fff" stroke="#000" stroke-width="0.55"/>
<polygon points="47.8,545.22 45.68,548.9 49.92,548.9" fill="none" stroke="#000" stroke-width="0.55"/>
<circle cx="67.9" cy="525.2" r="2.3" fill="#fff" stroke="#000" stroke-width="0.55"/>
<polygon points="47.8,547.02 45.68,550.7 49.92,550.7" fill="none" stroke="#000" stroke-width="0.55"/>
<circle cx="67.9" cy="526.7" r="2.3" fill="#fff" stroke="#000" stroke-width="0.55"/>
<polygon points="47.8,548.72 45.68,552.4 49.92,552.4" fill="none" stroke="#000" stroke-width="0.55"/>
<circle cx="67.9" cy="536.8" r="2.3" fill="#fff" stroke="#000" stroke-width="0.55"/>
<polygon points="47.8,553.22 45.68,556.9 49.92,556.9" fill="none" stroke="#000" stroke-width="0.55"/>
<circle cx="67.9" cy="542.7" r="2.3" fill="#fff" stroke="#000" stroke-width="0.55"/>
<polygon points="47.8,554.62 45.68,558.3 49.92,558.3" fill="none" stroke="#000" stroke-width="0.55"/>
<circle cx="67.9" cy="544.5" r="2.3" fill="#fff" stroke="#000" stroke-width="0.55"/>
<polygon points="47.8,560.32 45.68,564 49.92,564" fill="none" stroke="#000" stroke-width="0.55"/>
<circle cx="67.9" cy="551" r="2.3" fill="#fff" stroke="#000" stroke-width="0.55"/>
<polygon points="47.8,562.12 45.68,565.8 49.92,565.8" fill="none" stroke="#000" stroke-width="0.55"/>
<circle cx="67.9" cy="562.6" r="2.3" fill="#fff" stroke="#000" stroke-width="0.55"/>
<polygon points="47.8,563.92 45.68,567.6 49.92,567.6" fill="none" stroke="#000" stroke-width="0.55"/>
<circle cx="67.9" cy="544.5" r="2.3" fill="#fff" stroke="#000" stroke-width="0.55"/>
<polygon points="47.8,569.62 45.68,573.3 49.92,573.3" fill="none" stroke="#000" stroke-width="0.55"/>
<circle cx="67.9" cy="551" r="2.3" fill="#fff" stroke="#000" stroke-width="0.55"/>
<line x1="87.5" y1="532.4" x2="107.6" y2="526.7" stroke="#222" stroke-width="0.45"/>
<line x1="87.5" y1="540.9" x2="107.6" y2="527.9" stroke="#222" stroke-width="0.45"/>
<line x1="87.5" y1="551" x2="107.6" y2="529.7" stroke="#222" stroke-width="0.45"/>
<line x1="87.5" y1="555.5" x2="107.6" y2="533.8" stroke="#222" stroke-width="0.45"/>
<line x1="87.5" y1="557.3" x2="107.6" y2="535.6" stroke="#222" stroke-width="0.45"/>
<line x1="87.5" y1="563.5" x2="107.6" y2="540.4" stroke="#222" stroke-width="0.45"/>
<line x1="87.5" y1="571.5" x2="107.6" y2="560.8" stroke="#222" stroke-width="0.45"/>
<line x1="87.5" y1="573.3" x2="107.6" y2="561.7" stroke="#222" stroke-width="0.45"/>
<line x1="87.5" y1="577.2" x2="107.6" y2="540.4" stroke="#222" stroke-width="0.45"/>
<line x1="87.5" y1="545" x2="107.6" y2="531" stroke="#222" stroke-width="0.45"/>
<line x1="87.5" y1="560" x2="107.6" y2="538" stroke="#222" stroke-width="0.45"/>
<line x1="87.5" y1="567" x2="107.6" y2="529" stroke="#222" stroke-width="0.45"/>
<polygon points="87.5,529.97 85.25,533.89 89.75,533.89" fill="#e8232b" stroke="#e8232b" stroke-width="0.3"/>
<circle cx="107.6" cy="526.7" r="2.3" fill="#e8232b" stroke="#e8232b" stroke-width="0.3"/>
<polygon points="87.5,538.47 85.25,542.39 89.75,542.39" fill="#e8232b" stroke="#e8232b" stroke-width="0.3"/>
<circle cx="107.6" cy="527.9" r="2.3" fill="#e8232b" stroke="#e8232b" stroke-width="0.3"/>
<polygon points="87.5,548.57 85.25,552.49 89.75,552.49" fill="#e8232b" stroke="#e8232b" stroke-width="0.3"/>
<circle cx="107.6" cy="529.7" r="2.3" fill="#e8232b" stroke="#e8232b" stroke-width="0.3"/>
<polygon points="87.5,553.07 85.25,556.99 89.75,556.99" fill="#e8232b" stroke="#e8232b" stroke-width="0.3"/>
<circle cx="107.6" cy="533.8" r="2.3" fill="#e8232b" stroke="#e8232b" stroke-width="0.3"/>
<polygon points="87.5,554.87 85.25,558.79 89.75,558.79" fill="#e8232b" stroke="#e8232b" stroke-width="0.3"/>
<circle cx="107.6" cy="535.6" r="2.3" fill="#e8232b" stroke="#e8232b" stroke-width="0.3"/>
<polygon points="87.5,561.07 85.25,564.99 89.75,564.99" fill="#e8232b" stroke="#e8232b" stroke-width="0.3"/>
<circle cx="107.6" cy="540.4" r="2.3" fill="#e8232b" stroke="#e8232b" stroke-width="0.3"/>
<polygon points="87.5,569.07 85.25,572.99 89.75,572.99" fill="#e8232b" stroke="#e8232b" stroke-width="0.3"/>
<circle cx="107.6" cy="560.8" r="2.3" fill="#e8232b" stroke="#e8232b" stroke-width="0.3"/>
<polygon points="87.5,570.87 85.25,574.79 89.75,574.79" fill="#e8232b" stroke="#e8232b" stroke-width="0.3"/>
<circle cx="107.6" cy="561.7" r="2.3" fill="#e8232b" stroke="#e8232b" stroke-width="0.3"/>
<polygon points="87.5,574.77 85.25,578.69 89.75,578.69" fill="#e8232b" stroke="#e8232b" stroke-width="0.3"/>
<circle cx="107.6" cy="540.4" r="2.3" fill="#e8232b" stroke="#e8232b" stroke-width="0.3"/>
<polygon points="87.5,542.57 85.25,546.49 89.75,546.49" fill="#e8232b" stroke="#e8232b" stroke-width="0.3"/>
<circle cx="107.6" cy="531" r="2.3" fill="#e8232b" stroke="#e8232b" stroke-width="0.3"/>
<polygon points="87.5,557.57 85.25,561.49 89.75,561.49" fill="#e8232b" stroke="#e8232b" stroke-width="0.3"/>
<circle cx="107.6" cy="538" r="2.3" fill="#e8232b" stroke="#e8232b" stroke-width="0.3"/>
<polygon points="87.5,564.57 85.25,568.49 89.75,568.49" fill="#e8232b" stroke="#e8232b" stroke-width="0.3"/>
<circle cx="107.6" cy="529" r="2.3" fill="#e8232b" stroke="#e8232b" stroke-width="0.3"/>
<polyline points="47.1,510.1 47.1,506.3 67.6,506.3 67.6,510.1" fill="none" stroke="#777" stroke-width="0.95"/>
<text x="57.35" y="507" font-size="9.4" font-weight="bold" text-anchor="middle" letter-spacing="0.3">**</text>
<polyline points="87.1,510.1 87.1,506.3 107.6,506.3 107.6,510.1" fill="none" stroke="#777" stroke-width="0.95"/>
<text x="97.35" y="507" font-size="9.4" font-weight="bold" text-anchor="middle" letter-spacing="0.3">***</text>
<line x1="145.9" y1="503.5" x2="145.9" y2="589.3" stroke="#5e5e5e" stroke-width="0.9"/>
<line x1="145.9" y1="589.3" x2="226.6" y2="589.3" stroke="#5e5e5e" stroke-width="0.9"/>
<line x1="142.9" y1="503.5" x2="145.9" y2="503.5" stroke="#5e5e5e" stroke-width="0.8"/>
<text transform="translate(140,506.36) scale(0.9434,1)" font-size="7.95" text-anchor="end" fill="#000">30</text>
<line x1="142.9" y1="530.9" x2="145.9" y2="530.9" stroke="#5e5e5e" stroke-width="0.8"/>
<text transform="translate(140,533.76) scale(0.9434,1)" font-size="7.95" text-anchor="end" fill="#000">20</text>
<line x1="142.9" y1="558.2" x2="145.9" y2="558.2" stroke="#5e5e5e" stroke-width="0.8"/>
<text transform="translate(140,561.06) scale(0.9434,1)" font-size="7.95" text-anchor="end" fill="#000">10</text>
<line x1="142.9" y1="585.4" x2="145.9" y2="585.4" stroke="#5e5e5e" stroke-width="0.8"/>
<text transform="translate(140,588.26) scale(0.9434,1)" font-size="7.95" text-anchor="end" fill="#000">0</text>
<line x1="167" y1="589.3" x2="167" y2="592.6" stroke="#444" stroke-width="0.85"/>
<text transform="translate(167,601.75) scale(0.9434,1)" font-size="7.63" text-anchor="middle" fill="#000">NR</text>
<line x1="208.5" y1="589.3" x2="208.5" y2="592.6" stroke="#444" stroke-width="0.85"/>
<text transform="translate(208.5,601.75) scale(0.9434,1)" font-size="7.63" text-anchor="middle" fill="#000">R</text>
<line x1="156.3" y1="577.2" x2="176.5" y2="530.6" stroke="#222" stroke-width="0.45"/>
<line x1="156.3" y1="578.6" x2="176.5" y2="556.4" stroke="#222" stroke-width="0.45"/>
<line x1="156.3" y1="582.2" x2="176.5" y2="572.9" stroke="#222" stroke-width="0.45"/>
<line x1="156.3" y1="583.6" x2="176.5" y2="575.1" stroke="#222" stroke-width="0.45"/>
<line x1="156.3" y1="584.9" x2="176.5" y2="580" stroke="#222" stroke-width="0.45"/>
<line x1="156.3" y1="585.7" x2="176.5" y2="583.1" stroke="#222" stroke-width="0.45"/>
<line x1="156.3" y1="580" x2="176.5" y2="525.6" stroke="#222" stroke-width="0.45"/>
<line x1="156.3" y1="585" x2="176.5" y2="551.6" stroke="#222" stroke-width="0.45"/>
<polygon points="156.3,574.92 154.18,578.6 158.42,578.6" fill="none" stroke="#000" stroke-width="0.55"/>
<circle cx="176.5" cy="530.6" r="2.3" fill="#fff" stroke="#000" stroke-width="0.55"/>
<polygon points="156.3,576.32 154.18,580 158.42,580" fill="none" stroke="#000" stroke-width="0.55"/>
<circle cx="176.5" cy="556.4" r="2.3" fill="#fff" stroke="#000" stroke-width="0.55"/>
<polygon points="156.3,579.92 154.18,583.6 158.42,583.6" fill="none" stroke="#000" stroke-width="0.55"/>
<circle cx="176.5" cy="572.9" r="2.3" fill="#fff" stroke="#000" stroke-width="0.55"/>
<polygon points="156.3,581.32 154.18,585 158.42,585" fill="none" stroke="#000" stroke-width="0.55"/>
<circle cx="176.5" cy="575.1" r="2.3" fill="#fff" stroke="#000" stroke-width="0.55"/>
<polygon points="156.3,582.62 154.18,586.3 158.42,586.3" fill="none" stroke="#000" stroke-width="0.55"/>
<circle cx="176.5" cy="580" r="2.3" fill="#fff" stroke="#000" stroke-width="0.55"/>
<polygon points="156.3,583.42 154.18,587.1 158.42,587.1" fill="none" stroke="#000" stroke-width="0.55"/>
<circle cx="176.5" cy="583.1" r="2.3" fill="#fff" stroke="#000" stroke-width="0.55"/>
<polygon points="156.3,577.72 154.18,581.4 158.42,581.4" fill="none" stroke="#000" stroke-width="0.55"/>
<circle cx="176.5" cy="525.6" r="2.3" fill="#fff" stroke="#000" stroke-width="0.55"/>
<polygon points="156.3,582.72 154.18,586.4 158.42,586.4" fill="none" stroke="#000" stroke-width="0.55"/>
<circle cx="176.5" cy="551.6" r="2.3" fill="#fff" stroke="#000" stroke-width="0.55"/>
<line x1="196.4" y1="565.3" x2="216.5" y2="510.7" stroke="#222" stroke-width="0.45"/>
<line x1="196.4" y1="576" x2="216.5" y2="517.2" stroke="#222" stroke-width="0.45"/>
<line x1="196.4" y1="577.7" x2="216.5" y2="525.6" stroke="#222" stroke-width="0.45"/>
<line x1="196.4" y1="579.5" x2="216.5" y2="537.7" stroke="#222" stroke-width="0.45"/>
<line x1="196.4" y1="581.3" x2="216.5" y2="548.4" stroke="#222" stroke-width="0.45"/>
<line x1="196.4" y1="583.1" x2="216.5" y2="552.3" stroke="#222" stroke-width="0.45"/>
<line x1="196.4" y1="584.9" x2="216.5" y2="558.7" stroke="#222" stroke-width="0.45"/>
<line x1="196.4" y1="585.7" x2="216.5" y2="563.5" stroke="#222" stroke-width="0.45"/>
<line x1="196.4" y1="580" x2="216.5" y2="571.9" stroke="#222" stroke-width="0.45"/>
<line x1="196.4" y1="582" x2="216.5" y2="577.7" stroke="#222" stroke-width="0.45"/>
<line x1="196.4" y1="578" x2="216.5" y2="545" stroke="#222" stroke-width="0.45"/>
<polygon points="196.4,562.87 194.15,566.79 198.65,566.79" fill="#e8232b" stroke="#e8232b" stroke-width="0.3"/>
<circle cx="216.5" cy="510.7" r="2.3" fill="#e8232b" stroke="#e8232b" stroke-width="0.3"/>
<polygon points="196.4,573.57 194.15,577.49 198.65,577.49" fill="#e8232b" stroke="#e8232b" stroke-width="0.3"/>
<circle cx="216.5" cy="517.2" r="2.3" fill="#e8232b" stroke="#e8232b" stroke-width="0.3"/>
<polygon points="196.4,575.27 194.15,579.19 198.65,579.19" fill="#e8232b" stroke="#e8232b" stroke-width="0.3"/>
<circle cx="216.5" cy="525.6" r="2.3" fill="#e8232b" stroke="#e8232b" stroke-width="0.3"/>
<polygon points="196.4,577.07 194.15,580.99 198.65,580.99" fill="#e8232b" stroke="#e8232b" stroke-width="0.3"/>
<circle cx="216.5" cy="537.7" r="2.3" fill="#e8232b" stroke="#e8232b" stroke-width="0.3"/>
<polygon points="196.4,578.87 194.15,582.79 198.65,582.79" fill="#e8232b" stroke="#e8232b" stroke-width="0.3"/>
<circle cx="216.5" cy="548.4" r="2.3" fill="#e8232b" stroke="#e8232b" stroke-width="0.3"/>
<polygon points="196.4,580.67 194.15,584.59 198.65,584.59" fill="#e8232b" stroke="#e8232b" stroke-width="0.3"/>
<circle cx="216.5" cy="552.3" r="2.3" fill="#e8232b" stroke="#e8232b" stroke-width="0.3"/>
<polygon points="196.4,582.47 194.15,586.39 198.65,586.39" fill="#e8232b" stroke="#e8232b" stroke-width="0.3"/>
<circle cx="216.5" cy="558.7" r="2.3" fill="#e8232b" stroke="#e8232b" stroke-width="0.3"/>
<polygon points="196.4,583.27 194.15,587.19 198.65,587.19" fill="#e8232b" stroke="#e8232b" stroke-width="0.3"/>
<circle cx="216.5" cy="563.5" r="2.3" fill="#e8232b" stroke="#e8232b" stroke-width="0.3"/>
<polygon points="196.4,577.57 194.15,581.49 198.65,581.49" fill="#e8232b" stroke="#e8232b" stroke-width="0.3"/>
<circle cx="216.5" cy="571.9" r="2.3" fill="#e8232b" stroke="#e8232b" stroke-width="0.3"/>
<polygon points="196.4,579.57 194.15,583.49 198.65,583.49" fill="#e8232b" stroke="#e8232b" stroke-width="0.3"/>
<circle cx="216.5" cy="577.7" r="2.3" fill="#e8232b" stroke="#e8232b" stroke-width="0.3"/>
<polygon points="196.4,575.57 194.15,579.49 198.65,579.49" fill="#e8232b" stroke="#e8232b" stroke-width="0.3"/>
<circle cx="216.5" cy="545" r="2.3" fill="#e8232b" stroke="#e8232b" stroke-width="0.3"/>
<polyline points="155.8,505.4 155.8,501.8 175.9,501.8 175.9,505.4" fill="none" stroke="#777" stroke-width="0.95"/>
<text x="165.85" y="502.6" font-size="9.4" font-weight="bold" text-anchor="middle" letter-spacing="0.3">**</text>
<polyline points="196.4,505.4 196.4,501.8 216.5,501.8 216.5,505.4" fill="none" stroke="#777" stroke-width="0.95"/>
<text x="206.45" y="502.6" font-size="9.4" font-weight="bold" text-anchor="middle" letter-spacing="0.3">***</text>
<line x1="258.3" y1="505.3" x2="258.3" y2="589.3" stroke="#5e5e5e" stroke-width="0.9"/>
<line x1="258.3" y1="589.3" x2="338.6" y2="589.3" stroke="#5e5e5e" stroke-width="0.9"/>
<line x1="255.3" y1="505.3" x2="258.3" y2="505.3" stroke="#5e5e5e" stroke-width="0.8"/>
<text transform="translate(252.4,508.16) scale(0.9434,1)" font-size="7.95" text-anchor="end" fill="#000">100</text>
<line x1="255.3" y1="521.3" x2="258.3" y2="521.3" stroke="#5e5e5e" stroke-width="0.8"/>
<text transform="translate(252.4,524.16) scale(0.9434,1)" font-size="7.95" text-anchor="end" fill="#000">80</text>
<line x1="255.3" y1="537.7" x2="258.3" y2="537.7" stroke="#5e5e5e" stroke-width="0.8"/>
<text transform="translate(252.4,540.56) scale(0.9434,1)" font-size="7.95" text-anchor="end" fill="#000">60</text>
<line x1="255.3" y1="553.7" x2="258.3" y2="553.7" stroke="#5e5e5e" stroke-width="0.8"/>
<text transform="translate(252.4,556.56) scale(0.9434,1)" font-size="7.95" text-anchor="end" fill="#000">40</text>
<line x1="255.3" y1="570.2" x2="258.3" y2="570.2" stroke="#5e5e5e" stroke-width="0.8"/>
<text transform="translate(252.4,573.06) scale(0.9434,1)" font-size="7.95" text-anchor="end" fill="#000">20</text>
<line x1="255.3" y1="586.6" x2="258.3" y2="586.6" stroke="#5e5e5e" stroke-width="0.8"/>
<text transform="translate(252.4,589.46) scale(0.9434,1)" font-size="7.95" text-anchor="end" fill="#000">0</text>
<line x1="278.5" y1="589.3" x2="278.5" y2="592.6" stroke="#444" stroke-width="0.85"/>
<text transform="translate(278.5,601.75) scale(0.9434,1)" font-size="7.63" text-anchor="middle" fill="#000">NR</text>
<line x1="319.4" y1="589.3" x2="319.4" y2="592.6" stroke="#444" stroke-width="0.85"/>
<text transform="translate(319.4,601.75) scale(0.9434,1)" font-size="7.63" text-anchor="middle" fill="#000">R</text>
<line x1="268.9" y1="510.7" x2="288.8" y2="508.9" stroke="#222" stroke-width="0.45"/>
<line x1="268.9" y1="520.8" x2="288.8" y2="514.2" stroke="#222" stroke-width="0.45"/>
<line x1="268.9" y1="543" x2="288.8" y2="528.8" stroke="#222" stroke-width="0.45"/>
<line x1="268.9" y1="544.8" x2="288.8" y2="530.2" stroke="#222" stroke-width="0.45"/>
<line x1="268.9" y1="546.6" x2="288.8" y2="531.5" stroke="#222" stroke-width="0.45"/>
<line x1="268.9" y1="548.4" x2="288.8" y2="537.7" stroke="#222" stroke-width="0.45"/>
<line x1="268.9" y1="549.3" x2="288.8" y2="549.8" stroke="#222" stroke-width="0.45"/>
<line x1="268.9" y1="549.3" x2="288.8" y2="551.9" stroke="#222" stroke-width="0.45"/>
<polygon points="268.9,508.42 266.78,512.1 271.02,512.1" fill="none" stroke="#000" stroke-width="0.55"/>
<circle cx="288.8" cy="508.9" r="2.3" fill="#fff" stroke="#000" stroke-width="0.55"/>
<polygon points="268.9,518.52 266.78,522.2 271.02,522.2" fill="none" stroke="#000" stroke-width="0.55"/>
<circle cx="288.8" cy="514.2" r="2.3" fill="#fff" stroke="#000" stroke-width="0.55"/>
<polygon points="268.9,540.72 266.78,544.4 271.02,544.4" fill="none" stroke="#000" stroke-width="0.55"/>
<circle cx="288.8" cy="528.8" r="2.3" fill="#fff" stroke="#000" stroke-width="0.55"/>
<polygon points="268.9,542.52 266.78,546.2 271.02,546.2" fill="none" stroke="#000" stroke-width="0.55"/>
<circle cx="288.8" cy="530.2" r="2.3" fill="#fff" stroke="#000" stroke-width="0.55"/>
<polygon points="268.9,544.32 266.78,548 271.02,548" fill="none" stroke="#000" stroke-width="0.55"/>
<circle cx="288.8" cy="531.5" r="2.3" fill="#fff" stroke="#000" stroke-width="0.55"/>
<polygon points="268.9,546.12 266.78,549.8 271.02,549.8" fill="none" stroke="#000" stroke-width="0.55"/>
<circle cx="288.8" cy="537.7" r="2.3" fill="#fff" stroke="#000" stroke-width="0.55"/>
<polygon points="268.9,547.02 266.78,550.7 271.02,550.7" fill="none" stroke="#000" stroke-width="0.55"/>
<circle cx="288.8" cy="549.8" r="2.3" fill="#fff" stroke="#000" stroke-width="0.55"/>
<polygon points="268.9,547.02 266.78,550.7 271.02,550.7" fill="none" stroke="#000" stroke-width="0.55"/>
<circle cx="288.8" cy="551.9" r="2.3" fill="#fff" stroke="#000" stroke-width="0.55"/>
<line x1="308.7" y1="516.4" x2="328.5" y2="508.9" stroke="#222" stroke-width="0.45"/>
<line x1="308.7" y1="518.1" x2="328.5" y2="514.6" stroke="#222" stroke-width="0.45"/>
<line x1="308.7" y1="519.6" x2="328.5" y2="514.6" stroke="#222" stroke-width="0.45"/>
<line x1="308.7" y1="536.8" x2="328.5" y2="526.1" stroke="#222" stroke-width="0.45"/>
<line x1="308.7" y1="545.7" x2="328.5" y2="531.5" stroke="#222" stroke-width="0.45"/>
<line x1="308.7" y1="552.8" x2="328.5" y2="536.8" stroke="#222" stroke-width="0.45"/>
<line x1="308.7" y1="560.8" x2="328.5" y2="538.6" stroke="#222" stroke-width="0.45"/>
<line x1="308.7" y1="562.6" x2="328.5" y2="542.2" stroke="#222" stroke-width="0.45"/>
<line x1="308.7" y1="564.4" x2="328.5" y2="545.7" stroke="#222" stroke-width="0.45"/>
<line x1="308.7" y1="566.2" x2="328.5" y2="548" stroke="#222" stroke-width="0.45"/>
<line x1="308.7" y1="567.1" x2="328.5" y2="550.5" stroke="#222" stroke-width="0.45"/>
<line x1="308.7" y1="565" x2="328.5" y2="555.1" stroke="#222" stroke-width="0.45"/>
<polygon points="308.7,513.97 306.45,517.89 310.95,517.89" fill="#e8232b" stroke="#e8232b" stroke-width="0.3"/>
<circle cx="328.5" cy="508.9" r="2.3" fill="#e8232b" stroke="#e8232b" stroke-width="0.3"/>
<polygon points="308.7,515.67 306.45,519.59 310.95,519.59" fill="#e8232b" stroke="#e8232b" stroke-width="0.3"/>
<circle cx="328.5" cy="514.6" r="2.3" fill="#e8232b" stroke="#e8232b" stroke-width="0.3"/>
<polygon points="308.7,517.17 306.45,521.09 310.95,521.09" fill="#e8232b" stroke="#e8232b" stroke-width="0.3"/>
<circle cx="328.5" cy="514.6" r="2.3" fill="#e8232b" stroke="#e8232b" stroke-width="0.3"/>
<polygon points="308.7,534.37 306.45,538.29 310.95,538.29" fill="#e8232b" stroke="#e8232b" stroke-width="0.3"/>
<circle cx="328.5" cy="526.1" r="2.3" fill="#e8232b" stroke="#e8232b" stroke-width="0.3"/>
<polygon points="308.7,543.27 306.45,547.19 310.95,547.19" fill="#e8232b" stroke="#e8232b" stroke-width="0.3"/>
<circle cx="328.5" cy="531.5" r="2.3" fill="#e8232b" stroke="#e8232b" stroke-width="0.3"/>
<polygon points="308.7,550.37 306.45,554.29 310.95,554.29" fill="#e8232b" stroke="#e8232b" stroke-width="0.3"/>
<circle cx="328.5" cy="536.8" r="2.3" fill="#e8232b" stroke="#e8232b" stroke-width="0.3"/>
<polygon points="308.7,558.37 306.45,562.29 310.95,562.29" fill="#e8232b" stroke="#e8232b" stroke-width="0.3"/>
<circle cx="328.5" cy="538.6" r="2.3" fill="#e8232b" stroke="#e8232b" stroke-width="0.3"/>
<polygon points="308.7,560.17 306.45,564.09 310.95,564.09" fill="#e8232b" stroke="#e8232b" stroke-width="0.3"/>
<circle cx="328.5" cy="542.2" r="2.3" fill="#e8232b" stroke="#e8232b" stroke-width="0.3"/>
<polygon points="308.7,561.97 306.45,565.89 310.95,565.89" fill="#e8232b" stroke="#e8232b" stroke-width="0.3"/>
<circle cx="328.5" cy="545.7" r="2.3" fill="#e8232b" stroke="#e8232b" stroke-width="0.3"/>
<polygon points="308.7,563.77 306.45,567.69 310.95,567.69" fill="#e8232b" stroke="#e8232b" stroke-width="0.3"/>
<circle cx="328.5" cy="548" r="2.3" fill="#e8232b" stroke="#e8232b" stroke-width="0.3"/>
<polygon points="308.7,564.67 306.45,568.59 310.95,568.59" fill="#e8232b" stroke="#e8232b" stroke-width="0.3"/>
<circle cx="328.5" cy="550.5" r="2.3" fill="#e8232b" stroke="#e8232b" stroke-width="0.3"/>
<polygon points="308.7,562.57 306.45,566.49 310.95,566.49" fill="#e8232b" stroke="#e8232b" stroke-width="0.3"/>
<circle cx="328.5" cy="555.1" r="2.3" fill="#e8232b" stroke="#e8232b" stroke-width="0.3"/>
<polyline points="308.7,505 308.7,501.4 328.8,501.4 328.8,505" fill="none" stroke="#777" stroke-width="0.95"/>
<text x="318.75" y="502.2" font-size="9.4" font-weight="bold" text-anchor="middle" letter-spacing="0.3">***</text>
<line x1="365.4" y1="505.3" x2="365.4" y2="589.3" stroke="#5e5e5e" stroke-width="0.9"/>
<line x1="365.4" y1="589.3" x2="445.6" y2="589.3" stroke="#5e5e5e" stroke-width="0.9"/>
<line x1="362.4" y1="505.3" x2="365.4" y2="505.3" stroke="#5e5e5e" stroke-width="0.8"/>
<text transform="translate(359.5,508.16) scale(0.9434,1)" font-size="7.95" text-anchor="end" fill="#000">25</text>
<line x1="362.4" y1="521.7" x2="365.4" y2="521.7" stroke="#5e5e5e" stroke-width="0.8"/>
<text transform="translate(359.5,524.56) scale(0.9434,1)" font-size="7.95" text-anchor="end" fill="#000">20</text>
<line x1="362.4" y1="537.7" x2="365.4" y2="537.7" stroke="#5e5e5e" stroke-width="0.8"/>
<text transform="translate(359.5,540.56) scale(0.9434,1)" font-size="7.95" text-anchor="end" fill="#000">15</text>
<line x1="362.4" y1="553.7" x2="365.4" y2="553.7" stroke="#5e5e5e" stroke-width="0.8"/>
<text transform="translate(359.5,556.56) scale(0.9434,1)" font-size="7.95" text-anchor="end" fill="#000">10</text>
<line x1="362.4" y1="570.1" x2="365.4" y2="570.1" stroke="#5e5e5e" stroke-width="0.8"/>
<text transform="translate(359.5,572.96) scale(0.9434,1)" font-size="7.95" text-anchor="end" fill="#000">5</text>
<line x1="362.4" y1="586.6" x2="365.4" y2="586.6" stroke="#5e5e5e" stroke-width="0.8"/>
<text transform="translate(359.5,589.46) scale(0.9434,1)" font-size="7.95" text-anchor="end" fill="#000">0</text>
<line x1="385.1" y1="589.3" x2="385.1" y2="592.6" stroke="#444" stroke-width="0.85"/>
<text transform="translate(385.1,601.75) scale(0.9434,1)" font-size="7.63" text-anchor="middle" fill="#000">NR</text>
<line x1="426.9" y1="589.3" x2="426.9" y2="592.6" stroke="#444" stroke-width="0.85"/>
<text transform="translate(426.9,601.75) scale(0.9434,1)" font-size="7.63" text-anchor="middle" fill="#000">R</text>
<line x1="376.2" y1="577.7" x2="396.7" y2="580" stroke="#222" stroke-width="0.45"/>
<line x1="376.2" y1="580.4" x2="396.7" y2="576.9" stroke="#222" stroke-width="0.45"/>
<line x1="376.2" y1="585.7" x2="396.7" y2="586.1" stroke="#222" stroke-width="0.45"/>
<line x1="376.2" y1="587.2" x2="396.7" y2="587.2" stroke="#222" stroke-width="0.45"/>
<polygon points="376.2,575.42 374.08,579.1 378.32,579.1" fill="none" stroke="#000" stroke-width="0.55"/>
<circle cx="396.7" cy="580" r="2.3" fill="#fff" stroke="#000" stroke-width="0.55"/>
<polygon points="376.2,578.12 374.08,581.8 378.32,581.8" fill="none" stroke="#000" stroke-width="0.55"/>
<circle cx="396.7" cy="576.9" r="2.3" fill="#fff" stroke="#000" stroke-width="0.55"/>
<polygon points="376.2,583.42 374.08,587.1 378.32,587.1" fill="none" stroke="#000" stroke-width="0.55"/>
<circle cx="396.7" cy="586.1" r="2.3" fill="#fff" stroke="#000" stroke-width="0.55"/>
<polygon points="376.2,584.92 374.08,588.6 378.32,588.6" fill="none" stroke="#000" stroke-width="0.55"/>
<circle cx="396.7" cy="587.2" r="2.3" fill="#fff" stroke="#000" stroke-width="0.55"/>
<line x1="416.3" y1="562.3" x2="436.4" y2="518.1" stroke="#222" stroke-width="0.45"/>
<line x1="416.3" y1="572.9" x2="436.4" y2="555.1" stroke="#222" stroke-width="0.45"/>
<line x1="416.3" y1="576.9" x2="436.4" y2="565.8" stroke="#222" stroke-width="0.45"/>
<line x1="416.3" y1="583.1" x2="436.4" y2="567.1" stroke="#222" stroke-width="0.45"/>
<line x1="416.3" y1="584.9" x2="436.4" y2="574.2" stroke="#222" stroke-width="0.45"/>
<line x1="416.3" y1="585.7" x2="436.4" y2="576" stroke="#222" stroke-width="0.45"/>
<line x1="416.3" y1="586.6" x2="436.4" y2="578.6" stroke="#222" stroke-width="0.45"/>
<line x1="416.3" y1="587.2" x2="436.4" y2="581.3" stroke="#222" stroke-width="0.45"/>
<line x1="416.3" y1="586" x2="436.4" y2="584" stroke="#222" stroke-width="0.45"/>
<line x1="416.3" y1="587" x2="436.4" y2="585.7" stroke="#222" stroke-width="0.45"/>
<line x1="416.3" y1="587.2" x2="436.4" y2="587.2" stroke="#222" stroke-width="0.45"/>
<polygon points="416.3,559.87 414.05,563.79 418.55,563.79" fill="#e8232b" stroke="#e8232b" stroke-width="0.3"/>
<circle cx="436.4" cy="518.1" r="2.3" fill="#e8232b" stroke="#e8232b" stroke-width="0.3"/>
<polygon points="416.3,570.47 414.05,574.39 418.55,574.39" fill="#e8232b" stroke="#e8232b" stroke-width="0.3"/>
<circle cx="436.4" cy="555.1" r="2.3" fill="#e8232b" stroke="#e8232b" stroke-width="0.3"/>
<polygon points="416.3,574.47 414.05,578.39 418.55,578.39" fill="#e8232b" stroke="#e8232b" stroke-width="0.3"/>
<circle cx="436.4" cy="565.8" r="2.3" fill="#e8232b" stroke="#e8232b" stroke-width="0.3"/>
<polygon points="416.3,580.67 414.05,584.59 418.55,584.59" fill="#e8232b" stroke="#e8232b" stroke-width="0.3"/>
<circle cx="436.4" cy="567.1" r="2.3" fill="#e8232b" stroke="#e8232b" stroke-width="0.3"/>
<polygon points="416.3,582.47 414.05,586.39 418.55,586.39" fill="#e8232b" stroke="#e8232b" stroke-width="0.3"/>
<circle cx="436.4" cy="574.2" r="2.3" fill="#e8232b" stroke="#e8232b" stroke-width="0.3"/>
<polygon points="416.3,583.27 414.05,587.19 418.55,587.19" fill="#e8232b" stroke="#e8232b" stroke-width="0.3"/>
<circle cx="436.4" cy="576" r="2.3" fill="#e8232b" stroke="#e8232b" stroke-width="0.3"/>
<polygon points="416.3,584.17 414.05,588.09 418.55,588.09" fill="#e8232b" stroke="#e8232b" stroke-width="0.3"/>
<circle cx="436.4" cy="578.6" r="2.3" fill="#e8232b" stroke="#e8232b" stroke-width="0.3"/>
<polygon points="416.3,584.77 414.05,588.69 418.55,588.69" fill="#e8232b" stroke="#e8232b" stroke-width="0.3"/>
<circle cx="436.4" cy="581.3" r="2.3" fill="#e8232b" stroke="#e8232b" stroke-width="0.3"/>
<polygon points="416.3,583.57 414.05,587.49 418.55,587.49" fill="#e8232b" stroke="#e8232b" stroke-width="0.3"/>
<circle cx="436.4" cy="584" r="2.3" fill="#e8232b" stroke="#e8232b" stroke-width="0.3"/>
<polygon points="416.3,584.57 414.05,588.49 418.55,588.49" fill="#e8232b" stroke="#e8232b" stroke-width="0.3"/>
<circle cx="436.4" cy="585.7" r="2.3" fill="#e8232b" stroke="#e8232b" stroke-width="0.3"/>
<polygon points="416.3,584.77 414.05,588.69 418.55,588.69" fill="#e8232b" stroke="#e8232b" stroke-width="0.3"/>
<circle cx="436.4" cy="587.2" r="2.3" fill="#e8232b" stroke="#e8232b" stroke-width="0.3"/>
<polyline points="415.4,511.5 415.4,507.5 435.5,507.5 435.5,511.5" fill="none" stroke="#777" stroke-width="0.95"/>
<text x="425.45" y="508.3" font-size="9.4" font-weight="bold" text-anchor="middle" letter-spacing="0.3">***</text>
<line x1="459" y1="499.4" x2="469" y2="499.4" stroke="#000" stroke-width="0.8"/>
<polygon points="464,497.46 462.2,500.59 465.8,500.59" fill="#000" stroke="#000" stroke-width="0.3"/>
<text transform="translate(472.3,502.15) scale(0.9434,1)" font-size="7.63" text-anchor="start" fill="#000">Untreated</text>
<line x1="459" y1="511.7" x2="469" y2="511.7" stroke="#000" stroke-width="0.8"/>
<circle cx="464" cy="511.7" r="2" fill="#000" stroke="#000" stroke-width="0.3"/>
<text transform="translate(472.3,514.45) scale(0.9434,1)" font-size="7.63" text-anchor="start" fill="#000">CD8–IL2</text>
</svg></body></html>
